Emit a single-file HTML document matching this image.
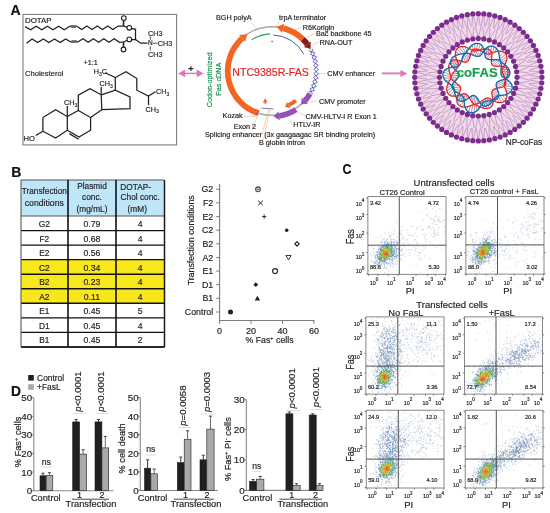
<!DOCTYPE html>
<html><head><meta charset="utf-8"><title>Figure</title>
<style>html,body{margin:0;padding:0;background:#fff;} svg{display:block;}</style></head>
<body><svg width="550" height="513" viewBox="0 0 550 513" font-family="Liberation Sans, Arial, sans-serif">
<rect width="550" height="513" fill="#fff"/>
<text x="10.6" y="14.7" font-size="14" font-weight="bold" fill="#111" stroke="#111" stroke-width="0.18">A</text>
<rect x="23" y="14.4" width="153.6" height="130.5" fill="none" stroke="#7d7d7d" stroke-width="1.1"/>
<text x="25.0" y="23.1" font-size="7.9" fill="#231f20" stroke="#231f20" stroke-width="0.18">DOTAP</text>
<polyline points="25.0,26.6 30.6,29.8 36.2,26.3 41.8,29.8 47.4,26.3 53.0,29.8 58.6,26.3 64.2,29.8 70.2,26.0" fill="none" stroke="#231f20" stroke-width="1.25"/>
<line x1="70.2" y1="26.0" x2="76.5" y2="26.0" stroke="#231f20" stroke-width="1.25"/>
<line x1="70.8" y1="27.3" x2="76.0" y2="27.3" stroke="#231f20" stroke-width="0.8"/>
<polyline points="76.5,26.0 81.7,29.4 86.9,26.0 92.1,29.4 97.3,26.0 102.5,29.4 107.7,26.0 112.9,29.4 118.1,26.0 123.5,26.0" fill="none" stroke="#231f20" stroke-width="1.25"/>
<polyline points="26.5,43.2 32.1,38.9 37.7,42.5 43.3,38.9 48.9,42.5 54.5,38.9 60.1,42.5 65.7,38.9 70.8,42.0" fill="none" stroke="#231f20" stroke-width="1.25"/>
<line x1="70.8" y1="42.0" x2="77.8" y2="42.0" stroke="#231f20" stroke-width="1.25"/>
<line x1="71.4" y1="40.8" x2="77.2" y2="40.8" stroke="#231f20" stroke-width="0.8"/>
<polyline points="77.8,42.0 83.0,38.8 88.2,42.3 93.4,38.8 98.6,42.3 103.8,38.8 109.0,42.3 114.2,38.8 119.4,42.3 123.5,42.0" fill="none" stroke="#231f20" stroke-width="1.25"/>
<line x1="123.5" y1="26.0" x2="123.6" y2="20.2" stroke="#231f20" stroke-width="1.6"/>
<circle cx="123.8" cy="18.1" r="2.35" fill="#fff" stroke="#231f20" stroke-width="1.1"/>
<line x1="123.5" y1="42.0" x2="123.5" y2="47.3" stroke="#231f20" stroke-width="1.6"/>
<circle cx="123.5" cy="49.5" r="2.35" fill="#fff" stroke="#231f20" stroke-width="1.1"/>
<line x1="123.5" y1="26.0" x2="127.2" y2="27.4" stroke="#231f20" stroke-width="1.25"/>
<circle cx="129.3" cy="27.8" r="2.35" fill="#fff" stroke="#231f20" stroke-width="1.1"/>
<line x1="123.5" y1="42.0" x2="127.3" y2="40.2" stroke="#231f20" stroke-width="1.25"/>
<circle cx="129.3" cy="39.4" r="2.35" fill="#fff" stroke="#231f20" stroke-width="1.1"/>
<polyline points="131.4,28.3 135.5,29.3 135.5,39.5 131.4,39.5" fill="none" stroke="#231f20" stroke-width="1.25"/>
<polyline points="135.5,39.5 140.7,43.2 147.6,43.2" fill="none" stroke="#231f20" stroke-width="1.25"/>
<text x="148.0" y="45.3" font-size="6.5" fill="#231f20" stroke="#231f20" stroke-width="0.18">N</text>
<line x1="150.3" y1="36.5" x2="150.3" y2="39.8" stroke="#231f20" stroke-width="0.8"/>
<line x1="150.3" y1="46.3" x2="150.3" y2="50.5" stroke="#231f20" stroke-width="0.8"/>
<line x1="153.0" y1="43.2" x2="157.5" y2="43.2" stroke="#231f20" stroke-width="0.8"/>
<text x="148.0" y="36.0" font-size="7.2" fill="#231f20" stroke="#231f20" stroke-width="0.18">CH3</text>
<text x="157.8" y="45.8" font-size="7.2" fill="#231f20" stroke="#231f20" stroke-width="0.18">CH3</text>
<text x="148.0" y="57.0" font-size="7.2" fill="#231f20" stroke="#231f20" stroke-width="0.18">CH3</text>
<text x="25.0" y="75.6" font-size="7.6" fill="#231f20" stroke="#231f20" stroke-width="0.18">Cholesterol</text>
<text x="83.5" y="65.0" font-size="7.2" fill="#231f20" stroke="#231f20" stroke-width="0.18">+1:1</text>
<polyline points="42.9,117.5 55.6,109.7 67.3,116.5 67.3,130.2 55.6,138.0 42.9,131.2 42.9,117.5" fill="none" stroke="#231f20" stroke-width="1.25"/>
<polyline points="67.3,116.5 78.3,110.5 90.6,117.5 90.6,130.2 79.0,137.0 67.3,130.2" fill="none" stroke="#231f20" stroke-width="1.25"/>
<line x1="69.3" y1="133.6" x2="78.6" y2="139.3" stroke="#231f20" stroke-width="1.25"/>
<polyline points="78.3,110.5 78.3,95.2 90.0,88.8 101.2,94.8 101.8,109.7 90.6,117.5" fill="none" stroke="#231f20" stroke-width="1.25"/>
<polyline points="101.2,94.8 115.3,90.2 130.0,97.0 130.0,108.7 101.8,109.7" fill="none" stroke="#231f20" stroke-width="1.25"/>
<line x1="42.9" y1="131.2" x2="35.8" y2="135.5" stroke="#231f20" stroke-width="1.25"/>
<text x="23.6" y="141.3" font-size="7.6" fill="#231f20" stroke="#231f20" stroke-width="0.18">HO</text>
<line x1="67.3" y1="116.5" x2="67.3" y2="106.0" stroke="#231f20" stroke-width="1.25"/>
<text x="64" y="105.4" font-size="7.2" fill="#231f20" stroke="#231f20" stroke-width="0.18">CH<tspan font-size="5" dy="1.5">3</tspan></text>
<line x1="101.2" y1="94.8" x2="101.2" y2="87.0" stroke="#231f20" stroke-width="1.25"/>
<text x="99.5" y="86.3" font-size="7.2" fill="#231f20" stroke="#231f20" stroke-width="0.18">CH<tspan font-size="5" dy="1.5">3</tspan></text>
<polyline points="115.3,90.2 115.3,77.5 126.0,71.7 136.8,78.5 136.8,90.2 148.5,96.0 155.5,91.8" fill="none" stroke="#231f20" stroke-width="1.25"/>
<line x1="115.3" y1="77.5" x2="105.0" y2="72.8" stroke="#231f20" stroke-width="1.25"/>
<text x="93.8" y="74.2" font-size="7.2" fill="#231f20" stroke="#231f20" stroke-width="0.18">H<tspan font-size="5" dy="1.5">3</tspan><tspan dy="-1.5">C</tspan></text>
<line x1="148.5" y1="96.0" x2="148.5" y2="105.0" stroke="#231f20" stroke-width="1.25"/>
<text x="156" y="94" font-size="7.2" fill="#231f20" stroke="#231f20" stroke-width="0.18">CH<tspan font-size="5" dy="1.5">3</tspan></text>
<text x="145.5" y="111.8" font-size="7.2" fill="#231f20" stroke="#231f20" stroke-width="0.18">CH<tspan font-size="5" dy="1.5">3</tspan></text>
<line x1="184.0" y1="73.4" x2="198.0" y2="73.4" stroke="#d978bd" stroke-width="1.5"/>
<polygon points="178.2,73.4 185.2,69.6 185.2,77.2" fill="#d978bd"/>
<polygon points="203.7,73.4 196.7,69.6 196.7,77.2" fill="#d978bd"/>
<text x="190.8" y="71.6" font-size="9" text-anchor="middle" font-weight="bold" fill="#231f20" stroke="#231f20" stroke-width="0.18">+</text>
<line x1="381.8" y1="73.4" x2="402.0" y2="73.4" stroke="#d978bd" stroke-width="1.9"/>
<polygon points="407.5,73.4 400.4,69.9 400.4,76.9" fill="#d978bd"/>
<circle cx="272" cy="71" r="44.3" fill="none" stroke="#a7a9ac" stroke-width="1.4"/>
<path d="M258.31,113.13 A44.3,44.3 0 0 1 242.12,38.29" fill="none" stroke="#f26522" stroke-width="5.8"/>
<polygon points="245.23,41.69 239.02,34.89 247.23,34.27" fill="#f26522"/>
<path d="M283.02,28.09 A44.3,44.3 0 0 1 302.77,39.13" fill="none" stroke="#f26522" stroke-width="5.8"/>
<polygon points="281.88,32.55 284.17,23.64 276.63,26.94" fill="#f26522"/>
<path d="M302.77,39.13 A44.3,44.3 0 0 1 307.33,44.27" fill="none" stroke="#8b1a1a" stroke-width="5.8"/>
<polygon points="303.82,46.92 310.84,41.61 310.36,48.85" fill="#8b1a1a"/>
<path d="M310.75,49.52 A44.3,44.3 0 0 1 310.36,93.15" fill="none" stroke="#fff" stroke-width="4.6"/>
<polyline points="308.9,51.0 314.8,52.7 312.0,58.1 317.5,60.9 313.7,65.7 318.6,69.4 313.9,73.5 318.1,78.1 312.7,81.2 316.0,86.5 310.2,88.5 312.4,94.3" fill="none" stroke="#4b4fae" stroke-width="0.85"/>
<polyline points="313.0,48.8 310.6,54.5 316.4,56.7 313.0,61.9 318.2,65.1 314.0,69.6 318.5,73.8 313.5,77.4 317.2,82.3 311.6,84.9 314.3,90.5 308.4,92.0" fill="none" stroke="#4b4fae" stroke-width="0.85"/>
<path d="M309.97,93.82 A44.3,44.3 0 0 1 304.98,100.58" fill="none" stroke="#9651b8" stroke-width="5.6"/>
<polygon points="301.70,97.64 308.26,103.51 301.06,104.43" fill="#9651b8"/>
<path d="M296.11,109.59 A45.5,45.5 0 0 1 279.06,115.95" fill="none" stroke="#9651b8" stroke-width="5.6"/>
<polygon points="278.38,111.60 279.74,120.30 273.59,116.47" fill="#9651b8"/>
<path d="M295.91,100.53 A38,38 0 0 1 288.68,105.15" fill="none" stroke="#f26522" stroke-width="4"/>
<polygon points="287.14,102.00 290.21,108.29 285.00,106.71" fill="#f26522"/>
<polygon points="265.2,98.2 262.8,102.6 267.6,102.6" fill="#f26522"/>
<line x1="265.2" y1="102.0" x2="265.2" y2="104.0" stroke="#f26522" stroke-width="1.2"/>
<path d="M251.74,39.80 A37.2,37.2 0 0 1 270.05,33.85" fill="none" stroke="#1fa463" stroke-width="1.2"/>
<path d="M273.26,35.02 A36,36 0 0 1 303.79,54.10" fill="none" stroke="#4b5cb0" stroke-width="1"/>
<rect x="271.3" y="40.8" width="1.5" height="1.3" fill="#4b5cb0"/>
<line x1="262.0" y1="108.2" x2="273.5" y2="109.0" stroke="#4b5cb0" stroke-width="0.8"/>
<line x1="258.0" y1="111.2" x2="257.0" y2="114.6" stroke="#6a5cc0" stroke-width="1.4"/>
<text x="270.6" y="76.2" font-size="10.6" text-anchor="middle" fill="#e0262e" stroke="#e0262e" stroke-width="0.18">NTC9385R-FAS</text>
<text x="216.0" y="20.0" font-size="7.2" fill="#231f20" stroke="#231f20" stroke-width="0.18">BGH polyA</text>
<text x="279.0" y="19.6" font-size="7.2" fill="#231f20" stroke="#231f20" stroke-width="0.18">trpA terminator</text>
<text x="302.7" y="29.6" font-size="7.2" fill="#231f20" stroke="#231f20" stroke-width="0.18">R6Korigin</text>
<text x="316.0" y="35.5" font-size="7.2" fill="#231f20" stroke="#231f20" stroke-width="0.18">Bac backbone 45</text>
<text x="319.6" y="44.5" font-size="7.2" fill="#231f20" stroke="#231f20" stroke-width="0.18">RNA-OUT</text>
<text x="327.3" y="76.0" font-size="7.2" fill="#231f20" stroke="#231f20" stroke-width="0.18">CMV enhancer</text>
<text x="319.0" y="103.6" font-size="7.2" fill="#231f20" stroke="#231f20" stroke-width="0.18">CMV promoter</text>
<text x="305.5" y="119.0" font-size="7.2" fill="#231f20" stroke="#231f20" stroke-width="0.18">CMV-HLTV-I R Exon 1</text>
<text x="293.3" y="127.3" font-size="7.2" fill="#231f20" stroke="#231f20" stroke-width="0.18">HTLV-IR</text>
<text x="222.6" y="118.2" font-size="7.2" fill="#231f20" stroke="#231f20" stroke-width="0.18">Kozak</text>
<text x="233.7" y="128.7" font-size="7.2" fill="#231f20" stroke="#231f20" stroke-width="0.18">Exon 2</text>
<text x="205.0" y="137.0" font-size="7.2" fill="#231f20" stroke="#231f20" stroke-width="0.18">Splicing enhancer (3x gaagaagac SR binding protein)</text>
<text x="259.0" y="144.5" font-size="7.2" fill="#231f20" stroke="#231f20" stroke-width="0.18">B globin intron</text>
<line x1="250.2" y1="21.5" x2="261.0" y2="33.3" stroke="#e8b48c" stroke-width="0.6"/>
<line x1="280.0" y1="20.6" x2="275.0" y2="27.5" stroke="#e8b48c" stroke-width="0.6"/>
<line x1="302.0" y1="27.0" x2="295.0" y2="29.5" stroke="#e8b48c" stroke-width="0.6"/>
<line x1="315.5" y1="33.4" x2="307.0" y2="36.8" stroke="#e8b48c" stroke-width="0.6"/>
<line x1="319.0" y1="42.0" x2="312.5" y2="44.5" stroke="#e8b48c" stroke-width="0.6"/>
<line x1="325.0" y1="73.5" x2="318.0" y2="73.5" stroke="#e8b48c" stroke-width="0.6"/>
<line x1="317.0" y1="101.0" x2="309.0" y2="102.0" stroke="#e8b48c" stroke-width="0.6"/>
<line x1="305.0" y1="116.0" x2="298.0" y2="112.0" stroke="#e8b48c" stroke-width="0.6"/>
<line x1="292.0" y1="124.0" x2="289.0" y2="119.0" stroke="#e8b48c" stroke-width="0.6"/>
<line x1="243.5" y1="117.0" x2="256.5" y2="116.0" stroke="#e8b48c" stroke-width="0.6"/>
<line x1="252.5" y1="127.5" x2="261.5" y2="107.5" stroke="#e8b48c" stroke-width="0.6"/>
<line x1="262.0" y1="134.0" x2="268.6" y2="109.5" stroke="#e8b48c" stroke-width="0.6"/>
<line x1="263.5" y1="139.5" x2="269.8" y2="109.5" stroke="#e8b48c" stroke-width="0.6"/>
<line x1="221.5" y1="77.4" x2="226.0" y2="77.4" stroke="#e8b48c" stroke-width="0.6"/>
<text transform="translate(211.8,107.3) rotate(-90)" font-size="7.25" fill="#169650" stroke="#169650" stroke-width="0.18">Codon-optimized</text>
<text transform="translate(221.2,95.8) rotate(-90)" font-size="7.3" fill="#169650" stroke="#169650" stroke-width="0.18">Fas cDNA</text>
<circle cx="478.3" cy="77.3" r="51.6" fill="none" stroke="#f5d7ec" stroke-width="21"/>
<path d="M539.1,76.8L529.5,75.4M539.1,77.8L529.5,79.2M538.9,82.1L529.4,79.9M538.8,83.1L529.1,83.6M538.3,87.3L529.0,84.3M538.1,88.4L528.4,88.0M537.2,92.5L528.2,88.7M536.9,93.5L527.2,92.4M535.6,97.6L527.0,93.0M535.2,98.6L525.7,96.6M533.6,102.5L525.5,97.2M533.2,103.5L523.9,100.6M531.2,107.2L523.5,101.3M530.7,108.2L521.7,104.5M528.4,111.7L521.3,105.1M527.8,112.6L519.1,108.2M525.2,116.0L518.7,108.8M524.5,116.8L516.3,111.6M521.7,119.9L515.8,112.2M520.9,120.7L513.2,114.8M517.8,123.5L512.6,115.3M517.0,124.2L509.8,117.7M513.6,126.8L509.2,118.1M512.7,127.4L506.1,120.3M509.2,129.7L505.5,120.7M508.2,130.2L502.3,122.5M504.5,132.2L501.6,122.9M503.5,132.6L498.2,124.5M499.6,134.2L497.6,124.7M498.6,134.6L494.0,126.0M494.5,135.9L493.4,126.2M493.5,136.2L489.7,127.2M489.4,137.1L489.0,127.4M488.3,137.3L485.3,128.0M484.1,137.8L484.6,128.1M483.1,137.9L480.9,128.4M478.8,138.1L480.2,128.5M477.8,138.1L476.4,128.5M473.5,137.9L475.7,128.4M472.5,137.8L472.0,128.1M468.3,137.3L471.3,128.0M467.2,137.1L467.6,127.4M463.1,136.2L466.9,127.2M462.1,135.9L463.2,126.2M458.0,134.6L462.6,126.0M457.0,134.2L459.0,124.7M453.1,132.6L458.4,124.5M452.1,132.2L455.0,122.9M448.4,130.2L454.3,122.5M447.4,129.7L451.1,120.7M443.9,127.4L450.5,120.3M443.0,126.8L447.4,118.1M439.6,124.2L446.8,117.7M438.8,123.5L444.0,115.3M435.7,120.7L443.4,114.8M434.9,119.9L440.8,112.2M432.1,116.8L440.3,111.6M431.4,116.0L437.9,108.8M428.8,112.6L437.5,108.2M428.2,111.7L435.3,105.1M425.9,108.2L434.9,104.5M425.4,107.2L433.1,101.3M423.4,103.5L432.7,100.6M423.0,102.5L431.1,97.2M421.4,98.6L430.9,96.6M421.0,97.6L429.6,93.0M419.7,93.5L429.4,92.4M419.4,92.5L428.4,88.7M418.5,88.4L428.2,88.0M418.3,87.3L427.6,84.3M417.8,83.1L427.5,83.6M417.7,82.1L427.2,79.9M417.5,77.8L427.1,79.2M417.5,76.8L427.1,75.4M417.7,72.5L427.2,74.7M417.8,71.5L427.5,71.0M418.3,67.3L427.6,70.3M418.5,66.2L428.2,66.6M419.4,62.1L428.4,65.9M419.7,61.1L429.4,62.2M421.0,57.0L429.6,61.6M421.4,56.0L430.9,58.0M423.0,52.1L431.1,57.4M423.4,51.1L432.7,54.0M425.4,47.4L433.1,53.3M425.9,46.4L434.9,50.1M428.2,42.9L435.3,49.5M428.8,42.0L437.5,46.4M431.4,38.6L437.9,45.8M432.1,37.8L440.3,43.0M434.9,34.7L440.8,42.4M435.7,33.9L443.4,39.8M438.8,31.1L444.0,39.3M439.6,30.4L446.8,36.9M443.0,27.8L447.4,36.5M443.9,27.2L450.5,34.3M447.4,24.9L451.1,33.9M448.4,24.4L454.3,32.1M452.1,22.4L455.0,31.7M453.1,22.0L458.4,30.1M457.0,20.4L459.0,29.9M458.0,20.0L462.6,28.6M462.1,18.7L463.2,28.4M463.1,18.4L466.9,27.4M467.2,17.5L467.6,27.2M468.3,17.3L471.3,26.6M472.5,16.8L472.0,26.5M473.5,16.7L475.7,26.2M477.8,16.5L476.4,26.1M478.8,16.5L480.2,26.1M483.1,16.7L480.9,26.2M484.1,16.8L484.6,26.5M488.3,17.3L485.3,26.6M489.4,17.5L489.0,27.2M493.5,18.4L489.7,27.4M494.5,18.7L493.4,28.4M498.6,20.0L494.0,28.6M499.6,20.4L497.6,29.9M503.5,22.0L498.2,30.1M504.5,22.4L501.6,31.7M508.2,24.4L502.3,32.1M509.2,24.9L505.5,33.9M512.7,27.2L506.1,34.3M513.6,27.8L509.2,36.5M517.0,30.4L509.8,36.9M517.8,31.1L512.6,39.3M520.9,33.9L513.2,39.8M521.7,34.7L515.8,42.4M524.5,37.8L516.3,43.0M525.2,38.6L518.7,45.8M527.8,42.0L519.1,46.4M528.4,42.9L521.3,49.5M530.7,46.4L521.7,50.1M531.2,47.4L523.5,53.3M533.2,51.1L523.9,54.0M533.6,52.1L525.5,57.4M535.2,56.0L525.7,58.0M535.6,57.0L527.0,61.6M536.9,61.1L527.2,62.2M537.2,62.1L528.2,65.9M538.1,66.2L528.4,66.6M538.3,67.3L529.0,70.3M538.8,71.5L529.1,71.0M538.9,72.5L529.4,74.7M519.7,76.9L529.2,74.4M519.7,77.7L529.2,80.2M519.3,82.8L529.1,81.6M519.2,83.6L528.3,87.5M518.1,88.5L528.0,88.8M517.9,89.4L526.3,94.5M516.1,94.1L525.8,95.8M515.8,94.9L523.4,101.1M513.4,99.3L522.7,102.4M512.9,100.0L519.5,107.3M509.9,104.1L518.7,108.4M509.3,104.7L514.9,112.9M505.7,108.3L513.9,113.9M505.1,108.9L509.4,117.7M501.0,111.9L508.3,118.5M500.3,112.4L503.4,121.7M495.9,114.8L502.1,122.4M495.1,115.1L496.8,124.8M490.4,116.9L495.5,125.3M489.5,117.1L489.8,127.0M484.6,118.2L488.5,127.3M483.8,118.3L482.6,128.1M478.7,118.7L481.2,128.2M477.9,118.7L475.4,128.2M472.8,118.3L474.0,128.1M472.0,118.2L468.1,127.3M467.1,117.1L466.8,127.0M466.2,116.9L461.1,125.3M461.5,115.1L459.8,124.8M460.7,114.8L454.5,122.4M456.3,112.4L453.2,121.7M455.6,111.9L448.3,118.5M451.5,108.9L447.2,117.7M450.9,108.3L442.7,113.9M447.3,104.7L441.7,112.9M446.7,104.1L437.9,108.4M443.7,100.0L437.1,107.3M443.2,99.3L433.9,102.4M440.8,94.9L433.2,101.1M440.5,94.1L430.8,95.8M438.7,89.4L430.3,94.5M438.5,88.5L428.6,88.8M437.4,83.6L428.3,87.5M437.3,82.8L427.5,81.6M436.9,77.7L427.4,80.2M436.9,76.9L427.4,74.4M437.3,71.8L427.5,73.0M437.4,71.0L428.3,67.1M438.5,66.1L428.6,65.8M438.7,65.2L430.3,60.1M440.5,60.5L430.8,58.8M440.8,59.7L433.2,53.5M443.2,55.3L433.9,52.2M443.7,54.6L437.1,47.3M446.7,50.5L437.9,46.2M447.3,49.9L441.7,41.7M450.9,46.3L442.7,40.7M451.5,45.7L447.2,36.9M455.6,42.7L448.3,36.1M456.3,42.2L453.2,32.9M460.7,39.8L454.5,32.2M461.5,39.5L459.8,29.8M466.2,37.7L461.1,29.3M467.1,37.5L466.8,27.6M472.0,36.4L468.1,27.3M472.8,36.3L474.0,26.5M477.9,35.9L475.4,26.4M478.7,35.9L481.2,26.4M483.8,36.3L482.6,26.5M484.6,36.4L488.5,27.3M489.5,37.5L489.8,27.6M490.4,37.7L495.5,29.3M495.1,39.5L496.8,29.8M495.9,39.8L502.1,32.2M500.3,42.2L503.4,32.9M501.0,42.7L508.3,36.1M505.1,45.7L509.4,36.9M505.7,46.3L513.9,40.7M509.3,49.9L514.9,41.7M509.9,50.5L518.7,46.2M512.9,54.6L519.5,47.3M513.4,55.3L522.7,52.2M515.8,59.7L523.4,53.5M516.1,60.5L525.8,58.8M517.9,65.2L526.3,60.1M518.1,66.1L528.0,65.8M519.2,71.0L528.3,67.1M519.3,71.8L529.1,73.0" fill="none" stroke="#a287b0" stroke-width="0.65"/>
<circle cx="541.9" cy="77.3" r="2.65" fill="#7b2d8e"/>
<circle cx="541.7" cy="82.8" r="2.65" fill="#7b2d8e"/>
<circle cx="540.9" cy="88.3" r="2.65" fill="#7b2d8e"/>
<circle cx="539.7" cy="93.8" r="2.65" fill="#7b2d8e"/>
<circle cx="538.1" cy="99.1" r="2.65" fill="#7b2d8e"/>
<circle cx="535.9" cy="104.2" r="2.65" fill="#7b2d8e"/>
<circle cx="533.4" cy="109.1" r="2.65" fill="#7b2d8e"/>
<circle cx="530.4" cy="113.8" r="2.65" fill="#7b2d8e"/>
<circle cx="527.0" cy="118.2" r="2.65" fill="#7b2d8e"/>
<circle cx="523.3" cy="122.3" r="2.65" fill="#7b2d8e"/>
<circle cx="519.2" cy="126.0" r="2.65" fill="#7b2d8e"/>
<circle cx="514.8" cy="129.4" r="2.65" fill="#7b2d8e"/>
<circle cx="510.1" cy="132.4" r="2.65" fill="#7b2d8e"/>
<circle cx="505.2" cy="134.9" r="2.65" fill="#7b2d8e"/>
<circle cx="500.1" cy="137.1" r="2.65" fill="#7b2d8e"/>
<circle cx="494.8" cy="138.7" r="2.65" fill="#7b2d8e"/>
<circle cx="489.3" cy="139.9" r="2.65" fill="#7b2d8e"/>
<circle cx="483.8" cy="140.7" r="2.65" fill="#7b2d8e"/>
<circle cx="478.3" cy="140.9" r="2.65" fill="#7b2d8e"/>
<circle cx="472.8" cy="140.7" r="2.65" fill="#7b2d8e"/>
<circle cx="467.3" cy="139.9" r="2.65" fill="#7b2d8e"/>
<circle cx="461.8" cy="138.7" r="2.65" fill="#7b2d8e"/>
<circle cx="456.5" cy="137.1" r="2.65" fill="#7b2d8e"/>
<circle cx="451.4" cy="134.9" r="2.65" fill="#7b2d8e"/>
<circle cx="446.5" cy="132.4" r="2.65" fill="#7b2d8e"/>
<circle cx="441.8" cy="129.4" r="2.65" fill="#7b2d8e"/>
<circle cx="437.4" cy="126.0" r="2.65" fill="#7b2d8e"/>
<circle cx="433.3" cy="122.3" r="2.65" fill="#7b2d8e"/>
<circle cx="429.6" cy="118.2" r="2.65" fill="#7b2d8e"/>
<circle cx="426.2" cy="113.8" r="2.65" fill="#7b2d8e"/>
<circle cx="423.2" cy="109.1" r="2.65" fill="#7b2d8e"/>
<circle cx="420.7" cy="104.2" r="2.65" fill="#7b2d8e"/>
<circle cx="418.5" cy="99.1" r="2.65" fill="#7b2d8e"/>
<circle cx="416.9" cy="93.8" r="2.65" fill="#7b2d8e"/>
<circle cx="415.7" cy="88.3" r="2.65" fill="#7b2d8e"/>
<circle cx="414.9" cy="82.8" r="2.65" fill="#7b2d8e"/>
<circle cx="414.7" cy="77.3" r="2.65" fill="#7b2d8e"/>
<circle cx="414.9" cy="71.8" r="2.65" fill="#7b2d8e"/>
<circle cx="415.7" cy="66.3" r="2.65" fill="#7b2d8e"/>
<circle cx="416.9" cy="60.8" r="2.65" fill="#7b2d8e"/>
<circle cx="418.5" cy="55.5" r="2.65" fill="#7b2d8e"/>
<circle cx="420.7" cy="50.4" r="2.65" fill="#7b2d8e"/>
<circle cx="423.2" cy="45.5" r="2.65" fill="#7b2d8e"/>
<circle cx="426.2" cy="40.8" r="2.65" fill="#7b2d8e"/>
<circle cx="429.6" cy="36.4" r="2.65" fill="#7b2d8e"/>
<circle cx="433.3" cy="32.3" r="2.65" fill="#7b2d8e"/>
<circle cx="437.4" cy="28.6" r="2.65" fill="#7b2d8e"/>
<circle cx="441.8" cy="25.2" r="2.65" fill="#7b2d8e"/>
<circle cx="446.5" cy="22.2" r="2.65" fill="#7b2d8e"/>
<circle cx="451.4" cy="19.7" r="2.65" fill="#7b2d8e"/>
<circle cx="456.5" cy="17.5" r="2.65" fill="#7b2d8e"/>
<circle cx="461.8" cy="15.9" r="2.65" fill="#7b2d8e"/>
<circle cx="467.3" cy="14.7" r="2.65" fill="#7b2d8e"/>
<circle cx="472.8" cy="13.9" r="2.65" fill="#7b2d8e"/>
<circle cx="478.3" cy="13.7" r="2.65" fill="#7b2d8e"/>
<circle cx="483.8" cy="13.9" r="2.65" fill="#7b2d8e"/>
<circle cx="489.3" cy="14.7" r="2.65" fill="#7b2d8e"/>
<circle cx="494.8" cy="15.9" r="2.65" fill="#7b2d8e"/>
<circle cx="500.1" cy="17.5" r="2.65" fill="#7b2d8e"/>
<circle cx="505.2" cy="19.7" r="2.65" fill="#7b2d8e"/>
<circle cx="510.1" cy="22.2" r="2.65" fill="#7b2d8e"/>
<circle cx="514.8" cy="25.2" r="2.65" fill="#7b2d8e"/>
<circle cx="519.2" cy="28.6" r="2.65" fill="#7b2d8e"/>
<circle cx="523.3" cy="32.3" r="2.65" fill="#7b2d8e"/>
<circle cx="527.0" cy="36.4" r="2.65" fill="#7b2d8e"/>
<circle cx="530.4" cy="40.8" r="2.65" fill="#7b2d8e"/>
<circle cx="533.4" cy="45.5" r="2.65" fill="#7b2d8e"/>
<circle cx="535.9" cy="50.4" r="2.65" fill="#7b2d8e"/>
<circle cx="538.1" cy="55.5" r="2.65" fill="#7b2d8e"/>
<circle cx="539.7" cy="60.8" r="2.65" fill="#7b2d8e"/>
<circle cx="540.9" cy="66.3" r="2.65" fill="#7b2d8e"/>
<circle cx="541.7" cy="71.8" r="2.65" fill="#7b2d8e"/>
<circle cx="517.1" cy="77.3" r="2.65" fill="#7b2d8e"/>
<circle cx="516.7" cy="82.8" r="2.65" fill="#7b2d8e"/>
<circle cx="515.5" cy="88.2" r="2.65" fill="#7b2d8e"/>
<circle cx="513.6" cy="93.4" r="2.65" fill="#7b2d8e"/>
<circle cx="510.9" cy="98.3" r="2.65" fill="#7b2d8e"/>
<circle cx="507.6" cy="102.7" r="2.65" fill="#7b2d8e"/>
<circle cx="503.7" cy="106.6" r="2.65" fill="#7b2d8e"/>
<circle cx="499.3" cy="109.9" r="2.65" fill="#7b2d8e"/>
<circle cx="494.4" cy="112.6" r="2.65" fill="#7b2d8e"/>
<circle cx="489.2" cy="114.5" r="2.65" fill="#7b2d8e"/>
<circle cx="483.8" cy="115.7" r="2.65" fill="#7b2d8e"/>
<circle cx="478.3" cy="116.1" r="2.65" fill="#7b2d8e"/>
<circle cx="472.8" cy="115.7" r="2.65" fill="#7b2d8e"/>
<circle cx="467.4" cy="114.5" r="2.65" fill="#7b2d8e"/>
<circle cx="462.2" cy="112.6" r="2.65" fill="#7b2d8e"/>
<circle cx="457.3" cy="109.9" r="2.65" fill="#7b2d8e"/>
<circle cx="452.9" cy="106.6" r="2.65" fill="#7b2d8e"/>
<circle cx="449.0" cy="102.7" r="2.65" fill="#7b2d8e"/>
<circle cx="445.7" cy="98.3" r="2.65" fill="#7b2d8e"/>
<circle cx="443.0" cy="93.4" r="2.65" fill="#7b2d8e"/>
<circle cx="441.1" cy="88.2" r="2.65" fill="#7b2d8e"/>
<circle cx="439.9" cy="82.8" r="2.65" fill="#7b2d8e"/>
<circle cx="439.5" cy="77.3" r="2.65" fill="#7b2d8e"/>
<circle cx="439.9" cy="71.8" r="2.65" fill="#7b2d8e"/>
<circle cx="441.1" cy="66.4" r="2.65" fill="#7b2d8e"/>
<circle cx="443.0" cy="61.2" r="2.65" fill="#7b2d8e"/>
<circle cx="445.7" cy="56.3" r="2.65" fill="#7b2d8e"/>
<circle cx="449.0" cy="51.9" r="2.65" fill="#7b2d8e"/>
<circle cx="452.9" cy="48.0" r="2.65" fill="#7b2d8e"/>
<circle cx="457.3" cy="44.7" r="2.65" fill="#7b2d8e"/>
<circle cx="462.2" cy="42.0" r="2.65" fill="#7b2d8e"/>
<circle cx="467.4" cy="40.1" r="2.65" fill="#7b2d8e"/>
<circle cx="472.8" cy="38.9" r="2.65" fill="#7b2d8e"/>
<circle cx="478.3" cy="38.5" r="2.65" fill="#7b2d8e"/>
<circle cx="483.8" cy="38.9" r="2.65" fill="#7b2d8e"/>
<circle cx="489.2" cy="40.1" r="2.65" fill="#7b2d8e"/>
<circle cx="494.4" cy="42.0" r="2.65" fill="#7b2d8e"/>
<circle cx="499.3" cy="44.7" r="2.65" fill="#7b2d8e"/>
<circle cx="503.7" cy="48.0" r="2.65" fill="#7b2d8e"/>
<circle cx="507.6" cy="51.9" r="2.65" fill="#7b2d8e"/>
<circle cx="510.9" cy="56.3" r="2.65" fill="#7b2d8e"/>
<circle cx="513.6" cy="61.2" r="2.65" fill="#7b2d8e"/>
<circle cx="515.5" cy="66.4" r="2.65" fill="#7b2d8e"/>
<circle cx="516.7" cy="71.8" r="2.65" fill="#7b2d8e"/>
<path d="M507.0,77.3L505.9,77.7M504.8,82.1L507.1,81.8M504.2,84.0L507.7,84.0M504.3,85.8L508.2,86.2M505.0,87.8L508.4,88.6M506.0,90.2L508.2,91.1M506.9,96.2L505.9,95.5M506.1,99.1L504.1,97.2M504.3,101.3L502.0,98.4M501.7,102.5L499.7,99.2M498.8,102.6L497.5,99.7M495.8,101.8L495.3,100.0M491.0,99.1L491.2,100.9M489.1,98.2L489.1,101.4M487.3,98.0L487.1,101.9M485.4,98.6L485.0,102.4M483.4,99.8L482.9,102.6M481.2,101.3L481.0,102.6M477.0,103.9L477.5,101.6M475.2,104.3L475.9,100.8M473.7,103.8L474.4,99.9M472.3,102.5L472.9,99.0M470.9,100.5L471.3,98.2M468.2,96.3L468.0,97.4M466.7,94.7L466.1,97.4M465.1,93.8L464.2,97.5M463.2,93.8L462.1,97.6M461.1,94.4L459.9,97.5M458.5,95.4L457.8,97.0M452.7,96.2L453.8,94.7M450.0,95.4L452.2,93.0M448.0,93.5L450.9,90.9M446.9,90.9L450.0,88.7M446.8,87.9L449.3,86.6M447.5,84.9L448.7,84.5M449.9,80.1L447.6,80.3M450.7,78.3L447.1,78.1M450.7,76.5L446.8,75.8M450.2,74.5L446.9,73.4M449.5,72.0L447.3,71.0M448.8,66.0L449.7,66.8M449.5,63.3L451.5,65.3M451.1,61.2L453.5,64.1M453.3,60.1L455.6,63.3M455.9,59.9L457.6,62.6M458.6,60.4L459.5,62.0M463.6,62.0L462.8,60.4M465.6,62.2L464.3,59.3M467.2,61.7L465.7,58.1M468.5,60.3L467.0,56.9M469.5,58.3L468.3,55.7M470.2,55.8L469.6,54.7M471.7,51.3L472.7,53.3M473.0,49.8L474.6,53.0M474.9,49.1L476.5,52.7M477.2,49.2L478.5,52.6M479.8,50.1L480.5,52.3M484.7,52.7L484.5,51.5M486.7,53.8L486.5,51.0M488.6,54.2L488.7,50.4M490.4,53.8L490.9,49.9M492.5,53.0L493.4,49.8M495.1,51.9L495.8,50.2M501.1,51.1L500.1,52.6M503.9,52.2L501.7,54.5M505.9,54.2L502.8,56.6M506.9,57.0L503.6,58.9M506.7,60.0L504.1,61.1M505.7,62.9L504.5,63.2M503.0,67.5L505.3,67.5M502.2,69.3L505.7,69.6M502.1,71.2L506.0,71.9M502.6,73.2L506.1,74.2M503.6,75.6L505.9,76.4M505.5,80.8L504.4,80.3M505.7,83.2L503.2,81.9M505.1,85.1L501.8,83.2M503.8,86.4L500.4,84.4M501.8,87.3L499.0,85.6M499.4,87.8L497.8,86.9M494.6,89.0L496.2,89.8M492.9,90.0L495.8,91.5M492.0,91.5L495.5,93.3M491.8,93.4L495.1,95.2M492.2,95.7L494.7,97.1M492.8,98.3L493.9,99.0M492.9,103.8L491.1,102.3M491.7,106.2L489.3,103.6M489.7,107.7L487.2,104.6M487.0,108.4L485.0,105.4M483.9,108.2L482.9,106.1M478.5,106.1L478.8,107.3M476.5,105.1L476.7,107.9M474.7,104.7L474.5,108.5M472.9,104.9L472.1,108.8M470.7,105.7L469.7,108.7M468.1,106.5L467.3,108.2M462.0,106.8L463.2,105.4M459.4,105.6L461.8,103.5M457.6,103.6L460.8,101.3M456.8,100.9L460.1,99.1M457.0,98.1L459.6,96.9M458.0,95.3L459.2,94.9M460.2,90.6L458.0,91.1M460.7,88.8L457.2,89.3M460.3,87.0L456.3,87.5M459.1,85.4L455.5,85.8M457.3,83.8L454.9,84.1M453.2,80.9L454.4,80.8M451.7,79.4L454.5,79.1M451.0,77.9L454.8,77.4M451.2,76.1L455.1,75.6M452.3,74.2L455.5,73.7M453.8,72.1L455.6,71.9M457.1,68.1L455.4,68.1M458.2,66.3L455.0,66.1M458.5,64.5L454.6,64.0M458.0,62.5L454.3,61.8M457.1,60.3L454.4,59.4M456.1,57.6L454.9,57.1M455.6,51.6L457.5,53.0M456.9,49.0L459.4,51.5M459.1,47.2L461.6,50.4M462.0,46.5L463.8,49.6M465.1,46.9L466.0,49.0M470.3,49.3L470.2,48.2M472.3,50.5L472.3,47.7M474.1,51.1L474.6,47.3M475.9,51.0L476.9,47.2M478.1,50.4L479.3,47.3M480.8,49.5L481.6,47.9M486.5,48.8L485.4,50.3M488.9,49.5L486.9,51.9M490.7,50.9L488.0,53.7M491.7,52.9L488.9,55.5M491.9,55.3L489.8,57.2M491.7,57.9L490.7,58.7M491.4,62.7L493.1,61.2M492.0,64.5L494.6,62.1M493.3,65.7L496.2,62.9M495.3,66.2L497.8,63.7M497.7,66.3L499.4,64.6M502.9,66.4L502.0,67.2M505.3,67.1L503.1,68.9M507.0,68.6L503.9,70.8M507.9,70.8L504.6,72.9M508.0,73.5L505.1,75.0M507.4,76.4L505.7,77.1" stroke="#e0313a" stroke-width="0.65" fill="none"/>
<path d="M505.9,77.7L504.7,78.2M507.1,81.8L509.4,81.5M507.7,84.0L511.3,83.9M508.2,86.2L512.2,86.7M508.4,88.6L511.9,89.5M508.2,91.1L510.4,92.0M505.9,95.5L505.0,94.8M504.1,97.2L502.1,95.2M502.0,98.4L499.6,95.4M499.7,99.2L497.7,95.8M497.5,99.7L496.1,96.7M495.3,100.0L494.7,98.3M491.2,100.9L491.4,102.6M489.1,101.4L489.2,104.6M487.1,101.9L486.8,105.9M485.0,102.4L484.5,106.1M482.9,102.6L482.5,105.4M481.0,102.6L480.7,103.8M477.5,101.6L478.0,99.4M475.9,100.8L476.7,97.4M474.4,99.9L475.2,96.0M472.9,99.0L473.6,95.5M471.3,98.2L471.7,95.9M468.0,97.4L467.7,98.6M466.1,97.4L465.6,100.2M464.2,97.5L463.3,101.2M462.1,97.6L461.0,101.4M459.9,97.5L458.8,100.5M457.8,97.0L457.0,98.7M453.8,94.7L454.8,93.3M452.2,93.0L454.3,90.6M450.9,90.9L453.8,88.3M450.0,88.7L453.1,86.6M449.3,86.6L451.8,85.3M448.7,84.5L449.9,84.0M447.6,80.3L445.3,80.5M447.1,78.1L443.6,77.9M446.8,75.8L442.9,75.0M446.9,73.4L443.5,72.2M447.3,71.0L445.2,69.9M449.7,66.8L450.7,67.6M451.5,65.3L453.5,67.2M453.5,64.1L456.0,67.0M455.6,63.3L457.9,66.5M457.6,62.6L459.3,65.4M459.5,62.0L460.4,63.6M462.8,60.4L462.1,58.8M464.3,59.3L463.0,56.4M465.7,58.1L464.1,54.5M467.0,56.9L465.4,53.4M468.3,55.7L467.1,53.1M469.6,54.7L469.1,53.6M472.7,53.3L473.8,55.4M474.6,53.0L476.1,56.2M476.5,52.7L478.1,56.4M478.5,52.6L479.8,55.9M480.5,52.3L481.3,54.6M484.5,51.5L484.3,50.3M486.5,51.0L486.3,48.2M488.7,50.4L488.8,46.6M490.9,49.9L491.5,46.0M493.4,49.8L494.2,46.7M495.8,50.2L496.4,48.5M500.1,52.6L499.0,54.0M501.7,54.5L499.4,56.8M502.8,56.6L499.7,59.0M503.6,58.9L500.3,60.8M504.1,61.1L501.5,62.2M504.5,63.2L503.3,63.6M505.3,67.5L507.6,67.4M505.7,69.6L509.2,69.9M506.0,71.9L509.9,72.6M506.1,74.2L509.5,75.1M505.9,76.4L508.1,77.2M504.4,80.3L503.3,79.7M503.2,81.9L500.7,80.5M501.8,83.2L498.6,81.3M500.4,84.4L497.0,82.4M499.0,85.6L496.2,84.0M497.8,86.9L496.2,86.0M496.2,89.8L497.8,90.7M495.8,91.5L498.6,93.0M495.5,93.3L498.9,95.2M495.1,95.2L498.5,97.1M494.7,97.1L497.1,98.6M493.9,99.0L494.9,99.7M491.1,102.3L489.4,100.8M489.3,103.6L486.8,101.1M487.2,104.6L484.7,101.5M485.0,105.4L483.1,102.4M482.9,106.1L481.9,104.0M478.8,107.3L479.0,108.5M476.7,107.9L476.9,110.7M474.5,108.5L474.3,112.3M472.1,108.8L471.4,112.7M469.7,108.7L468.6,111.8M467.3,108.2L466.5,109.8M463.2,105.4L464.4,104.1M461.8,103.5L464.2,101.3M460.8,101.3L464.0,99.0M460.1,99.1L463.4,97.2M459.6,96.9L462.2,95.8M459.2,94.9L460.4,94.5M458.0,91.1L455.7,91.6M457.2,89.3L453.7,89.8M456.3,87.5L452.4,88.0M455.5,85.8L452.0,86.1M454.9,84.1L452.6,84.3M454.4,80.8L455.6,80.6M454.5,79.1L457.3,78.7M454.8,77.4L458.5,76.8M455.1,75.6L459.0,75.0M455.5,73.7L458.7,73.3M455.6,71.9L457.5,71.7M455.4,68.1L453.6,68.2M455.0,66.1L451.8,66.0M454.6,64.0L450.7,63.6M454.3,61.8L450.6,61.0M454.4,59.4L451.7,58.6M454.9,57.1L453.8,56.6M457.5,53.0L459.3,54.4M459.4,51.5L461.9,54.0M461.6,50.4L464.0,53.5M463.8,49.6L465.6,52.7M466.0,49.0L466.9,51.2M470.2,48.2L470.0,47.0M472.3,47.7L472.3,44.9M474.6,47.3L475.1,43.6M476.9,47.2L477.9,43.4M479.3,47.3L480.4,44.3M481.6,47.9L482.4,46.3M485.4,50.3L484.4,51.7M486.9,51.9L484.8,54.4M488.0,53.7L485.3,56.5M488.9,55.5L486.2,58.1M489.8,57.2L487.7,59.1M490.7,58.7L489.8,59.6M493.1,61.2L494.9,59.6M494.6,62.1L497.2,59.7M496.2,62.9L499.1,60.2M497.8,63.7L500.4,61.2M499.4,64.6L501.0,63.0M502.0,67.2L501.1,68.0M503.1,68.9L500.9,70.7M503.9,70.8L500.9,73.1M504.6,72.9L501.3,75.0M505.1,75.0L502.3,76.5M505.7,77.1L504.0,77.8" stroke="#2a6fa8" stroke-width="0.65" fill="none"/>
<polyline points="507.0,77.3 506.8,77.8 506.6,78.4 506.3,78.9 506.1,79.4 505.9,79.9 505.6,80.4 505.4,80.9 505.2,81.3 505.0,81.7 504.8,82.1 504.6,82.5 504.5,82.9 504.4,83.3 504.3,83.7 504.2,84.0 504.1,84.4 504.1,84.7 504.2,85.1 504.2,85.5 504.3,85.8 504.4,86.2 504.5,86.6 504.6,87.0 504.8,87.4 505.0,87.8 505.2,88.3 505.3,88.7 505.5,89.2 505.8,89.7 506.0,90.2 506.1,90.8 506.3,91.3 506.5,91.9 506.6,92.5 506.8,93.1 506.8,93.7 506.9,94.4 506.9,95.0 506.9,95.6 506.9,96.2 506.8,96.8 506.7,97.4 506.5,98.0 506.3,98.6 506.1,99.1 505.8,99.6 505.5,100.1 505.1,100.6 504.7,101.0 504.3,101.3 503.8,101.7 503.3,102.0 502.8,102.2 502.3,102.4 501.7,102.5 501.1,102.6 500.6,102.7 500.0,102.7 499.4,102.7 498.8,102.6 498.2,102.5 497.6,102.4 497.0,102.2 496.4,102.0 495.8,101.8 495.3,101.5 494.7,101.3 494.2,101.0 493.7,100.7 493.2,100.4 492.7,100.2 492.3,99.9 491.8,99.6 491.4,99.3 491.0,99.1 490.6,98.9 490.2,98.7 489.8,98.5 489.4,98.3 489.1,98.2 488.7,98.1 488.3,98.0 488.0,98.0 487.6,98.0 487.3,98.0 486.9,98.1 486.5,98.1 486.2,98.3 485.8,98.4 485.4,98.6 485.0,98.8 484.6,99.0 484.2,99.3 483.8,99.5 483.4,99.8 483.0,100.1 482.5,100.4 482.1,100.7 481.7,101.0 481.2,101.3 480.8,101.7 480.3,102.0 479.9,102.3 479.5,102.6 479.0,102.8 478.6,103.1 478.2,103.3 477.8,103.6 477.4,103.7 477.0,103.9 476.6,104.0 476.2,104.2 475.9,104.2 475.5,104.3 475.2,104.3 474.9,104.3 474.6,104.2 474.2,104.1 473.9,104.0 473.7,103.8 473.4,103.6 473.1,103.4 472.8,103.1 472.5,102.8 472.3,102.5 472.0,102.1 471.7,101.8 471.5,101.4 471.2,101.0 470.9,100.5 470.7,100.1 470.4,99.7 470.1,99.2 469.9,98.8 469.6,98.3 469.3,97.9 469.0,97.5 468.7,97.0 468.5,96.6 468.2,96.3 467.9,95.9 467.6,95.5 467.3,95.2 467.0,94.9 466.7,94.7 466.4,94.4 466.0,94.2 465.7,94.1 465.4,93.9 465.1,93.8 464.7,93.8 464.3,93.7 464.0,93.7 463.6,93.8 463.2,93.8 462.8,93.9 462.4,94.0 462.0,94.1 461.5,94.3 461.1,94.4 460.6,94.6 460.1,94.8 459.6,95.0 459.1,95.2 458.5,95.4 458.0,95.5 457.4,95.7 456.8,95.8 456.3,96.0 455.7,96.1 455.1,96.2 454.5,96.2 453.9,96.2 453.3,96.2 452.7,96.2 452.2,96.1 451.6,96.0 451.1,95.8 450.5,95.6 450.0,95.4 449.6,95.1 449.1,94.7 448.7,94.4 448.3,94.0 448.0,93.5 447.7,93.1 447.4,92.6 447.2,92.0 447.0,91.5 446.9,90.9 446.8,90.3 446.7,89.7 446.7,89.1 446.7,88.5 446.8,87.9 446.9,87.3 447.0,86.7 447.1,86.1 447.3,85.5 447.5,84.9 447.8,84.3 448.0,83.8 448.2,83.3 448.5,82.7 448.8,82.3 449.0,81.8 449.3,81.4 449.5,80.9 449.7,80.5 449.9,80.1 450.1,79.7 450.3,79.4 450.5,79.0 450.6,78.7 450.7,78.3 450.7,78.0 450.8,77.6 450.8,77.3 450.8,76.9 450.7,76.5 450.7,76.2 450.6,75.8 450.5,75.4 450.4,74.9 450.2,74.5 450.1,74.0 449.9,73.5 449.8,73.0 449.6,72.5 449.5,72.0 449.3,71.4 449.2,70.9 449.0,70.3 448.9,69.7 448.8,69.1 448.8,68.5 448.7,67.9 448.7,67.2 448.7,66.6 448.8,66.0 448.9,65.5 449.0,64.9 449.1,64.3 449.3,63.8 449.5,63.3 449.8,62.8 450.0,62.4 450.4,62.0 450.7,61.6 451.1,61.2 451.5,60.9 451.9,60.7 452.3,60.4 452.8,60.2 453.3,60.1 453.8,60.0 454.3,59.9 454.8,59.9 455.4,59.8 455.9,59.9 456.5,59.9 457.0,60.0 457.6,60.1 458.1,60.3 458.6,60.4 459.2,60.6 459.7,60.7 460.2,60.9 460.7,61.1 461.2,61.3 461.7,61.4 462.2,61.6 462.7,61.8 463.1,61.9 463.6,62.0 464.0,62.1 464.4,62.2 464.8,62.2 465.2,62.3 465.6,62.2 465.9,62.2 466.3,62.1 466.6,62.0 466.9,61.9 467.2,61.7 467.5,61.5 467.8,61.2 468.0,61.0 468.3,60.7 468.5,60.3 468.7,60.0 468.9,59.6 469.1,59.2 469.3,58.7 469.5,58.3 469.6,57.8 469.8,57.3 469.9,56.8 470.0,56.3 470.2,55.8 470.3,55.3 470.4,54.8 470.5,54.3 470.7,53.8 470.8,53.4 471.0,52.9 471.1,52.5 471.3,52.0 471.5,51.6 471.7,51.3 471.9,50.9 472.2,50.6 472.4,50.3 472.7,50.0 473.0,49.8 473.4,49.6 473.7,49.4 474.1,49.3 474.5,49.2 474.9,49.1 475.3,49.1 475.8,49.1 476.2,49.1 476.7,49.1 477.2,49.2 477.7,49.4 478.2,49.5 478.7,49.7 479.3,49.9 479.8,50.1 480.3,50.3 480.8,50.6 481.3,50.8 481.8,51.1 482.3,51.4 482.8,51.6 483.3,51.9 483.8,52.2 484.2,52.5 484.7,52.7 485.1,53.0 485.5,53.2 485.9,53.4 486.3,53.6 486.7,53.8 487.1,53.9 487.5,54.0 487.8,54.1 488.2,54.1 488.6,54.2 488.9,54.2 489.3,54.1 489.7,54.1 490.0,54.0 490.4,53.8 490.8,53.7 491.2,53.5 491.6,53.4 492.1,53.2 492.5,53.0 493.0,52.8 493.5,52.5 494.0,52.3 494.6,52.1 495.1,51.9 495.7,51.7 496.2,51.5 496.8,51.4 497.4,51.2 498.1,51.1 498.7,51.1 499.3,51.0 499.9,51.0 500.5,51.1 501.1,51.1 501.7,51.3 502.3,51.4 502.9,51.6 503.4,51.9 503.9,52.2 504.4,52.5 504.8,52.9 505.2,53.3 505.6,53.7 505.9,54.2 506.2,54.7 506.5,55.2 506.6,55.8 506.8,56.4 506.9,57.0 506.9,57.6 506.9,58.2 506.9,58.8 506.8,59.4 506.7,60.0 506.6,60.6 506.4,61.2 506.2,61.8 506.0,62.4 505.7,62.9 505.4,63.5 505.2,64.0 504.9,64.5 504.6,65.0 504.3,65.4 504.0,65.9 503.7,66.3 503.4,66.7 503.2,67.1 503.0,67.5 502.7,67.9 502.6,68.3 502.4,68.6 502.3,69.0 502.2,69.3 502.1,69.7 502.0,70.1 502.0,70.4 502.0,70.8 502.1,71.2 502.1,71.5 502.2,71.9 502.3,72.4 502.5,72.8 502.6,73.2 502.8,73.7 503.0,74.1 503.2,74.6 503.4,75.1 503.6,75.6 503.9,76.1 504.1,76.6 504.3,77.1 504.5,77.7 504.7,78.2 504.9,78.7 505.1,79.3 505.2,79.8 505.4,80.3 505.5,80.8 505.6,81.3 505.6,81.8 505.7,82.3 505.7,82.8 505.7,83.2 505.6,83.6 505.5,84.0 505.4,84.4 505.3,84.8 505.1,85.1 504.9,85.4 504.7,85.7 504.4,86.0 504.1,86.2 503.8,86.4 503.4,86.6 503.1,86.8 502.7,87.0 502.3,87.1 501.8,87.3 501.4,87.4 500.9,87.5 500.4,87.6 499.9,87.7 499.4,87.8 498.9,87.9 498.4,88.0 497.9,88.1 497.4,88.2 496.9,88.3 496.4,88.4 495.9,88.5 495.5,88.7 495.0,88.8 494.6,89.0 494.2,89.2 493.9,89.4 493.5,89.6 493.2,89.8 492.9,90.0 492.7,90.3 492.4,90.6 492.3,90.9 492.1,91.2 492.0,91.5 491.9,91.8 491.8,92.2 491.8,92.6 491.8,93.0 491.8,93.4 491.9,93.8 491.9,94.3 492.0,94.7 492.1,95.2 492.2,95.7 492.3,96.2 492.5,96.7 492.6,97.2 492.7,97.8 492.8,98.3 492.9,98.9 493.0,99.4 493.1,100.0 493.1,100.6 493.2,101.1 493.2,101.7 493.1,102.2 493.1,102.8 493.0,103.3 492.9,103.8 492.7,104.4 492.5,104.8 492.3,105.3 492.0,105.7 491.7,106.2 491.4,106.5 491.0,106.9 490.6,107.2 490.1,107.5 489.7,107.7 489.2,108.0 488.6,108.1 488.1,108.3 487.5,108.4 487.0,108.4 486.4,108.5 485.8,108.4 485.2,108.4 484.6,108.3 483.9,108.2 483.4,108.1 482.8,107.9 482.2,107.7 481.6,107.5 481.1,107.3 480.5,107.1 480.0,106.8 479.5,106.6 479.0,106.4 478.5,106.1 478.1,105.9 477.7,105.7 477.3,105.5 476.9,105.3 476.5,105.1 476.1,105.0 475.8,104.9 475.4,104.8 475.0,104.7 474.7,104.7 474.4,104.7 474.0,104.7 473.6,104.8 473.3,104.8 472.9,104.9 472.5,105.1 472.1,105.2 471.7,105.3 471.2,105.5 470.7,105.7 470.2,105.9 469.7,106.0 469.2,106.2 468.7,106.4 468.1,106.5 467.5,106.7 466.9,106.8 466.3,106.9 465.7,107.0 465.1,107.0 464.5,107.0 463.9,107.0 463.2,107.0 462.6,106.9 462.0,106.8 461.5,106.6 460.9,106.4 460.4,106.2 459.9,105.9 459.4,105.6 459.0,105.3 458.6,104.9 458.2,104.5 457.9,104.0 457.6,103.6 457.3,103.1 457.1,102.6 457.0,102.0 456.9,101.5 456.8,100.9 456.8,100.4 456.8,99.8 456.8,99.2 456.9,98.7 457.0,98.1 457.2,97.5 457.4,96.9 457.5,96.4 457.8,95.8 458.0,95.3 458.2,94.8 458.5,94.3 458.7,93.8 459.0,93.3 459.2,92.8 459.5,92.3 459.7,91.9 459.9,91.5 460.1,91.0 460.2,90.6 460.4,90.2 460.5,89.9 460.6,89.5 460.7,89.1 460.7,88.8 460.7,88.4 460.6,88.1 460.6,87.7 460.4,87.4 460.3,87.0 460.1,86.7 459.9,86.4 459.7,86.1 459.4,85.7 459.1,85.4 458.8,85.1 458.4,84.8 458.1,84.5 457.7,84.2 457.3,83.8 456.9,83.5 456.4,83.2 456.0,82.9 455.6,82.6 455.2,82.3 454.7,82.0 454.3,81.8 453.9,81.5 453.5,81.2 453.2,80.9 452.8,80.6 452.5,80.3 452.2,80.0 452.0,79.7 451.7,79.4 451.5,79.2 451.3,78.8 451.2,78.5 451.1,78.2 451.0,77.9 451.0,77.6 451.0,77.2 451.1,76.9 451.1,76.5 451.2,76.1 451.4,75.8 451.6,75.4 451.8,75.0 452.0,74.6 452.3,74.2 452.5,73.8 452.8,73.4 453.1,72.9 453.5,72.5 453.8,72.1 454.2,71.7 454.5,71.3 454.9,70.9 455.2,70.4 455.6,70.0 455.9,69.6 456.3,69.2 456.6,68.8 456.9,68.5 457.1,68.1 457.4,67.7 457.6,67.3 457.9,67.0 458.0,66.6 458.2,66.3 458.3,65.9 458.4,65.6 458.5,65.2 458.5,64.8 458.5,64.5 458.4,64.1 458.4,63.7 458.3,63.3 458.2,62.9 458.0,62.5 457.9,62.1 457.7,61.7 457.5,61.2 457.3,60.8 457.1,60.3 456.9,59.8 456.7,59.2 456.4,58.7 456.2,58.2 456.1,57.6 455.9,57.0 455.7,56.4 455.6,55.8 455.5,55.2 455.4,54.6 455.4,54.0 455.4,53.4 455.4,52.8 455.5,52.2 455.6,51.6 455.8,51.0 456.0,50.5 456.3,50.0 456.6,49.5 456.9,49.0 457.3,48.6 457.7,48.2 458.1,47.8 458.6,47.5 459.1,47.2 459.7,47.0 460.2,46.8 460.8,46.7 461.4,46.6 462.0,46.5 462.6,46.5 463.2,46.5 463.8,46.6 464.5,46.7 465.1,46.9 465.7,47.0 466.3,47.2 466.8,47.5 467.4,47.7 467.9,48.0 468.4,48.2 468.9,48.5 469.4,48.8 469.9,49.1 470.3,49.3 470.7,49.6 471.2,49.9 471.5,50.1 471.9,50.3 472.3,50.5 472.7,50.7 473.0,50.8 473.4,50.9 473.7,51.0 474.1,51.1 474.4,51.1 474.8,51.1 475.1,51.1 475.5,51.1 475.9,51.0 476.3,50.9 476.8,50.8 477.2,50.7 477.7,50.5 478.1,50.4 478.6,50.2 479.1,50.0 479.7,49.9 480.2,49.7 480.8,49.5 481.3,49.4 481.9,49.2 482.5,49.1 483.1,49.0 483.6,48.9 484.2,48.8 484.8,48.8 485.4,48.8 485.9,48.8 486.5,48.8 487.0,48.9 487.5,49.0 488.0,49.1 488.5,49.3 488.9,49.5 489.4,49.7 489.7,49.9 490.1,50.2 490.4,50.5 490.7,50.9 491.0,51.2 491.2,51.6 491.4,52.0 491.5,52.4 491.7,52.9 491.8,53.3 491.8,53.8 491.9,54.3 491.9,54.8 491.9,55.3 491.9,55.8 491.8,56.3 491.8,56.9 491.7,57.4 491.7,57.9 491.6,58.4 491.6,59.0 491.5,59.5 491.4,60.0 491.4,60.5 491.4,61.0 491.3,61.4 491.4,61.9 491.4,62.3 491.4,62.7 491.5,63.1 491.6,63.5 491.7,63.9 491.9,64.2 492.0,64.5 492.2,64.8 492.5,65.1 492.7,65.3 493.0,65.5 493.3,65.7 493.7,65.8 494.0,66.0 494.4,66.1 494.8,66.1 495.3,66.2 495.7,66.2 496.2,66.3 496.7,66.3 497.2,66.3 497.7,66.3 498.2,66.3 498.7,66.2 499.2,66.2 499.8,66.2 500.3,66.2 500.8,66.2 501.4,66.2 501.9,66.2 502.4,66.3 502.9,66.4 503.4,66.5 503.9,66.6 504.4,66.7 504.8,66.9 505.3,67.1 505.7,67.3 506.0,67.6 506.4,67.9 506.7,68.2 507.0,68.6 507.2,69.0 507.5,69.4 507.7,69.8 507.8,70.3 507.9,70.8 508.0,71.3 508.1,71.8 508.1,72.4 508.1,72.9 508.0,73.5 507.9,74.1 507.8,74.6 507.7,75.2 507.5,75.8 507.4,76.4 507.2,76.9" fill="none" stroke="#d8252f" stroke-width="1.25"/>
<polyline points="504.7,78.2 505.1,78.4 505.6,78.7 506.1,79.0 506.5,79.3 507.0,79.6 507.5,79.9 508.0,80.3 508.5,80.7 508.9,81.1 509.4,81.5 509.8,81.9 510.2,82.4 510.6,82.9 511.0,83.4 511.3,83.9 511.5,84.4 511.8,85.0 512.0,85.5 512.1,86.1 512.2,86.7 512.2,87.2 512.2,87.8 512.2,88.4 512.1,88.9 511.9,89.5 511.7,90.0 511.4,90.5 511.1,91.0 510.8,91.5 510.4,92.0 509.9,92.4 509.5,92.8 509.0,93.1 508.4,93.5 507.9,93.8 507.3,94.0 506.7,94.3 506.2,94.5 505.6,94.6 505.0,94.8 504.4,94.9 503.8,95.0 503.2,95.1 502.6,95.1 502.1,95.2 501.6,95.2 501.0,95.3 500.6,95.3 500.1,95.3 499.6,95.4 499.2,95.4 498.8,95.5 498.4,95.6 498.0,95.6 497.7,95.8 497.3,95.9 497.0,96.1 496.7,96.2 496.4,96.5 496.1,96.7 495.9,97.0 495.6,97.3 495.3,97.6 495.0,97.9 494.7,98.3 494.5,98.7 494.2,99.1 493.8,99.5 493.5,99.9 493.2,100.4 492.9,100.8 492.5,101.3 492.1,101.8 491.7,102.2 491.4,102.6 490.9,103.1 490.5,103.5 490.1,103.9 489.6,104.3 489.2,104.6 488.7,104.9 488.3,105.2 487.8,105.5 487.3,105.7 486.8,105.9 486.4,106.0 485.9,106.1 485.4,106.1 485.0,106.2 484.5,106.1 484.1,106.1 483.7,106.0 483.2,105.8 482.8,105.6 482.5,105.4 482.1,105.1 481.7,104.9 481.4,104.5 481.0,104.2 480.7,103.8 480.4,103.4 480.1,103.0 479.8,102.6 479.6,102.1 479.3,101.7 479.0,101.2 478.8,100.7 478.5,100.3 478.3,99.8 478.0,99.4 477.8,98.9 477.5,98.5 477.2,98.1 477.0,97.7 476.7,97.4 476.4,97.0 476.1,96.7 475.8,96.4 475.5,96.2 475.2,96.0 474.9,95.8 474.6,95.7 474.3,95.6 473.9,95.5 473.6,95.5 473.2,95.5 472.9,95.5 472.5,95.6 472.1,95.7 471.7,95.9 471.4,96.1 471.0,96.3 470.6,96.5 470.2,96.8 469.8,97.1 469.4,97.3 469.0,97.7 468.6,98.0 468.2,98.3 467.7,98.6 467.3,99.0 466.9,99.3 466.4,99.6 466.0,99.9 465.6,100.2 465.1,100.4 464.7,100.7 464.2,100.9 463.7,101.0 463.3,101.2 462.8,101.3 462.3,101.4 461.9,101.4 461.4,101.4 461.0,101.4 460.5,101.3 460.1,101.2 459.6,101.0 459.2,100.8 458.8,100.5 458.4,100.2 458.0,99.9 457.7,99.5 457.3,99.1 457.0,98.7 456.7,98.2 456.4,97.7 456.1,97.2 455.9,96.7 455.6,96.1 455.4,95.6 455.2,95.0 455.1,94.4 454.9,93.8 454.8,93.3 454.7,92.7 454.6,92.1 454.5,91.6 454.4,91.1 454.3,90.6 454.2,90.1 454.1,89.6 454.0,89.1 453.9,88.7 453.8,88.3 453.7,87.9 453.6,87.5 453.4,87.2 453.3,86.9 453.1,86.6 452.9,86.3 452.7,86.0 452.4,85.8 452.1,85.5 451.8,85.3 451.5,85.0 451.1,84.8 450.7,84.5 450.3,84.3 449.9,84.0 449.5,83.8 449.0,83.5 448.5,83.2 448.1,82.9 447.6,82.5 447.1,82.2 446.6,81.8 446.2,81.4 445.7,80.9 445.3,80.5 444.9,80.0 444.5,79.5 444.2,79.0 443.9,78.4 443.6,77.9 443.4,77.3 443.2,76.8 443.1,76.2 443.0,75.6 442.9,75.0 442.9,74.4 443.0,73.9 443.1,73.3 443.3,72.8 443.5,72.2 443.7,71.7 444.0,71.2 444.4,70.8 444.8,70.3 445.2,69.9 445.6,69.6 446.1,69.2 446.6,68.9 447.2,68.6 447.7,68.4 448.3,68.2 448.9,68.0 449.5,67.8 450.1,67.7 450.7,67.6 451.2,67.5 451.8,67.4 452.4,67.3 453.0,67.3 453.5,67.2 454.0,67.2 454.5,67.1 455.0,67.1 455.5,67.1 456.0,67.0 456.4,66.9 456.8,66.9 457.2,66.8 457.5,66.6 457.9,66.5 458.2,66.3 458.5,66.1 458.8,65.9 459.1,65.7 459.3,65.4 459.5,65.1 459.8,64.8 460.0,64.4 460.2,64.0 460.4,63.6 460.6,63.2 460.7,62.7 460.9,62.3 461.1,61.8 461.3,61.3 461.4,60.8 461.6,60.3 461.8,59.8 461.9,59.3 462.1,58.8 462.3,58.3 462.5,57.8 462.7,57.3 462.8,56.8 463.0,56.4 463.2,55.9 463.4,55.5 463.7,55.2 463.9,54.8 464.1,54.5 464.4,54.2 464.6,53.9 464.9,53.7 465.1,53.5 465.4,53.4 465.7,53.3 466.0,53.2 466.4,53.1 466.7,53.1 467.1,53.1 467.4,53.2 467.8,53.2 468.2,53.3 468.6,53.4 469.1,53.6 469.5,53.7 470.0,53.9 470.4,54.1 470.9,54.2 471.4,54.4 471.8,54.6 472.3,54.8 472.8,55.0 473.3,55.2 473.8,55.4 474.2,55.6 474.7,55.8 475.2,55.9 475.6,56.1 476.1,56.2 476.5,56.3 476.9,56.3 477.4,56.4 477.7,56.4 478.1,56.4 478.5,56.3 478.8,56.3 479.2,56.2 479.5,56.0 479.8,55.9 480.1,55.7 480.4,55.4 480.7,55.2 481.0,54.9 481.3,54.6 481.5,54.2 481.8,53.9 482.1,53.5 482.4,53.1 482.7,52.6 483.0,52.2 483.3,51.7 483.6,51.3 483.9,50.8 484.3,50.3 484.6,49.9 485.0,49.4 485.4,49.0 485.9,48.6 486.3,48.2 486.8,47.8 487.2,47.4 487.7,47.1 488.2,46.8 488.8,46.6 489.3,46.4 489.8,46.2 490.4,46.1 490.9,46.1 491.5,46.0 492.0,46.1 492.6,46.2 493.1,46.3 493.6,46.5 494.2,46.7 494.7,47.0 495.1,47.3 495.6,47.7 496.0,48.1 496.4,48.5 496.8,49.0 497.2,49.5 497.5,50.0 497.8,50.5 498.1,51.1 498.3,51.7 498.5,52.2 498.7,52.8 498.9,53.4 499.0,54.0 499.1,54.6 499.2,55.1 499.3,55.7 499.4,56.2 499.4,56.8 499.5,57.3 499.5,57.7 499.6,58.2 499.6,58.6 499.7,59.0 499.8,59.4 499.9,59.8 500.0,60.1 500.2,60.5 500.3,60.8 500.5,61.1 500.7,61.4 500.9,61.6 501.2,61.9 501.5,62.2 501.8,62.4 502.1,62.7 502.5,63.0 502.9,63.3 503.3,63.6 503.7,63.9 504.1,64.2 504.6,64.5 505.0,64.9 505.5,65.3 505.9,65.7 506.3,66.1 506.8,66.5 507.2,66.9 507.6,67.4 508.0,67.9 508.3,68.4 508.7,68.9 508.9,69.4 509.2,69.9 509.4,70.5 509.6,71.0 509.8,71.5 509.9,72.1 509.9,72.6 509.9,73.1 509.9,73.6 509.8,74.1 509.7,74.6 509.5,75.1 509.3,75.6 509.1,76.0 508.8,76.4 508.5,76.8 508.1,77.2 507.7,77.5 507.3,77.9 506.8,78.2 506.4,78.4 505.9,78.7 505.4,78.9 504.9,79.2 504.4,79.4 503.8,79.6 503.3,79.7 502.8,79.9 502.3,80.1 501.7,80.2 501.2,80.4 500.7,80.5 500.3,80.7 499.8,80.8 499.4,81.0 499.0,81.1 498.6,81.3 498.2,81.5 497.9,81.7 497.5,81.9 497.3,82.2 497.0,82.4 496.8,82.7 496.6,83.0 496.5,83.3 496.3,83.6 496.2,84.0 496.2,84.3 496.2,84.7 496.2,85.1 496.2,85.5 496.2,86.0 496.3,86.4 496.4,86.9 496.6,87.3 496.7,87.8 496.9,88.3 497.0,88.7 497.2,89.2 497.4,89.7 497.6,90.2 497.8,90.7 498.0,91.1 498.1,91.6 498.3,92.1 498.5,92.6 498.6,93.0 498.7,93.5 498.8,93.9 498.9,94.3 498.9,94.8 498.9,95.2 498.9,95.6 498.9,96.0 498.8,96.3 498.6,96.7 498.5,97.1 498.3,97.4 498.0,97.7 497.7,98.0 497.4,98.3 497.1,98.6 496.7,98.9 496.3,99.1 495.9,99.3 495.4,99.5 494.9,99.7 494.4,99.9 493.9,100.0 493.3,100.2 492.8,100.3 492.2,100.4 491.6,100.5 491.1,100.6 490.5,100.7 489.9,100.7 489.4,100.8 488.8,100.8 488.3,100.9 487.8,100.9 487.3,101.0 486.8,101.1 486.3,101.1 485.9,101.2 485.5,101.3 485.1,101.4 484.7,101.5 484.3,101.6 484.0,101.8 483.7,102.0 483.4,102.2 483.1,102.4 482.9,102.7 482.6,103.0 482.4,103.3 482.1,103.6 481.9,104.0 481.6,104.3 481.4,104.7 481.1,105.2 480.9,105.6 480.6,106.1 480.3,106.5 480.0,107.0 479.7,107.5 479.4,108.0 479.0,108.5 478.7,109.0 478.3,109.4 477.8,109.9 477.4,110.3 476.9,110.7 476.4,111.1 475.9,111.4 475.4,111.8 474.8,112.0 474.3,112.3 473.7,112.4 473.1,112.6 472.5,112.7 472.0,112.7 471.4,112.7 470.8,112.6 470.2,112.5 469.7,112.3 469.2,112.1 468.6,111.8 468.2,111.5 467.7,111.1 467.2,110.7 466.8,110.3 466.5,109.8 466.1,109.3 465.8,108.8 465.5,108.2 465.3,107.7 465.1,107.1 464.9,106.5 464.7,105.9 464.6,105.3 464.5,104.7 464.4,104.1 464.3,103.5 464.3,102.9 464.2,102.4 464.2,101.8 464.2,101.3 464.2,100.8 464.1,100.3 464.1,99.9 464.0,99.4 464.0,99.0 463.9,98.6 463.8,98.2 463.7,97.9 463.6,97.5 463.4,97.2 463.2,96.9 463.0,96.6 462.8,96.3 462.5,96.0 462.2,95.8 461.9,95.5 461.5,95.3 461.2,95.0 460.8,94.7 460.4,94.5 459.9,94.2 459.5,93.9 459.0,93.7 458.5,93.4 458.1,93.1 457.6,92.8 457.1,92.5 456.6,92.2 456.2,91.9 455.7,91.6 455.3,91.2 454.8,90.9 454.4,90.5 454.0,90.2 453.7,89.8 453.4,89.5 453.1,89.1 452.8,88.7 452.6,88.3 452.4,88.0 452.2,87.6 452.1,87.2 452.0,86.9 452.0,86.5 452.0,86.1 452.0,85.7 452.1,85.4 452.2,85.0 452.4,84.6 452.6,84.3 452.8,83.9 453.0,83.6 453.3,83.2 453.6,82.8 453.9,82.5 454.2,82.1 454.5,81.7 454.9,81.4 455.2,81.0 455.6,80.6 455.9,80.2 456.3,79.9 456.6,79.5 457.0,79.1 457.3,78.7 457.6,78.3 457.8,78.0 458.1,77.6 458.3,77.2 458.5,76.8 458.7,76.4 458.8,76.1 458.9,75.7 459.0,75.4 459.0,75.0 459.0,74.7 459.0,74.3 458.9,74.0 458.8,73.6 458.7,73.3 458.5,73.0 458.3,72.7 458.0,72.3 457.8,72.0 457.5,71.7 457.1,71.4 456.8,71.0 456.4,70.7 456.0,70.4 455.6,70.0 455.2,69.7 454.8,69.3 454.4,68.9 454.0,68.6 453.6,68.2 453.2,67.8 452.8,67.3 452.4,66.9 452.1,66.5 451.8,66.0 451.5,65.5 451.2,65.0 451.0,64.6 450.8,64.1 450.7,63.6 450.6,63.0 450.5,62.5 450.5,62.0 450.5,61.5 450.6,61.0 450.7,60.5 450.9,60.0 451.1,59.5 451.4,59.0 451.7,58.6 452.0,58.1 452.4,57.7 452.8,57.3 453.3,56.9 453.8,56.6 454.3,56.3 454.8,56.0 455.3,55.7 455.9,55.4 456.5,55.2 457.0,55.0 457.6,54.8 458.2,54.7 458.8,54.5 459.3,54.4 459.9,54.3 460.4,54.2 461.0,54.1 461.5,54.0 461.9,54.0 462.4,53.9 462.8,53.8 463.3,53.7 463.7,53.6 464.0,53.5 464.4,53.4 464.7,53.2 465.0,53.1 465.3,52.9 465.6,52.7 465.8,52.4 466.1,52.2 466.4,51.9 466.6,51.6 466.9,51.2 467.1,50.9 467.4,50.5 467.7,50.1 467.9,49.7 468.2,49.2 468.6,48.8 468.9,48.3 469.3,47.9 469.6,47.4 470.0,47.0 470.4,46.5 470.9,46.1 471.4,45.7 471.8,45.3 472.3,44.9 472.9,44.6 473.4,44.3 473.9,44.0 474.5,43.8 475.1,43.6 475.6,43.5 476.2,43.4 476.8,43.3 477.3,43.3 477.9,43.4 478.4,43.5 479.0,43.6 479.5,43.8 480.0,44.0 480.4,44.3 480.9,44.6 481.3,45.0 481.7,45.4 482.1,45.8 482.4,46.3 482.7,46.7 483.0,47.2 483.2,47.8 483.5,48.3 483.7,48.9 483.9,49.4 484.0,50.0 484.1,50.6 484.3,51.1 484.4,51.7 484.5,52.3 484.6,52.8 484.6,53.3 484.7,53.9 484.8,54.4 484.9,54.8 485.0,55.3 485.0,55.7 485.2,56.1 485.3,56.5 485.4,56.9 485.6,57.3 485.8,57.6 486.0,57.9 486.2,58.1 486.4,58.4 486.7,58.6 487.0,58.8 487.3,59.0 487.7,59.1 488.1,59.2 488.5,59.4 488.9,59.4 489.3,59.5 489.8,59.6 490.3,59.6 490.8,59.7 491.3,59.7 491.8,59.7 492.3,59.7 492.8,59.7 493.3,59.7 493.9,59.7 494.4,59.7 494.9,59.6 495.4,59.6 495.9,59.6 496.3,59.7 496.8,59.7 497.2,59.7 497.6,59.8 498.0,59.8 498.4,59.9 498.8,60.0 499.1,60.2 499.4,60.3 499.7,60.5 499.9,60.7 500.2,61.0 500.4,61.2 500.5,61.5 500.7,61.8 500.8,62.2 501.0,62.6 501.0,63.0 501.1,63.4 501.2,63.8 501.2,64.3 501.2,64.8 501.3,65.3 501.3,65.8 501.2,66.4 501.2,66.9 501.2,67.4 501.1,68.0 501.1,68.5 501.1,69.1 501.0,69.6 501.0,70.1 500.9,70.7 500.9,71.2 500.9,71.7 500.9,72.1 500.9,72.6 500.9,73.1 500.9,73.5 501.0,73.9 501.0,74.3 501.1,74.6 501.3,75.0 501.4,75.3 501.6,75.6 501.8,75.9 502.0,76.2 502.3,76.5 502.6,76.8 502.9,77.0 503.2,77.3 503.6,77.5 504.0,77.8 504.4,78.0" fill="none" stroke="#1b66a3" stroke-width="1.35"/>
<text x="477.2" y="76.8" font-size="13.2" text-anchor="middle" font-weight="bold" fill="#1aa050" stroke="#1aa050" stroke-width="0.18">coFAS</text>
<text x="505.8" y="145.0" font-size="8.2" fill="#231f20" stroke="#231f20" stroke-width="0.18">NP-coFas</text>
<text x="11.2" y="176.7" font-size="14" font-weight="bold" fill="#111" stroke="#111" stroke-width="0.18">B</text>
<rect x="21" y="180" width="143.5" height="36" fill="#bee6f8"/>
<rect x="21" y="259.6" width="143.5" height="14.6" fill="#f8e71c"/>
<rect x="21" y="274.2" width="143.5" height="14.6" fill="#f8e71c"/>
<rect x="21" y="288.8" width="143.5" height="14.6" fill="#f8e71c"/>
<line x1="21.0" y1="230.6" x2="164.5" y2="230.6" stroke="#111" stroke-width="1.4"/>
<line x1="21.0" y1="245.1" x2="164.5" y2="245.1" stroke="#111" stroke-width="1.4"/>
<line x1="21.0" y1="259.6" x2="164.5" y2="259.6" stroke="#111" stroke-width="1.4"/>
<line x1="21.0" y1="274.2" x2="164.5" y2="274.2" stroke="#111" stroke-width="1.4"/>
<line x1="21.0" y1="288.8" x2="164.5" y2="288.8" stroke="#111" stroke-width="1.4"/>
<line x1="21.0" y1="303.3" x2="164.5" y2="303.3" stroke="#111" stroke-width="1.4"/>
<line x1="21.0" y1="317.9" x2="164.5" y2="317.9" stroke="#111" stroke-width="1.4"/>
<line x1="21.0" y1="332.4" x2="164.5" y2="332.4" stroke="#111" stroke-width="1.4"/>
<line x1="21.0" y1="347.0" x2="164.5" y2="347.0" stroke="#111" stroke-width="1.4"/>
<line x1="21.0" y1="216.0" x2="164.5" y2="216.0" stroke="#555" stroke-width="1.1"/>
<line x1="21.0" y1="347.0" x2="164.5" y2="347.0" stroke="#222" stroke-width="1.3"/>
<line x1="21.0" y1="180.0" x2="164.5" y2="180.0" stroke="#555" stroke-width="1.2"/>
<line x1="21.0" y1="180.0" x2="21.0" y2="347.0" stroke="#666" stroke-width="1.2"/>
<line x1="164.5" y1="180.0" x2="164.5" y2="347.0" stroke="#1a1a1a" stroke-width="1.5"/>
<line x1="68.0" y1="180.0" x2="68.0" y2="347.0" stroke="#111" stroke-width="1.6"/>
<line x1="116.0" y1="180.0" x2="116.0" y2="347.0" stroke="#111" stroke-width="1.6"/>
<text x="44.3" y="193.8" font-size="8.6" text-anchor="middle" fill="#231f20" textLength="45" lengthAdjust="spacingAndGlyphs" stroke="#231f20" stroke-width="0.18">Transfection</text>
<text x="44.3" y="206.2" font-size="8.7" text-anchor="middle" fill="#231f20" stroke="#231f20" stroke-width="0.18">conditions</text>
<text x="92.0" y="189.2" font-size="8.3" text-anchor="middle" fill="#231f20" stroke="#231f20" stroke-width="0.18">Plasmid</text>
<text x="92.0" y="200.0" font-size="8.3" text-anchor="middle" fill="#231f20" stroke="#231f20" stroke-width="0.18">conc.</text>
<text x="92.0" y="211.6" font-size="8.3" text-anchor="middle" fill="#231f20" stroke="#231f20" stroke-width="0.18">(mg/mL)</text>
<text x="120.3" y="190.0" font-size="8.3" fill="#231f20" stroke="#231f20" stroke-width="0.18">DOTAP-</text>
<text x="140.2" y="200.0" font-size="8.3" text-anchor="middle" fill="#231f20" stroke="#231f20" stroke-width="0.18">Chol conc.</text>
<text x="137.3" y="211.6" font-size="8.3" text-anchor="middle" fill="#231f20" stroke="#231f20" stroke-width="0.18">(mM)</text>
<text x="44.3" y="226.9" font-size="8.4" text-anchor="middle" fill="#231f20" stroke="#231f20" stroke-width="0.18">G2</text>
<text x="92.0" y="226.9" font-size="8.7" text-anchor="middle" fill="#231f20" stroke="#231f20" stroke-width="0.18">0.79</text>
<text x="140.2" y="226.9" font-size="8.6" text-anchor="middle" fill="#231f20" stroke="#231f20" stroke-width="0.18">4</text>
<text x="44.3" y="241.5" font-size="8.4" text-anchor="middle" fill="#231f20" stroke="#231f20" stroke-width="0.18">F2</text>
<text x="92.0" y="241.5" font-size="8.7" text-anchor="middle" fill="#231f20" stroke="#231f20" stroke-width="0.18">0.68</text>
<text x="140.2" y="241.5" font-size="8.6" text-anchor="middle" fill="#231f20" stroke="#231f20" stroke-width="0.18">4</text>
<text x="44.3" y="256.0" font-size="8.4" text-anchor="middle" fill="#231f20" stroke="#231f20" stroke-width="0.18">E2</text>
<text x="92.0" y="256.0" font-size="8.7" text-anchor="middle" fill="#231f20" stroke="#231f20" stroke-width="0.18">0.56</text>
<text x="140.2" y="256.0" font-size="8.6" text-anchor="middle" fill="#231f20" stroke="#231f20" stroke-width="0.18">4</text>
<text x="44.3" y="270.5" font-size="8.4" text-anchor="middle" fill="#231f20" stroke="#231f20" stroke-width="0.18">C2</text>
<text x="92.0" y="270.5" font-size="8.7" text-anchor="middle" fill="#231f20" stroke="#231f20" stroke-width="0.18">0.34</text>
<text x="140.2" y="270.5" font-size="8.6" text-anchor="middle" fill="#231f20" stroke="#231f20" stroke-width="0.18">4</text>
<text x="44.3" y="285.1" font-size="8.4" text-anchor="middle" fill="#231f20" stroke="#231f20" stroke-width="0.18">B2</text>
<text x="92.0" y="285.1" font-size="8.7" text-anchor="middle" fill="#231f20" stroke="#231f20" stroke-width="0.18">0.23</text>
<text x="140.2" y="285.1" font-size="8.6" text-anchor="middle" fill="#231f20" stroke="#231f20" stroke-width="0.18">4</text>
<text x="44.3" y="299.6" font-size="8.4" text-anchor="middle" fill="#231f20" stroke="#231f20" stroke-width="0.18">A2</text>
<text x="92.0" y="299.6" font-size="8.7" text-anchor="middle" fill="#231f20" stroke="#231f20" stroke-width="0.18">0.11</text>
<text x="140.2" y="299.6" font-size="8.6" text-anchor="middle" fill="#231f20" stroke="#231f20" stroke-width="0.18">4</text>
<text x="44.3" y="314.2" font-size="8.4" text-anchor="middle" fill="#231f20" stroke="#231f20" stroke-width="0.18">E1</text>
<text x="92.0" y="314.2" font-size="8.7" text-anchor="middle" fill="#231f20" stroke="#231f20" stroke-width="0.18">0.45</text>
<text x="140.2" y="314.2" font-size="8.6" text-anchor="middle" fill="#231f20" stroke="#231f20" stroke-width="0.18">5</text>
<text x="44.3" y="328.8" font-size="8.4" text-anchor="middle" fill="#231f20" stroke="#231f20" stroke-width="0.18">D1</text>
<text x="92.0" y="328.8" font-size="8.7" text-anchor="middle" fill="#231f20" stroke="#231f20" stroke-width="0.18">0.45</text>
<text x="140.2" y="328.8" font-size="8.6" text-anchor="middle" fill="#231f20" stroke="#231f20" stroke-width="0.18">4</text>
<text x="44.3" y="343.3" font-size="8.4" text-anchor="middle" fill="#231f20" stroke="#231f20" stroke-width="0.18">B1</text>
<text x="92.0" y="343.3" font-size="8.7" text-anchor="middle" fill="#231f20" stroke="#231f20" stroke-width="0.18">0.45</text>
<text x="140.2" y="343.3" font-size="8.6" text-anchor="middle" fill="#231f20" stroke="#231f20" stroke-width="0.18">2</text>
<line x1="219.6" y1="184.0" x2="219.6" y2="320.5" stroke="#7a7a7a" stroke-width="1.1"/>
<line x1="219.1" y1="320.5" x2="314.3" y2="320.5" stroke="#7a7a7a" stroke-width="1.1"/>
<line x1="216.2" y1="189.3" x2="219.6" y2="189.3" stroke="#7a7a7a" stroke-width="1"/>
<text x="213.2" y="192.4" font-size="8.8" text-anchor="end" fill="#231f20" stroke="#231f20" stroke-width="0.18">G2</text>
<line x1="216.2" y1="202.9" x2="219.6" y2="202.9" stroke="#7a7a7a" stroke-width="1"/>
<text x="213.2" y="206.0" font-size="8.8" text-anchor="end" fill="#231f20" stroke="#231f20" stroke-width="0.18">F2</text>
<line x1="216.2" y1="216.6" x2="219.6" y2="216.6" stroke="#7a7a7a" stroke-width="1"/>
<text x="213.2" y="219.7" font-size="8.8" text-anchor="end" fill="#231f20" stroke="#231f20" stroke-width="0.18">E2</text>
<line x1="216.2" y1="230.2" x2="219.6" y2="230.2" stroke="#7a7a7a" stroke-width="1"/>
<text x="213.2" y="233.3" font-size="8.8" text-anchor="end" fill="#231f20" stroke="#231f20" stroke-width="0.18">C2</text>
<line x1="216.2" y1="243.8" x2="219.6" y2="243.8" stroke="#7a7a7a" stroke-width="1"/>
<text x="213.2" y="246.9" font-size="8.8" text-anchor="end" fill="#231f20" stroke="#231f20" stroke-width="0.18">B2</text>
<line x1="216.2" y1="257.5" x2="219.6" y2="257.5" stroke="#7a7a7a" stroke-width="1"/>
<text x="213.2" y="260.6" font-size="8.8" text-anchor="end" fill="#231f20" stroke="#231f20" stroke-width="0.18">A2</text>
<line x1="216.2" y1="271.1" x2="219.6" y2="271.1" stroke="#7a7a7a" stroke-width="1"/>
<text x="213.2" y="274.2" font-size="8.8" text-anchor="end" fill="#231f20" stroke="#231f20" stroke-width="0.18">E1</text>
<line x1="216.2" y1="284.7" x2="219.6" y2="284.7" stroke="#7a7a7a" stroke-width="1"/>
<text x="213.2" y="287.8" font-size="8.8" text-anchor="end" fill="#231f20" stroke="#231f20" stroke-width="0.18">D1</text>
<line x1="216.2" y1="298.3" x2="219.6" y2="298.3" stroke="#7a7a7a" stroke-width="1"/>
<text x="213.2" y="301.4" font-size="8.8" text-anchor="end" fill="#231f20" stroke="#231f20" stroke-width="0.18">B1</text>
<line x1="216.2" y1="312.0" x2="219.6" y2="312.0" stroke="#7a7a7a" stroke-width="1"/>
<text x="213.2" y="315.1" font-size="8.8" text-anchor="end" fill="#231f20" stroke="#231f20" stroke-width="0.18">Control</text>
<line x1="219.6" y1="320.5" x2="219.6" y2="323.8" stroke="#7a7a7a" stroke-width="1"/>
<text x="219.6" y="333.7" font-size="9" text-anchor="middle" fill="#231f20" stroke="#231f20" stroke-width="0.18">0</text>
<line x1="251.0" y1="320.5" x2="251.0" y2="323.8" stroke="#7a7a7a" stroke-width="1"/>
<text x="251.0" y="333.7" font-size="9" text-anchor="middle" fill="#231f20" stroke="#231f20" stroke-width="0.18">20</text>
<line x1="282.5" y1="320.5" x2="282.5" y2="323.8" stroke="#7a7a7a" stroke-width="1"/>
<text x="282.5" y="333.7" font-size="9" text-anchor="middle" fill="#231f20" stroke="#231f20" stroke-width="0.18">40</text>
<line x1="313.9" y1="320.5" x2="313.9" y2="323.8" stroke="#7a7a7a" stroke-width="1"/>
<text x="313.9" y="333.7" font-size="9" text-anchor="middle" fill="#231f20" stroke="#231f20" stroke-width="0.18">60</text>
<text x="269.5" y="343.3" font-size="8.8" text-anchor="middle" fill="#231f20" stroke="#231f20" stroke-width="0.18">% Fas<tspan font-size="5.5" dy="-3.2">+</tspan><tspan dy="3.2"> cells</tspan></text>
<text transform="translate(193.6,240.3) rotate(-90)" font-size="8.8" text-anchor="middle" fill="#231f20" stroke="#231f20" stroke-width="0.18">Transfection conditions</text>
<circle cx="258" cy="189.3" r="2.3" fill="none" stroke="#555" stroke-width="1.3"/><circle cx="258" cy="189.3" r="0.8" fill="#231f20"/>
<line x1="258.2" y1="200.6" x2="262.8" y2="205.2" stroke="#231f20" stroke-width="1"/>
<line x1="258.2" y1="205.2" x2="262.8" y2="200.6" stroke="#231f20" stroke-width="1"/>
<line x1="262.0" y1="216.6" x2="266.4" y2="216.6" stroke="#231f20" stroke-width="0.9"/>
<line x1="264.2" y1="214.4" x2="264.2" y2="218.8" stroke="#231f20" stroke-width="0.9"/>
<circle cx="286.7" cy="230.19" r="1.8" fill="#231f20"/>
<polygon points="297,241.62000000000003 299.2,243.82000000000002 297,246.02 294.8,243.82000000000002" fill="none" stroke="#231f20" stroke-width="1.2" stroke-linejoin="round"/>
<polygon points="285.9,255.45000000000005 291.1,255.45000000000005 288.5,259.85" fill="none" stroke="#231f20" stroke-width="0.9"/>
<circle cx="275.1" cy="271.08000000000004" r="2.5" fill="none" stroke="#231f20" stroke-width="1.1"/>
<polygon points="255.8,282.31000000000006 258.2,284.71000000000004 255.8,287.11 253.4,284.71000000000004" fill="#231f20"/>
<polygon points="254.7,300.44000000000005 260.09999999999997,300.44000000000005 257.4,295.84000000000003" fill="#231f20"/>
<circle cx="230.5" cy="311.97" r="2.5" fill="#231f20"/>
<text x="342.6" y="174.1" font-size="14" font-weight="bold" fill="#111" textLength="9" lengthAdjust="spacingAndGlyphs" stroke="#111" stroke-width="0.18">C</text>
<text x="454.0" y="185.8" font-size="9.5" text-anchor="middle" fill="#231f20" stroke="#231f20" stroke-width="0.18">Untransfected cells</text>
<text x="402.0" y="194.6" font-size="7.6" text-anchor="middle" fill="#231f20" stroke="#231f20" stroke-width="0.18">CT26 Control</text>
<text x="504.3" y="194.4" font-size="7.6" text-anchor="middle" fill="#231f20" stroke="#231f20" stroke-width="0.18">CT26 control + FasL</text>
<text x="452.0" y="307.8" font-size="9.5" text-anchor="middle" fill="#231f20" stroke="#231f20" stroke-width="0.18">Transfected cells</text>
<text x="405.9" y="315.5" font-size="9.3" text-anchor="middle" fill="#231f20" stroke="#231f20" stroke-width="0.18">No FasL</text>
<text x="501.7" y="315.5" font-size="9.3" text-anchor="middle" fill="#231f20" stroke="#231f20" stroke-width="0.18">+FasL</text>
<path d="M385.3 267.2h.8M380.4 242.7h.8M378.8 246.8h.8M402.1 251.0h.8M398.2 242.5h.8M384.5 238.4h.8M371.3 256.2h.8M375.4 265.5h.8M400.6 246.8h.8M372.6 255.6h.8M385.8 268.3h.8M382.8 268.3h.8M401.2 249.3h.8M383.7 238.8h.8M374.1 245.5h.8M371.1 261.0h.8M401.5 255.4h.8M378.5 246.9h.8M375.6 252.0h.8M400.0 250.7h.8M387.9 232.0h.8M397.2 242.4h.8M392.9 233.8h.8M386.3 266.9h.8M372.3 261.7h.8M400.3 255.2h.8M402.6 244.0h.8M380.8 241.4h.8M371.5 250.2h.8M398.9 234.3h.8M401.3 260.8h.8M393.2 264.3h.8M380.5 238.1h.8M384.7 273.1h.8M400.5 245.7h.8M401.5 254.1h.8M385.0 234.5h.8M383.8 267.4h.8M397.5 261.5h.8M400.2 232.1h.8M392.3 264.0h.8M372.7 248.2h.8M383.7 240.3h.8M400.7 234.2h.8M374.5 241.5h.8M387.6 238.0h.8M395.2 240.1h.8M380.9 242.9h.8M388.6 235.7h.8M384.4 266.7h.8M372.9 265.3h.8M375.2 268.0h.8M383.0 239.2h.8M374.4 248.3h.8M391.6 266.6h.8M393.4 263.1h.8M396.4 236.9h.8M375.5 237.3h.8M390.3 237.7h.8M395.8 261.3h.8M388.2 271.8h.8M381.7 265.5h.8M384.6 268.6h.8M408.0 244.4h.8M402.0 248.7h.8M402.8 245.1h.8M390.8 239.0h.8M378.7 266.6h.8M399.3 247.0h.8M377.2 268.1h.8M403.7 247.9h.8M369.1 271.2h.8M372.8 262.7h.8M402.6 237.8h.8M402.8 255.3h.8M394.3 230.8h.8M399.0 239.7h.8M373.6 251.5h.8M395.6 264.8h.8M401.3 260.0h.8M403.6 246.1h.8M390.0 235.0h.8M395.1 241.1h.8M389.4 236.3h.8M399.9 259.3h.8M406.6 239.9h.8M389.3 236.5h.8M374.4 264.9h.8M371.6 246.1h.8M393.4 239.4h.8M400.2 235.1h.8M391.7 262.8h.8M393.5 266.7h.8M380.7 242.7h.8M386.8 269.4h.8M403.3 244.3h.8M370.6 262.6h.8M401.7 238.3h.8M370.2 259.8h.8M370.0 254.7h.8M390.0 265.8h.8M399.0 238.4h.8M373.0 249.3h.8M402.9 239.6h.8M404.7 245.3h.8M384.5 232.4h.8M391.8 263.4h.8M400.5 242.5h.8M380.9 236.1h.8M419.4 260.0h.8M441.2 249.2h.8M400.3 250.9h.8M429.6 225.9h.8M408.0 249.7h.8M439.5 208.5h.8M404.0 242.2h.8M421.3 229.6h.8M424.4 236.5h.8M411.3 226.2h.8M425.4 241.6h.8M417.6 244.3h.8M404.4 257.1h.8M396.3 223.3h.8M414.1 253.9h.8M434.5 229.9h.8M434.8 247.5h.8M410.6 265.4h.8M395.1 263.7h.8M410.3 235.4h.8M408.3 235.8h.8M429.5 258.8h.8M420.1 226.4h.8M423.1 246.7h.8M436.4 235.5h.8M428.6 257.9h.8M418.1 256.3h.8M415.7 248.7h.8M395.5 240.8h.8M417.0 243.2h.8M401.2 230.3h.8M401.8 227.0h.8M439.2 221.8h.8M422.5 219.1h.8M424.5 238.8h.8M433.1 232.3h.8M392.8 230.0h.8M438.4 235.8h.8M412.2 235.8h.8M420.9 258.9h.8M399.8 258.6h.8M428.4 227.1h.8M411.1 250.2h.8M424.0 255.9h.8M432.8 219.3h.8M411.1 249.2h.8M422.4 250.9h.8M408.1 245.2h.8M425.9 208.2h.8M425.4 247.0h.8M418.2 252.6h.8M420.0 252.6h.8M405.3 245.9h.8M430.7 218.5h.8M418.2 255.5h.8M406.4 240.0h.8M389.8 267.1h.8M401.4 250.0h.8M406.2 249.8h.8M412.6 235.6h.8M417.4 246.5h.8M409.3 235.2h.8M410.9 226.5h.8M414.4 240.0h.8M397.3 242.2h.8M414.9 239.4h.8M430.1 241.9h.8M407.6 233.4h.8M416.1 228.5h.8M369.9 234.3h.8M407.2 230.1h.8M399.3 238.0h.8M399.2 246.5h.8M416.3 236.5h.8M398.3 232.2h.8M403.2 236.5h.8M396.0 264.1h.8M414.6 233.3h.8M419.1 253.0h.8M418.5 211.9h.8M434.4 230.7h.8M423.8 234.6h.8M409.4 255.4h.8M416.1 242.1h.8M423.0 220.0h.8M412.6 246.2h.8M426.5 239.6h.8M414.2 247.9h.8M444.0 226.5h.8M421.0 229.5h.8M399.3 230.6h.8M391.5 235.5h.8M398.9 234.2h.8M409.2 252.4h.8M441.2 244.3h.8M420.1 272.2h.8M415.4 251.4h.8M400.7 245.6h.8M425.8 235.0h.8M417.1 265.9h.8M400.6 250.2h.8M419.4 258.8h.8M400.5 240.3h.8M419.8 252.3h.8M393.9 234.2h.8M401.2 233.8h.8M422.1 234.8h.8M406.5 243.1h.8M417.4 227.5h.8M428.5 228.1h.8M403.5 253.5h.8M423.7 249.1h.8M414.7 250.0h.8M428.9 227.1h.8M441.6 209.5h.8M436.5 221.7h.8M433.4 224.0h.8M436.5 210.7h.8M432.5 236.5h.8M438.6 245.4h.8M443.9 219.4h.8M431.9 209.0h.8M440.2 221.8h.8M433.2 219.2h.8M437.9 219.1h.8M435.4 214.8h.8M433.1 227.2h.8M431.9 228.3h.8M437.8 228.1h.8M441.7 221.9h.8M438.4 216.9h.8M438.1 234.4h.8M429.3 216.4h.8M430.9 234.2h.8M434.0 233.6h.8M437.2 232.9h.8M434.8 235.1h.8M430.8 229.5h.8M435.5 217.6h.8M433.8 221.5h.8M438.2 220.2h.8M427.0 226.9h.8M438.6 219.3h.8M436.5 224.3h.8M436.2 224.7h.8M435.1 233.5h.8M432.5 223.2h.8M444.1 233.2h.8M433.9 221.0h.8M423.0 229.5h.8M434.2 236.8h.8M425.7 215.7h.8M444.3 231.1h.8M437.3 220.5h.8M434.8 216.4h.8M438.7 227.0h.8M430.3 219.0h.8M427.2 213.8h.8M438.4 229.6h.8M433.9 233.4h.8M433.5 231.2h.8M443.6 220.5h.8" stroke="#93a5c6" stroke-width="0.8" stroke-opacity="0.8" fill="none"/>
<path d="M393.4 245.4h.8M379.9 261.9h.8M393.0 239.4h.8M393.4 252.8h.8M391.4 259.5h.8M395.2 246.8h.8M394.6 245.4h.8M384.9 262.1h.8M394.6 251.7h.8M378.6 248.9h.8M376.9 256.4h.8M393.8 245.5h.8M390.7 241.4h.8M379.3 262.3h.8M383.9 261.3h.8M378.0 264.1h.8M390.9 242.8h.8M382.2 246.5h.8M376.8 253.0h.8M389.5 245.0h.8M390.3 244.6h.8M393.6 244.7h.8M386.5 262.7h.8M379.3 263.9h.8M380.1 260.9h.8M391.3 244.9h.8M381.8 262.8h.8M379.7 261.2h.8M395.1 245.2h.8M394.3 251.2h.8M396.4 256.5h.8M378.7 263.7h.8M396.9 244.6h.8M391.1 243.3h.8M390.6 244.8h.8M394.6 249.4h.8M377.2 264.3h.8M391.6 258.2h.8M394.2 250.5h.8M376.2 257.8h.8M377.7 254.5h.8M377.4 258.4h.8M378.9 265.6h.8M394.5 245.2h.8M378.0 250.3h.8M392.4 257.7h.8M394.6 245.9h.8M376.3 251.5h.8M376.7 252.3h.8M376.9 255.3h.8M388.9 260.9h.8M388.9 259.1h.8M387.3 242.4h.8M396.8 242.0h.8M379.0 262.4h.8M384.5 261.7h.8M383.5 261.8h.8M381.3 261.1h.8M379.5 262.1h.8M394.7 251.5h.8M378.1 262.1h.8M395.5 249.6h.8M396.1 252.4h.8M394.3 247.5h.8M393.9 251.3h.8M398.6 253.5h.8M383.8 264.0h.8M376.2 263.9h.8M381.0 260.8h.8M376.5 255.2h.8M383.5 246.6h.8M383.5 245.3h.8M392.1 260.6h.8M390.6 241.1h.8M394.1 244.8h.8M393.6 248.5h.8M395.4 256.7h.8M385.3 242.8h.8M393.2 243.7h.8M398.2 248.4h.8M392.1 260.9h.8M396.0 248.6h.8M396.0 243.9h.8M382.6 244.9h.8M390.4 264.6h.8M395.7 247.6h.8M386.8 263.2h.8M399.1 249.8h.8M397.2 248.7h.8M377.6 252.3h.8M395.6 257.1h.8M396.1 242.6h.8M376.9 261.6h.8M391.2 260.8h.8M377.2 254.0h.8M375.7 261.6h.8M394.9 255.8h.8M384.4 242.3h.8M388.6 259.6h.8M392.6 242.1h.8M394.2 245.1h.8M394.7 246.3h.8M396.2 255.0h.8M392.0 257.9h.8M388.3 264.1h.8M374.4 263.0h.8M393.7 257.7h.8M375.4 258.1h.8M382.0 242.3h.8M390.7 242.8h.8M385.7 263.0h.8M378.3 249.5h.8M385.2 241.7h.8M388.8 242.0h.8M384.3 261.6h.8M396.5 245.1h.8M375.2 263.4h.8M396.7 249.0h.8M391.5 242.2h.8M383.7 244.6h.8M395.7 249.4h.8M387.9 241.9h.8M396.1 257.6h.8M396.5 256.6h.8M379.4 249.9h.8M381.1 264.4h.8M395.6 252.9h.8M385.2 261.4h.8M396.0 254.8h.8M394.5 258.8h.8M384.1 244.7h.8M384.0 264.2h.8M379.3 248.6h.8M374.1 253.5h.8M384.5 261.6h.8M377.5 256.6h.8M385.8 262.4h.8M394.0 249.0h.8M374.9 258.5h.8M394.1 247.1h.8M397.1 243.6h.8M381.7 246.4h.8M381.7 263.2h.8M395.5 245.8h.8M376.6 254.8h.8M394.2 256.6h.8M383.4 264.0h.8M375.7 266.1h.8M386.2 263.8h.8M397.5 255.1h.8M390.9 243.2h.8M390.0 262.9h.8M389.4 259.2h.8M391.9 244.8h.8M390.2 239.4h.8M393.6 256.3h.8M397.4 252.2h.8M385.5 241.8h.8M394.2 242.7h.8M383.4 246.9h.8M391.8 259.3h.8M396.9 255.3h.8M395.0 259.8h.8M377.6 256.2h.8M388.5 263.3h.8M383.8 242.0h.8M381.0 246.9h.8M387.3 263.9h.8M377.0 265.7h.8M394.2 241.7h.8M396.4 258.3h.8M398.0 253.8h.8M384.1 243.3h.8M397.1 255.5h.8M382.9 246.2h.8M396.3 250.5h.8M394.6 249.5h.8M384.3 244.6h.8M389.9 259.8h.8M397.0 244.4h.8M378.9 263.9h.8M374.2 261.4h.8M377.3 259.9h.8M382.4 247.1h.8M393.1 259.1h.8M393.1 242.4h.8M375.4 255.3h.8M393.7 251.8h.8M374.2 263.6h.8M396.0 251.9h.8M377.4 262.6h.8M380.1 264.1h.8M380.1 245.7h.8M393.6 256.6h.8M387.2 239.6h.8M374.7 257.5h.8M378.9 265.5h.8M376.2 265.3h.8M376.2 260.5h.8M394.7 256.5h.8M384.3 265.4h.8M386.5 239.8h.8M377.0 264.0h.8M398.5 256.1h.8M374.8 262.0h.8M385.9 240.8h.8M377.0 257.3h.8M375.2 256.5h.8M391.7 261.5h.8M375.5 255.4h.8M396.6 248.7h.8M398.3 249.1h.8M389.8 263.0h.8M397.1 242.9h.8M398.0 250.8h.8" stroke="#6482b4" stroke-width="0.8" stroke-opacity="0.8" fill="none"/>
<path d="M379.1 257.6h.8M391.4 246.4h.8M383.4 262.4h.8M381.1 259.2h.8M391.5 255.4h.8M378.1 258.7h.8M385.5 260.5h.8M377.9 259.1h.8M379.0 258.2h.8M389.1 246.7h.8M389.3 257.1h.8M379.3 252.4h.8M381.0 260.6h.8M391.4 252.9h.8M379.5 259.5h.8M387.1 246.0h.8M392.0 255.1h.8M391.5 249.9h.8M379.3 260.1h.8M391.4 250.8h.8M380.2 248.3h.8M378.5 252.3h.8M383.8 260.0h.8M379.4 258.4h.8M392.6 248.1h.8M389.6 246.9h.8M392.4 254.2h.8M380.5 259.6h.8M393.1 251.3h.8M382.4 260.9h.8M386.0 245.2h.8M380.6 259.1h.8M382.3 261.1h.8M391.4 253.0h.8M388.3 247.0h.8M383.6 247.0h.8M379.1 257.2h.8M391.0 257.1h.8M385.6 246.5h.8M378.4 257.2h.8M384.7 246.9h.8M379.9 250.0h.8M385.0 259.9h.8M379.2 254.7h.8M391.8 247.3h.8M379.5 257.4h.8M387.9 246.4h.8M381.5 250.2h.8M380.0 250.4h.8M391.7 249.9h.8M386.8 243.8h.8M391.9 254.9h.8M386.7 246.8h.8M384.1 259.5h.8M386.8 246.5h.8M385.6 258.8h.8M390.0 255.2h.8M388.9 243.5h.8M379.3 259.5h.8M383.9 260.3h.8M381.8 259.8h.8M392.3 249.9h.8M387.9 258.1h.8M382.4 248.9h.8M379.2 255.0h.8M391.8 248.0h.8M379.1 253.1h.8M384.7 259.1h.8M391.4 253.9h.8M385.8 244.3h.8M390.2 245.2h.8M387.2 247.1h.8M392.5 248.9h.8M390.1 256.4h.8M391.4 254.3h.8M381.4 250.5h.8M393.3 253.6h.8M381.5 250.2h.8M391.0 256.0h.8M378.6 256.4h.8M390.7 246.5h.8M390.8 257.0h.8M390.9 246.0h.8M383.7 259.7h.8M387.1 246.4h.8M378.9 260.5h.8M378.8 259.0h.8M387.5 243.7h.8M392.3 254.0h.8M379.0 258.1h.8M392.7 255.0h.8M380.6 259.5h.8M386.5 259.0h.8M387.6 258.7h.8M379.6 258.0h.8M387.0 259.1h.8M385.7 245.9h.8M381.5 250.0h.8M381.2 251.0h.8M387.1 246.8h.8M380.1 260.1h.8M378.6 251.3h.8M379.1 260.4h.8M391.9 251.8h.8M383.0 260.2h.8M392.5 251.6h.8M384.4 259.1h.8M386.3 260.2h.8M391.4 251.8h.8M382.8 258.9h.8M389.6 256.5h.8M393.8 253.7h.8M382.9 247.1h.8M382.5 261.4h.8M386.2 244.8h.8M395.1 253.7h.8M381.2 249.4h.8M379.8 249.5h.8M381.6 248.2h.8M386.2 247.0h.8M386.7 247.1h.8M392.0 246.7h.8M379.6 259.0h.8M389.6 255.5h.8M383.5 260.2h.8M392.9 255.7h.8M389.0 246.2h.8M385.0 245.6h.8M384.1 259.1h.8M389.1 258.6h.8M389.3 258.4h.8M378.1 258.1h.8M381.1 250.3h.8M392.1 254.9h.8M392.4 251.1h.8M381.9 261.0h.8M386.6 243.8h.8M380.6 250.3h.8M382.2 260.8h.8M386.7 244.2h.8M387.9 245.6h.8M391.8 252.2h.8M387.6 246.7h.8M382.1 247.2h.8M387.7 244.8h.8M381.5 247.3h.8M390.0 245.9h.8M384.1 259.9h.8M378.5 259.3h.8M380.0 249.5h.8M394.7 254.1h.8M392.3 254.1h.8M380.9 247.5h.8M391.0 245.7h.8M392.9 252.8h.8M391.6 246.1h.8M384.7 245.4h.8M380.8 249.2h.8M391.4 245.2h.8M392.9 255.2h.8M379.1 254.5h.8M388.2 244.6h.8M391.5 256.2h.8M385.2 259.7h.8M378.3 259.4h.8M387.1 259.8h.8M380.2 247.7h.8M389.4 255.8h.8M387.0 243.8h.8M379.4 252.2h.8M378.4 253.9h.8M378.9 252.3h.8M390.4 246.8h.8M387.1 244.3h.8M394.2 253.1h.8M378.6 256.3h.8M393.8 254.3h.8M392.9 248.6h.8M390.8 256.5h.8M392.6 250.4h.8M383.5 261.5h.8M392.1 255.7h.8M385.1 246.2h.8M379.9 248.8h.8M387.9 244.6h.8M393.2 255.1h.8M379.6 259.1h.8M388.8 258.5h.8M389.2 244.9h.8M391.5 246.9h.8M385.8 246.3h.8M383.2 248.8h.8M380.9 249.1h.8" stroke="#4a929c" stroke-width="0.8" stroke-opacity="0.85" fill="none"/>
<path d="M390.5 249.7h.8M383.1 257.7h.8M381.8 250.2h.8M389.7 250.2h.8M381.3 255.8h.8M390.1 253.7h.8M387.3 247.7h.8M380.5 253.8h.8M387.3 257.0h.8M380.4 254.1h.8M390.7 251.7h.8M382.8 250.8h.8M391.3 250.9h.8M387.8 248.4h.8M390.8 253.5h.8M382.9 256.8h.8M389.8 251.1h.8M389.5 250.6h.8M384.0 257.7h.8M380.2 254.5h.8M381.9 257.3h.8M381.8 249.9h.8M385.5 248.4h.8M390.5 252.7h.8M383.0 250.9h.8M388.1 247.8h.8M388.6 256.3h.8M386.7 258.4h.8M388.1 255.4h.8M380.5 255.8h.8M379.9 256.9h.8M380.1 253.6h.8M383.2 250.2h.8M382.3 257.4h.8M388.1 256.5h.8M386.0 248.7h.8M390.4 253.6h.8M387.5 247.9h.8M384.3 258.5h.8M385.4 248.2h.8M384.7 257.9h.8M389.1 248.4h.8M385.0 258.5h.8M387.1 248.0h.8M383.6 257.5h.8M380.7 256.6h.8M390.9 248.1h.8M379.7 258.4h.8M384.7 247.3h.8M380.2 254.2h.8M383.4 258.1h.8M385.2 256.9h.8M381.2 258.4h.8M390.1 247.5h.8M391.2 249.9h.8M387.5 247.2h.8M384.7 256.8h.8M389.7 250.9h.8M383.3 251.0h.8M389.5 251.3h.8M384.7 248.7h.8M383.9 257.7h.8M381.1 255.3h.8M381.8 249.2h.8M387.6 247.2h.8M388.6 256.5h.8M380.2 254.7h.8M390.8 248.9h.8M380.8 253.9h.8M380.4 251.2h.8M387.5 248.6h.8M380.1 258.6h.8M389.9 250.1h.8M389.1 255.7h.8M384.2 248.7h.8M389.8 250.5h.8M379.9 257.5h.8M383.0 250.8h.8M386.0 257.7h.8M384.0 248.8h.8M385.4 247.4h.8M381.4 254.6h.8M385.3 258.2h.8M381.1 257.5h.8M384.9 257.8h.8M383.6 257.6h.8M387.2 248.9h.8M380.5 258.5h.8M383.8 247.9h.8M386.1 247.8h.8M381.7 257.4h.8M390.1 249.0h.8M390.5 251.3h.8M386.2 257.0h.8M383.3 257.0h.8M391.3 247.8h.8M383.0 257.2h.8M381.1 252.0h.8M388.6 256.6h.8M388.1 256.8h.8M383.6 257.1h.8M386.6 248.0h.8M389.4 249.0h.8M391.1 253.3h.8M389.8 249.8h.8M391.0 250.3h.8M380.9 255.7h.8M381.2 251.4h.8M385.9 248.4h.8M391.0 251.1h.8M388.4 248.0h.8M388.9 255.0h.8M389.9 251.2h.8M380.5 252.4h.8M384.8 258.4h.8M386.9 257.0h.8M391.0 254.2h.8M384.6 257.9h.8M389.5 252.0h.8M381.4 258.5h.8M391.1 252.3h.8M380.6 253.5h.8M380.7 254.4h.8M386.1 257.2h.8M386.9 257.5h.8M389.1 248.3h.8M384.5 258.7h.8M382.6 257.1h.8M390.6 252.9h.8M385.9 257.3h.8M385.8 258.2h.8M383.9 257.0h.8M380.2 257.9h.8M381.5 257.0h.8M380.5 255.1h.8M387.3 247.3h.8M386.1 257.4h.8M390.2 249.3h.8M381.2 258.6h.8M391.1 253.4h.8M387.9 247.4h.8M386.7 247.7h.8M382.1 250.7h.8M380.9 257.3h.8M387.5 248.7h.8M388.0 255.3h.8M380.0 256.9h.8M391.1 251.3h.8M380.3 254.5h.8M389.7 249.7h.8M390.9 253.4h.8M387.9 255.8h.8M390.5 249.3h.8M387.8 247.7h.8M380.1 257.9h.8M386.6 258.0h.8M387.0 248.7h.8M390.0 248.3h.8M380.7 258.6h.8M385.7 247.7h.8M381.3 255.5h.8M390.8 249.2h.8M381.6 257.7h.8M388.9 255.2h.8M389.0 256.5h.8M383.2 249.4h.8M388.0 256.5h.8M388.7 255.7h.8M381.4 257.7h.8M390.2 253.0h.8M386.7 248.5h.8M389.5 251.3h.8M387.1 247.5h.8M389.8 249.3h.8M385.2 247.3h.8M391.3 254.7h.8M381.1 254.8h.8M390.9 253.3h.8M383.8 257.4h.8M388.6 248.9h.8M389.9 250.5h.8M382.4 250.9h.8M391.0 250.9h.8M387.6 248.7h.8M381.1 255.0h.8M380.1 254.3h.8M380.0 254.8h.8M385.4 247.4h.8M389.2 255.8h.8M391.0 248.8h.8M381.3 252.0h.8M379.8 254.0h.8M381.3 252.1h.8M388.1 256.0h.8M380.0 253.7h.8M391.0 248.1h.8" stroke="#6aac50" stroke-width="0.8" stroke-opacity="0.9" fill="none"/>
<path d="M388.0 251.9h.8M388.5 253.6h.8M384.1 250.2h.8M383.1 253.0h.8M382.4 251.8h.8M388.9 254.4h.8M382.4 254.5h.8M388.6 254.1h.8M382.2 255.2h.8M388.7 251.5h.8M382.7 256.0h.8M384.6 250.6h.8M388.3 249.7h.8M386.6 249.7h.8M382.8 256.2h.8M388.6 254.2h.8M388.1 253.0h.8M384.3 251.0h.8M383.4 252.5h.8M386.9 250.1h.8M382.7 251.8h.8M388.2 254.8h.8M389.2 250.3h.8M381.9 254.3h.8M387.6 254.2h.8M382.9 256.1h.8M386.9 249.1h.8M387.2 250.6h.8M385.1 249.4h.8M386.6 250.8h.8M388.3 252.0h.8M382.3 255.8h.8M382.3 254.7h.8M382.4 251.4h.8M388.4 250.8h.8M383.4 255.4h.8M383.0 252.8h.8M388.3 251.7h.8M382.8 252.9h.8M388.5 252.2h.8M382.0 254.0h.8M382.4 253.6h.8M383.7 250.6h.8M388.5 250.6h.8M382.0 256.0h.8M382.9 252.8h.8M384.1 250.9h.8M389.4 249.5h.8M388.1 251.8h.8M383.1 252.5h.8M383.2 254.4h.8M386.6 249.7h.8M381.9 252.7h.8M384.7 250.8h.8M381.6 252.0h.8M388.6 253.7h.8M389.2 250.9h.8M383.3 252.9h.8M386.4 250.3h.8M387.6 250.8h.8M382.6 253.2h.8M383.2 255.3h.8M381.9 253.3h.8M388.3 253.2h.8M388.6 251.9h.8M388.5 252.9h.8M383.2 253.1h.8M383.2 253.4h.8M382.7 255.8h.8M389.0 249.3h.8M389.2 254.9h.8M389.2 249.3h.8M387.4 250.8h.8M382.5 251.3h.8M383.0 252.2h.8M383.0 256.2h.8M386.0 249.8h.8M387.7 251.2h.8M381.7 251.2h.8M382.9 252.2h.8M383.1 254.4h.8M389.1 251.8h.8M383.4 256.2h.8M387.6 253.8h.8M386.1 249.1h.8M387.9 252.9h.8M387.6 249.1h.8M383.4 253.3h.8M386.3 250.6h.8M381.7 252.7h.8M388.3 254.4h.8M387.8 253.0h.8M388.7 249.2h.8M386.5 249.8h.8M385.1 249.5h.8M389.2 249.6h.8M382.2 254.5h.8M383.2 254.7h.8M388.9 253.5h.8M387.5 250.5h.8M388.9 249.8h.8M387.6 252.4h.8M383.2 255.7h.8M382.6 252.1h.8M383.8 249.2h.8M387.9 251.9h.8M389.0 250.8h.8M382.6 256.3h.8M381.8 255.0h.8M388.9 251.4h.8M387.8 254.5h.8M387.7 253.1h.8" stroke="#b9b93c" stroke-width="0.8" stroke-opacity="0.95" fill="none"/>
<path d="M385.9 256.3h.8M386.0 255.0h.8M384.8 255.8h.8M385.3 256.7h.8M385.1 251.4h.8M383.8 252.3h.8M386.3 256.0h.8M386.3 256.1h.8M386.2 251.4h.8M384.9 251.7h.8M384.1 252.2h.8M386.0 256.8h.8M387.2 251.2h.8M387.2 251.0h.8M384.3 251.1h.8M383.7 252.7h.8M386.1 256.0h.8M386.4 252.5h.8M387.2 252.5h.8M386.2 252.3h.8M384.2 255.5h.8M383.6 251.7h.8M384.1 256.0h.8M386.0 255.0h.8M386.8 252.6h.8M383.7 251.4h.8M385.9 252.8h.8M386.5 251.1h.8M384.7 255.3h.8M383.9 252.8h.8M386.6 255.0h.8M384.3 252.7h.8M384.4 255.4h.8M383.9 255.9h.8M384.2 252.6h.8M385.9 255.5h.8M387.2 251.6h.8M384.8 251.1h.8M384.6 252.0h.8M386.0 251.6h.8M385.8 251.4h.8M386.5 251.5h.8M384.7 255.2h.8M385.6 256.4h.8M383.6 252.4h.8M384.4 252.3h.8M386.4 255.2h.8M387.0 251.6h.8M387.2 256.0h.8M386.8 255.4h.8M384.4 251.1h.8M384.0 251.5h.8M386.8 252.6h.8M387.0 255.4h.8M384.9 251.5h.8M384.2 252.5h.8M383.7 252.5h.8M384.4 255.4h.8M386.3 256.6h.8M386.2 255.6h.8M383.7 251.5h.8M385.5 252.9h.8M385.6 252.5h.8M384.3 255.6h.8M385.5 252.9h.8M386.4 255.6h.8M385.3 256.0h.8M384.9 251.1h.8M384.4 256.7h.8M386.9 255.9h.8M384.4 252.8h.8M384.6 256.2h.8M386.7 251.4h.8" stroke="#e0952c" stroke-width="0.8" stroke-opacity="1" fill="none"/>
<path d="M385.9 253.5h.8M383.6 253.0h.8M384.4 254.5h.8M386.9 254.0h.8M385.9 254.7h.8M386.8 253.2h.8M385.7 254.2h.8M383.5 253.3h.8M385.1 253.2h.8M386.4 253.5h.8M385.2 254.2h.8M386.6 253.2h.8M385.9 254.6h.8M385.3 254.0h.8M387.3 254.2h.8M384.1 253.2h.8M386.6 254.5h.8M384.8 254.5h.8M386.3 253.6h.8M385.6 254.3h.8M386.9 254.4h.8M386.5 253.3h.8M387.3 254.3h.8M386.1 254.8h.8M386.4 253.4h.8M386.4 253.3h.8M384.7 254.8h.8M384.6 254.1h.8M387.0 254.1h.8M386.7 253.6h.8M384.8 253.8h.8M386.4 253.0h.8M386.2 254.3h.8M384.9 253.6h.8M383.8 254.4h.8M386.3 253.1h.8M385.9 253.3h.8M387.1 253.0h.8M385.4 253.9h.8M387.4 254.7h.8M384.8 253.9h.8M383.7 253.7h.8M385.1 254.8h.8M387.4 254.8h.8" stroke="#e0652a" stroke-width="0.8" stroke-opacity="1" fill="none"/>
<rect x="367.9" y="196.6" width="78.1" height="77.7" fill="none" stroke="#6a6a6a" stroke-width="0.8"/>
<line x1="399.3" y1="196.6" x2="399.3" y2="274.3" stroke="#4a4a4a" stroke-width="0.95"/>
<line x1="367.9" y1="245.2" x2="446.0" y2="245.2" stroke="#4a4a4a" stroke-width="0.95"/>
<text x="369.9" y="205.2" font-size="5.7" fill="#231f20" stroke="#231f20" stroke-width="0.18">3.42</text>
<text x="439.0" y="205.2" font-size="5.7" text-anchor="end" fill="#231f20" stroke="#231f20" stroke-width="0.18">4.72</text>
<text x="369.9" y="268.7" font-size="5.7" fill="#231f20" stroke="#231f20" stroke-width="0.18">86.6</text>
<text x="439.5" y="268.7" font-size="5.7" text-anchor="end" fill="#231f20" stroke="#231f20" stroke-width="0.18">5.30</text>
<text x="364.29999999999995" y="205.7" font-size="5.4" text-anchor="end" fill="#231f20" stroke="#231f20" stroke-width="0.18">10<tspan font-size="4.6" dy="-3.3">4</tspan></text>
<line x1="366.3" y1="198.0" x2="367.9" y2="198.0" stroke="#555" stroke-width="0.7"/>
<text x="364.29999999999995" y="219.8" font-size="5.4" text-anchor="end" fill="#231f20" stroke="#231f20" stroke-width="0.18">10<tspan font-size="4.6" dy="-3.3">3</tspan></text>
<line x1="366.3" y1="214.5" x2="367.9" y2="214.5" stroke="#555" stroke-width="0.7"/>
<text x="364.29999999999995" y="238.3" font-size="5.4" text-anchor="end" fill="#231f20" stroke="#231f20" stroke-width="0.18">10<tspan font-size="4.6" dy="-3.3">2</tspan></text>
<line x1="366.3" y1="233.0" x2="367.9" y2="233.0" stroke="#555" stroke-width="0.7"/>
<text x="364.29999999999995" y="259.0" font-size="5.4" text-anchor="end" fill="#231f20" stroke="#231f20" stroke-width="0.18">10<tspan font-size="4.6" dy="-3.3">1</tspan></text>
<line x1="366.3" y1="252.5" x2="367.9" y2="252.5" stroke="#555" stroke-width="0.7"/>
<text x="364.29999999999995" y="273.0" font-size="5.4" text-anchor="end" fill="#231f20" stroke="#231f20" stroke-width="0.18">10<tspan font-size="4.6" dy="-3.3">0</tspan></text>
<line x1="366.3" y1="274.0" x2="367.9" y2="274.0" stroke="#555" stroke-width="0.7"/>
<text x="374.1" y="284.7" font-size="5.4" text-anchor="middle" fill="#231f20" stroke="#231f20" stroke-width="0.18">10<tspan font-size="4.6" dy="-3.5">0</tspan></text>
<text x="391.3" y="284.7" font-size="5.4" text-anchor="middle" fill="#231f20" stroke="#231f20" stroke-width="0.18">10<tspan font-size="4.6" dy="-3.5">1</tspan></text>
<text x="410.1" y="284.7" font-size="5.4" text-anchor="middle" fill="#231f20" stroke="#231f20" stroke-width="0.18">10<tspan font-size="4.6" dy="-3.5">2</tspan></text>
<text x="428.9" y="284.7" font-size="5.4" text-anchor="middle" fill="#231f20" stroke="#231f20" stroke-width="0.18">10<tspan font-size="4.6" dy="-3.5">3</tspan></text>
<text x="441.5" y="284.7" font-size="5.4" text-anchor="middle" fill="#231f20" stroke="#231f20" stroke-width="0.18">10<tspan font-size="4.6" dy="-3.5">4</tspan></text>
<line x1="368.5" y1="274.3" x2="368.5" y2="275.9" stroke="#555" stroke-width="0.7"/>
<line x1="377.9" y1="274.3" x2="377.9" y2="275.9" stroke="#555" stroke-width="0.7"/>
<line x1="388.2" y1="274.3" x2="388.2" y2="275.9" stroke="#555" stroke-width="0.7"/>
<line x1="398.0" y1="274.3" x2="398.0" y2="275.9" stroke="#555" stroke-width="0.7"/>
<line x1="416.0" y1="274.3" x2="416.0" y2="275.9" stroke="#555" stroke-width="0.7"/>
<line x1="427.5" y1="274.3" x2="427.5" y2="275.9" stroke="#555" stroke-width="0.7"/>
<line x1="435.6" y1="274.3" x2="435.6" y2="275.9" stroke="#555" stroke-width="0.7"/>
<line x1="445.5" y1="274.3" x2="445.5" y2="275.9" stroke="#555" stroke-width="0.7"/>
<path d="M495.3 245.0h.8M493.9 240.7h.8M471.1 260.9h.8M471.6 248.4h.8M490.6 237.8h.8M489.3 258.7h.8M472.0 264.4h.8M483.5 235.5h.8M498.7 243.7h.8M472.9 247.3h.8M469.5 262.6h.8M467.9 251.4h.8M489.0 261.8h.8M486.7 234.0h.8M474.5 264.7h.8M490.9 266.8h.8M473.5 246.3h.8M491.4 227.9h.8M500.7 239.5h.8M486.9 233.0h.8M475.4 241.2h.8M471.5 267.4h.8M475.5 232.6h.8M489.4 239.0h.8M499.8 254.8h.8M467.3 251.2h.8M473.7 247.1h.8M488.6 235.5h.8M493.2 260.9h.8M472.2 240.0h.8M478.5 237.8h.8M499.0 257.1h.8M483.1 238.6h.8M487.4 237.0h.8M484.1 232.3h.8M483.5 264.0h.8M481.8 238.6h.8M496.1 242.8h.8M501.4 243.6h.8M470.9 257.5h.8M479.3 240.1h.8M494.4 236.6h.8M476.5 232.9h.8M491.5 232.7h.8M474.7 269.4h.8M504.9 254.8h.8M497.5 254.2h.8M495.8 245.0h.8M485.0 235.3h.8M480.0 268.0h.8M475.8 266.9h.8M494.1 239.3h.8M468.2 254.7h.8M472.0 262.5h.8M478.2 267.2h.8M475.5 232.8h.8M473.2 246.2h.8M482.3 220.1h.8M490.1 231.8h.8M491.6 235.3h.8M488.9 263.5h.8M483.4 237.2h.8M483.8 233.5h.8M466.8 255.4h.8M471.7 239.3h.8M478.7 272.3h.8M487.9 261.4h.8M471.1 255.4h.8M478.4 267.5h.8M494.1 259.5h.8M504.4 251.1h.8M468.7 259.7h.8M469.4 252.4h.8M470.2 236.1h.8M493.5 233.7h.8M497.4 245.9h.8M501.4 250.6h.8M476.4 237.0h.8M471.6 268.1h.8M468.8 256.3h.8M495.3 239.2h.8M488.3 236.1h.8M472.1 239.8h.8M487.4 261.4h.8M495.7 245.8h.8M492.4 230.9h.8M491.7 240.2h.8M504.5 252.1h.8M495.6 242.6h.8M488.4 262.0h.8M481.8 238.9h.8M493.5 239.7h.8M468.4 247.1h.8M470.3 236.1h.8M474.1 242.8h.8M504.3 250.2h.8M473.5 239.4h.8M489.6 235.1h.8M474.4 243.1h.8M489.6 237.2h.8M494.7 257.2h.8M471.9 242.1h.8M472.8 266.2h.8M503.8 234.4h.8M495.7 263.7h.8M482.3 269.2h.8M515.7 251.2h.8M472.5 241.9h.8M534.1 245.3h.8M494.2 264.2h.8M493.0 223.3h.8M491.3 231.7h.8M518.3 261.6h.8M535.2 254.0h.8M514.6 258.4h.8M513.1 247.9h.8M520.2 230.2h.8M524.6 246.6h.8M528.9 216.4h.8M533.5 227.2h.8M505.8 248.8h.8M527.6 238.2h.8M524.6 250.6h.8M502.7 255.2h.8M516.2 220.6h.8M533.4 252.0h.8M513.8 240.9h.8M500.2 219.2h.8M513.8 222.2h.8M490.2 233.1h.8M516.0 244.2h.8M513.9 236.4h.8M487.5 231.6h.8M534.2 215.0h.8M506.0 244.1h.8M526.6 229.0h.8M533.7 212.7h.8M527.6 234.9h.8M511.4 233.8h.8M528.4 221.2h.8M496.5 228.0h.8M508.0 245.4h.8M520.8 238.9h.8M508.9 267.9h.8M500.7 247.6h.8M498.5 247.2h.8M533.0 232.4h.8M502.3 250.5h.8M518.6 238.3h.8M532.4 246.3h.8M516.4 252.3h.8M498.8 238.5h.8M514.0 234.6h.8M527.8 227.2h.8M512.0 222.5h.8M522.1 233.7h.8M520.6 228.2h.8M507.8 257.7h.8M540.0 239.4h.8M526.6 263.0h.8M515.7 262.5h.8M508.3 219.6h.8M518.2 238.9h.8M508.5 254.9h.8M517.6 236.9h.8M516.7 250.0h.8M505.3 236.8h.8M502.0 246.5h.8M523.5 226.1h.8M504.7 259.5h.8M491.3 240.6h.8M523.7 217.2h.8M521.6 224.0h.8M513.9 227.4h.8M506.2 248.3h.8M505.5 254.8h.8M520.9 241.9h.8M521.3 224.3h.8M498.2 249.4h.8M525.9 228.4h.8M505.0 237.1h.8M514.8 244.0h.8M494.7 260.0h.8M526.9 259.5h.8M522.3 243.7h.8M515.5 232.4h.8M520.8 232.0h.8M522.3 243.4h.8M540.9 221.7h.8M509.7 257.7h.8M534.2 256.5h.8M526.6 250.8h.8M509.3 246.3h.8M510.1 256.0h.8M542.5 228.4h.8M513.8 216.9h.8M503.0 228.2h.8M508.6 249.7h.8M540.7 231.6h.8M504.8 246.1h.8M508.0 241.2h.8M534.4 227.3h.8M528.0 235.5h.8M517.1 235.9h.8M497.4 250.1h.8M523.5 226.3h.8M516.1 265.8h.8M523.7 260.9h.8M542.0 257.1h.8M492.5 271.7h.8M504.2 236.9h.8M494.8 267.6h.8M516.5 245.7h.8M527.4 229.5h.8M470.4 234.5h.8M509.0 259.7h.8M522.6 228.1h.8M500.7 240.3h.8M522.9 249.2h.8M506.0 245.7h.8M529.8 215.3h.8M539.3 219.6h.8M542.2 210.9h.8M527.5 234.1h.8M529.0 225.0h.8M539.9 244.5h.8M537.9 222.2h.8M538.5 224.6h.8M533.8 224.0h.8M527.7 211.2h.8M525.7 221.9h.8M532.0 214.4h.8M524.6 235.4h.8M542.3 227.8h.8M525.7 222.2h.8M526.1 230.6h.8M535.7 225.0h.8M532.1 213.8h.8M536.2 231.7h.8M534.7 232.4h.8M537.6 224.8h.8M529.8 231.7h.8M535.2 223.9h.8M529.2 237.6h.8M531.2 224.9h.8M536.3 208.4h.8M532.6 216.5h.8M533.5 225.6h.8M531.4 217.9h.8M529.5 213.9h.8M534.2 218.4h.8M540.5 229.0h.8M532.1 218.5h.8M536.9 232.2h.8M535.6 232.5h.8M533.5 233.2h.8M532.1 232.9h.8M541.2 213.3h.8M531.7 229.9h.8M534.4 239.2h.8M529.0 217.4h.8M534.7 233.3h.8M533.9 230.6h.8M535.2 214.1h.8M541.9 220.9h.8M536.3 224.2h.8M529.5 225.6h.8M526.5 213.6h.8M527.6 225.5h.8" stroke="#93a5c6" stroke-width="0.8" stroke-opacity="0.8" fill="none"/>
<path d="M486.5 240.3h.8M481.1 263.9h.8M492.1 254.2h.8M480.0 242.6h.8M488.4 257.1h.8M477.6 245.5h.8M481.6 260.8h.8M476.6 261.2h.8M492.3 246.4h.8M476.9 258.7h.8M487.5 239.7h.8M473.4 251.6h.8M479.9 242.9h.8M494.0 249.0h.8M485.4 258.9h.8M486.2 258.1h.8M479.4 262.6h.8M477.8 262.1h.8M494.1 252.6h.8M475.3 257.5h.8M475.2 251.1h.8M483.7 259.7h.8M474.0 257.1h.8M486.2 239.2h.8M478.4 260.8h.8M484.0 241.2h.8M483.0 262.2h.8M474.9 253.1h.8M493.6 245.8h.8M473.7 255.0h.8M484.3 238.9h.8M476.4 248.9h.8M480.2 261.6h.8M491.4 251.6h.8M486.9 256.7h.8M485.1 242.7h.8M478.8 260.7h.8M488.0 258.1h.8M486.4 240.3h.8M491.4 252.9h.8M475.2 259.4h.8M483.5 260.7h.8M474.5 259.1h.8M476.2 248.9h.8M487.8 257.2h.8M479.6 263.4h.8M478.2 261.5h.8M491.4 246.3h.8M472.7 262.5h.8M475.4 256.5h.8M483.1 243.0h.8M477.4 248.6h.8M473.8 259.1h.8M478.7 246.0h.8M493.3 246.1h.8M486.0 240.8h.8M474.9 258.3h.8M494.0 249.2h.8M474.0 250.6h.8M485.6 260.0h.8M485.8 261.0h.8M471.9 257.1h.8M486.4 257.5h.8M472.5 259.7h.8M495.1 241.2h.8M482.5 242.3h.8M490.1 253.1h.8M493.6 252.5h.8M492.4 250.6h.8M492.7 246.2h.8M481.0 262.6h.8M471.8 257.4h.8M477.9 263.7h.8M478.7 262.2h.8M489.0 257.2h.8M484.5 259.0h.8M475.5 262.9h.8M480.2 261.7h.8M486.5 238.6h.8M485.2 240.8h.8M492.8 244.2h.8M472.6 256.7h.8M477.0 265.4h.8M493.6 253.0h.8M479.0 261.5h.8M473.7 253.6h.8M495.6 254.1h.8M481.8 240.6h.8M473.2 250.4h.8M471.6 260.1h.8M479.5 246.9h.8M475.3 262.4h.8M493.2 244.7h.8M491.9 248.0h.8M486.8 238.7h.8M492.8 253.6h.8M477.0 263.8h.8M478.1 263.3h.8M472.5 260.9h.8M490.6 257.1h.8M476.6 265.9h.8M484.3 261.2h.8M475.4 260.2h.8M493.5 253.3h.8M485.0 262.2h.8M477.2 260.6h.8M478.1 262.1h.8M483.5 241.9h.8M493.2 242.5h.8M493.8 247.6h.8M487.6 237.3h.8M495.1 252.4h.8M489.5 255.1h.8M491.7 243.6h.8M472.6 254.7h.8M491.9 250.2h.8M477.5 265.7h.8M478.1 245.4h.8M481.4 263.0h.8M490.1 255.3h.8M494.7 254.0h.8M492.8 252.9h.8M491.7 241.4h.8M493.0 245.6h.8M479.7 264.5h.8M487.8 239.6h.8M473.1 259.1h.8M491.4 251.1h.8M476.0 258.8h.8M484.6 241.5h.8M487.5 257.4h.8M475.1 249.1h.8M490.3 254.4h.8M489.6 256.5h.8M480.2 265.1h.8M475.1 256.2h.8M483.3 242.5h.8M492.6 244.4h.8M494.7 246.2h.8M476.7 265.5h.8M470.1 259.3h.8M484.5 242.8h.8M494.3 250.7h.8M489.2 237.4h.8M472.5 259.0h.8M492.3 248.4h.8M495.0 255.8h.8M471.9 259.0h.8M491.5 244.6h.8M476.4 262.7h.8M495.1 248.5h.8M473.2 251.7h.8M483.6 261.2h.8M473.5 261.6h.8M488.4 260.0h.8M473.8 248.2h.8M488.0 257.3h.8M496.4 251.3h.8M485.8 238.1h.8M479.0 266.3h.8M484.9 240.2h.8M491.3 240.2h.8M474.1 250.5h.8M472.9 249.9h.8M481.4 261.6h.8M486.0 256.8h.8M494.6 244.2h.8M474.1 263.7h.8M474.1 251.4h.8M483.7 239.5h.8M474.2 252.2h.8M483.3 241.8h.8M493.5 253.9h.8M475.4 254.5h.8M494.3 242.5h.8M489.4 254.8h.8M473.6 259.3h.8M481.5 261.0h.8M485.3 261.5h.8M477.5 258.9h.8M474.9 253.1h.8M484.6 239.7h.8M491.5 255.3h.8M492.9 247.8h.8M489.5 255.3h.8M474.4 254.1h.8M483.8 262.1h.8M491.6 255.8h.8M476.9 260.3h.8M495.3 251.2h.8M490.3 255.7h.8M494.8 249.8h.8M476.9 248.1h.8M495.5 251.7h.8M476.9 258.8h.8M472.1 260.2h.8M473.4 254.5h.8M475.2 263.6h.8M479.2 243.8h.8M477.9 261.4h.8M479.3 263.6h.8M472.5 251.1h.8M489.4 242.0h.8M481.6 261.2h.8M496.8 254.1h.8M480.2 243.6h.8M490.9 254.5h.8M474.7 261.6h.8M491.5 247.8h.8M494.1 252.6h.8M492.7 250.1h.8M481.3 262.5h.8M474.8 260.6h.8M494.1 251.5h.8M496.9 250.3h.8M488.5 260.3h.8M483.3 262.8h.8M494.4 255.4h.8M481.4 263.7h.8" stroke="#6482b4" stroke-width="0.8" stroke-opacity="0.8" fill="none"/>
<path d="M475.7 252.1h.8M480.7 246.6h.8M477.2 251.2h.8M476.4 256.2h.8M486.2 241.7h.8M488.4 242.7h.8M479.9 259.1h.8M487.0 242.7h.8M484.4 244.9h.8M489.6 246.9h.8M482.4 245.7h.8M489.5 249.8h.8M490.1 247.8h.8M490.1 247.6h.8M480.6 260.0h.8M479.1 258.4h.8M476.2 257.4h.8M479.6 258.0h.8M486.9 244.9h.8M489.7 247.2h.8M483.3 244.4h.8M481.1 258.7h.8M481.0 258.6h.8M487.5 242.9h.8M479.1 257.9h.8M477.7 247.1h.8M487.8 244.7h.8M476.0 253.0h.8M488.1 244.6h.8M484.0 256.7h.8M487.0 244.8h.8M486.8 255.1h.8M488.1 244.0h.8M489.0 243.7h.8M483.9 257.9h.8M481.0 259.1h.8M490.3 245.8h.8M490.4 246.3h.8M480.5 258.7h.8M481.9 244.9h.8M477.6 254.5h.8M490.8 244.4h.8M476.6 253.1h.8M490.3 245.8h.8M484.8 244.0h.8M479.8 258.6h.8M488.8 254.4h.8M490.7 250.5h.8M476.2 250.1h.8M483.1 243.3h.8M487.4 254.0h.8M478.4 259.1h.8M490.6 245.0h.8M482.1 245.2h.8M488.7 242.9h.8M487.9 244.5h.8M488.3 244.4h.8M477.1 257.4h.8M488.2 253.5h.8M476.6 253.3h.8M475.9 252.8h.8M487.6 244.2h.8M476.6 255.8h.8M481.6 260.4h.8M481.8 244.3h.8M487.7 243.6h.8M481.5 259.9h.8M489.9 249.9h.8M476.0 255.3h.8M477.0 253.1h.8M489.4 248.1h.8M490.2 248.6h.8M476.7 257.0h.8M477.3 253.1h.8M487.9 254.6h.8M476.1 256.4h.8M487.2 243.2h.8M477.4 254.7h.8M489.5 249.3h.8M477.4 255.6h.8M479.3 247.7h.8M477.3 250.4h.8M476.3 253.3h.8M489.9 247.3h.8M480.8 258.6h.8M476.7 256.9h.8M478.0 250.7h.8M478.4 257.2h.8M478.9 258.8h.8M478.3 258.1h.8M479.6 258.9h.8M484.9 244.3h.8M490.6 252.1h.8M485.4 244.5h.8M477.2 254.7h.8M477.3 252.0h.8M480.6 246.3h.8M489.7 244.9h.8M486.0 242.1h.8M477.1 253.2h.8M482.3 246.2h.8M476.7 256.3h.8M476.3 253.0h.8M491.2 246.5h.8M478.7 247.8h.8M476.8 254.7h.8M476.6 250.0h.8M478.5 249.4h.8M478.6 249.1h.8M491.0 251.5h.8M489.9 248.2h.8M482.0 258.7h.8M487.3 243.7h.8M483.9 257.9h.8M478.9 247.6h.8M475.9 253.6h.8M483.7 257.4h.8M478.1 249.5h.8M481.5 247.0h.8M483.1 245.7h.8M479.3 256.9h.8M490.3 245.7h.8M476.7 256.8h.8M485.8 241.2h.8M486.3 244.3h.8M479.6 246.7h.8M481.7 259.1h.8M490.1 247.6h.8M484.9 257.5h.8M482.1 246.1h.8M486.0 242.5h.8M476.9 255.5h.8M489.8 250.5h.8M476.2 255.7h.8M478.6 249.6h.8M476.3 251.8h.8M486.7 255.9h.8M483.2 244.6h.8M487.8 244.9h.8M488.5 242.9h.8M477.6 260.3h.8M488.4 253.7h.8M483.5 256.8h.8M475.8 256.0h.8M476.2 253.2h.8M482.6 244.3h.8M489.1 254.8h.8M476.8 249.0h.8M489.3 254.6h.8M478.8 257.2h.8M489.2 255.4h.8M477.3 256.4h.8M482.4 243.2h.8M476.7 252.2h.8M490.4 244.9h.8M486.0 243.5h.8M490.7 252.7h.8M485.6 241.8h.8M488.6 242.4h.8M484.3 257.0h.8M483.6 257.9h.8M489.7 246.2h.8M485.2 258.0h.8M486.9 245.0h.8M483.8 257.4h.8M486.5 244.0h.8M484.3 243.1h.8M484.1 257.5h.8M487.6 244.4h.8M490.5 244.0h.8M489.1 242.6h.8M484.3 243.8h.8M491.0 251.3h.8M487.7 242.4h.8M478.2 250.6h.8M482.9 246.0h.8M487.4 254.5h.8M491.0 243.5h.8M479.5 257.0h.8M475.8 257.8h.8M488.5 244.1h.8M487.1 245.0h.8M490.1 243.1h.8M478.7 247.5h.8M477.2 257.7h.8M479.2 256.7h.8M488.2 242.8h.8M489.0 256.0h.8M479.2 247.9h.8M491.2 248.5h.8M489.1 253.5h.8M476.8 253.3h.8M478.9 250.7h.8M487.4 253.5h.8M485.8 241.7h.8" stroke="#4a929c" stroke-width="0.8" stroke-opacity="0.85" fill="none"/>
<path d="M484.2 245.2h.8M488.1 248.6h.8M485.9 246.3h.8M482.5 247.3h.8M487.1 246.9h.8M486.9 254.1h.8M480.9 248.0h.8M481.7 257.6h.8M485.3 245.9h.8M478.4 255.1h.8M482.6 247.0h.8M482.3 248.9h.8M480.4 257.4h.8M487.3 253.0h.8M486.5 254.4h.8M488.6 250.1h.8M480.4 258.0h.8M483.0 257.0h.8M485.8 254.7h.8M484.6 255.8h.8M487.8 245.1h.8M478.1 255.3h.8M481.7 248.4h.8M488.0 245.7h.8M486.2 253.1h.8M481.8 257.8h.8M489.1 245.2h.8M485.1 256.3h.8M479.7 248.8h.8M489.2 247.9h.8M487.9 252.6h.8M482.9 247.5h.8M486.9 245.8h.8M488.2 245.4h.8M480.2 257.4h.8M485.3 254.7h.8M486.2 246.6h.8M483.2 247.6h.8M488.1 248.9h.8M483.7 246.6h.8M486.4 254.4h.8M483.7 246.4h.8M488.0 250.7h.8M479.5 252.3h.8M480.2 258.5h.8M480.7 247.6h.8M485.8 253.7h.8M477.9 251.9h.8M485.2 256.4h.8M487.7 247.2h.8M488.1 252.0h.8M489.3 247.7h.8M489.3 249.1h.8M484.0 245.1h.8M481.9 248.0h.8M488.5 247.3h.8M486.3 246.2h.8M487.7 252.1h.8M489.3 246.6h.8M487.7 246.6h.8M481.6 247.6h.8M487.5 251.3h.8M488.5 249.8h.8M482.4 257.6h.8M483.0 248.5h.8M484.5 245.5h.8M479.2 252.4h.8M478.1 255.1h.8M484.0 245.1h.8M485.9 254.0h.8M479.5 251.1h.8M485.5 246.8h.8M482.2 247.1h.8M478.7 251.4h.8M486.7 253.5h.8M485.3 245.9h.8M488.0 246.0h.8M486.0 254.5h.8M482.2 247.6h.8M485.2 245.8h.8M477.7 251.9h.8M483.0 256.8h.8M486.7 253.1h.8M484.7 255.6h.8M484.5 246.4h.8M479.8 258.5h.8M488.4 250.8h.8M487.7 247.7h.8M487.9 250.7h.8M486.5 254.4h.8M481.4 256.8h.8M479.3 250.9h.8M485.4 245.5h.8M488.5 250.4h.8M484.5 245.5h.8M487.2 253.3h.8M489.1 247.2h.8M479.8 247.3h.8M481.4 248.8h.8M479.9 258.5h.8M485.0 246.9h.8M483.9 254.8h.8M482.6 248.4h.8M480.0 258.2h.8M481.2 258.5h.8M485.1 245.8h.8M488.2 245.1h.8M483.2 256.8h.8M488.9 246.7h.8M488.0 245.9h.8M486.2 252.9h.8M487.5 245.5h.8M478.4 252.6h.8M482.0 258.6h.8M489.2 248.7h.8M489.2 247.0h.8M486.6 246.7h.8M488.3 247.3h.8M478.5 255.1h.8M488.3 248.1h.8M487.5 251.2h.8M488.5 245.8h.8M477.7 251.9h.8M480.6 247.0h.8M488.2 252.0h.8M488.9 248.7h.8M482.0 248.7h.8M489.3 246.6h.8M486.4 246.3h.8M480.3 248.4h.8M484.1 246.8h.8M487.2 254.6h.8M482.7 257.4h.8M477.7 256.2h.8M481.0 248.4h.8M480.3 247.6h.8M487.7 252.2h.8M477.7 255.3h.8M478.0 252.5h.8" stroke="#6aac50" stroke-width="0.8" stroke-opacity="0.9" fill="none"/>
<path d="M484.1 253.6h.8M481.7 255.9h.8M485.4 248.8h.8M480.2 256.0h.8M480.2 250.6h.8M486.8 248.9h.8M485.6 249.2h.8M481.8 254.9h.8M484.5 248.2h.8M485.9 250.8h.8M479.1 254.2h.8M484.8 248.1h.8M483.2 255.5h.8M486.2 247.7h.8M480.9 250.8h.8M484.5 254.4h.8M482.9 255.3h.8M480.8 249.2h.8M486.2 251.5h.8M485.6 250.8h.8M487.2 249.4h.8M486.2 251.8h.8M486.0 252.6h.8M486.4 251.4h.8M479.5 254.3h.8M478.5 254.3h.8M485.0 254.1h.8M486.5 247.2h.8M478.8 253.5h.8M486.1 249.1h.8M487.3 251.0h.8M482.7 255.7h.8M478.2 254.5h.8M485.9 250.9h.8M483.5 255.0h.8M484.1 254.3h.8M478.5 254.3h.8M479.5 254.2h.8M486.8 251.0h.8M485.5 250.0h.8M484.6 247.9h.8M485.9 247.1h.8M479.5 253.4h.8M486.6 247.5h.8M481.0 255.5h.8M480.1 255.3h.8M482.7 254.8h.8M487.1 252.1h.8M485.7 247.0h.8M486.1 247.8h.8M485.6 249.4h.8M485.9 249.6h.8M483.9 254.3h.8M484.3 254.0h.8M482.5 256.5h.8M486.1 251.4h.8M485.4 248.3h.8M479.9 256.0h.8M482.2 256.3h.8M481.0 254.8h.8M487.3 252.6h.8M481.8 254.8h.8M480.0 256.7h.8M487.1 249.7h.8M481.1 250.7h.8M485.7 252.3h.8M483.8 247.1h.8M480.7 255.7h.8M480.2 256.1h.8M485.6 249.7h.8M480.6 250.5h.8M483.8 254.5h.8M485.7 247.1h.8M478.8 254.0h.8M479.9 256.4h.8M486.0 249.5h.8M484.5 247.2h.8M486.5 250.6h.8M484.6 247.9h.8M484.9 248.1h.8M482.7 256.0h.8M480.5 250.0h.8M483.9 248.2h.8M483.8 253.0h.8M484.7 254.4h.8M486.5 248.3h.8M485.9 251.0h.8M484.7 247.4h.8M486.7 250.4h.8M482.7 256.3h.8M480.4 248.9h.8M479.8 256.3h.8M484.3 247.5h.8M486.6 250.0h.8M487.3 248.7h.8M479.6 256.0h.8M480.7 254.9h.8M486.1 247.4h.8M484.0 254.7h.8M484.4 253.4h.8M480.3 255.0h.8M487.0 252.5h.8M480.4 250.3h.8M480.2 250.1h.8M481.2 250.6h.8M483.6 253.2h.8M483.9 247.5h.8M481.1 249.9h.8M484.1 248.0h.8M485.9 247.8h.8M486.2 250.0h.8M479.9 256.2h.8M486.8 252.1h.8M485.6 248.9h.8M487.3 249.9h.8M484.2 247.5h.8M479.8 249.1h.8M481.8 255.1h.8M486.9 251.8h.8M484.5 248.0h.8M482.0 254.8h.8M486.7 250.1h.8M485.7 252.4h.8M479.5 254.4h.8M479.6 254.8h.8M485.0 253.0h.8M481.5 248.9h.8M480.2 249.2h.8M478.4 254.5h.8M478.8 254.3h.8M483.7 247.8h.8M486.8 251.8h.8M478.2 252.9h.8M478.4 254.2h.8M484.5 254.1h.8M483.4 255.8h.8M485.2 247.1h.8M486.3 247.8h.8M477.9 252.8h.8M479.5 252.9h.8M486.2 248.5h.8M479.6 253.7h.8M484.5 248.1h.8M485.0 248.3h.8M479.9 256.4h.8M483.4 256.3h.8M480.4 249.6h.8M486.5 248.0h.8M484.4 253.6h.8M481.6 256.6h.8M480.7 256.2h.8M481.2 249.0h.8M481.6 256.2h.8M479.9 250.2h.8" stroke="#b9b93c" stroke-width="0.8" stroke-opacity="0.95" fill="none"/>
<path d="M484.7 250.5h.8M481.9 250.3h.8M482.9 249.4h.8M482.5 249.2h.8M480.1 254.0h.8M485.1 251.5h.8M484.2 249.6h.8M481.6 250.4h.8M485.1 250.1h.8M481.8 249.8h.8M482.6 250.8h.8M480.3 252.8h.8M480.2 251.7h.8M483.1 250.6h.8M483.7 251.3h.8M480.4 253.2h.8M479.9 251.3h.8M482.7 250.0h.8M481.3 254.1h.8M482.6 250.5h.8M483.0 250.6h.8M481.9 249.0h.8M484.4 251.3h.8M483.9 249.6h.8M480.7 251.6h.8M484.9 252.5h.8M484.5 251.4h.8M479.8 253.0h.8M482.8 250.0h.8M480.6 251.9h.8M485.3 251.0h.8M484.5 252.7h.8M484.6 250.7h.8M479.7 250.9h.8M481.1 251.4h.8M479.6 252.8h.8M480.3 251.3h.8M479.6 253.7h.8M485.2 250.7h.8M480.8 253.5h.8M479.9 254.3h.8M484.1 249.4h.8M480.3 252.4h.8M484.2 251.2h.8M484.6 249.7h.8M485.4 252.5h.8M479.9 253.0h.8M483.7 250.3h.8M480.7 253.2h.8M480.4 252.4h.8M484.0 252.3h.8M484.4 252.4h.8M480.3 253.2h.8M481.3 251.8h.8M485.1 251.7h.8M485.2 250.6h.8M481.3 251.6h.8M482.7 249.5h.8M483.0 249.1h.8M484.8 251.9h.8M481.1 253.7h.8M481.0 253.2h.8M480.3 252.4h.8M484.7 250.5h.8M483.8 252.3h.8M482.1 250.6h.8M479.6 251.9h.8M481.4 254.6h.8M481.1 252.9h.8M485.3 252.5h.8M480.9 251.6h.8M483.0 249.0h.8M480.3 254.7h.8M485.3 249.1h.8M480.9 253.5h.8M483.0 249.8h.8M480.3 253.4h.8M480.7 252.7h.8M480.5 254.2h.8M484.7 252.6h.8M484.9 250.3h.8M481.1 253.7h.8" stroke="#e0952c" stroke-width="0.8" stroke-opacity="1" fill="none"/>
<path d="M483.2 252.0h.8M483.3 252.7h.8M482.5 251.3h.8M482.3 254.5h.8M483.3 251.2h.8M483.4 251.1h.8M483.0 253.4h.8M482.0 254.1h.8M482.9 252.4h.8M482.6 250.9h.8M483.3 254.1h.8M482.2 251.5h.8M482.8 253.7h.8M481.6 254.0h.8M482.9 252.6h.8M483.0 252.7h.8M483.3 253.6h.8M483.4 254.0h.8M483.1 252.5h.8M482.1 254.2h.8M483.4 254.2h.8M481.8 254.7h.8M482.7 253.8h.8M482.6 253.4h.8M483.4 254.1h.8M482.7 252.2h.8M483.4 252.0h.8M482.4 253.0h.8M481.6 253.0h.8M482.0 254.7h.8M482.1 252.0h.8M482.2 253.2h.8M483.2 253.4h.8M481.9 251.4h.8M481.8 253.1h.8M482.7 253.1h.8M482.7 251.7h.8M481.8 252.0h.8M482.8 253.6h.8M482.6 252.2h.8M482.5 251.2h.8M483.0 252.6h.8M481.7 250.9h.8M483.2 251.8h.8M482.8 251.6h.8" stroke="#e0652a" stroke-width="0.8" stroke-opacity="1" fill="none"/>
<rect x="465.9" y="196.6" width="78.1" height="77.5" fill="none" stroke="#6a6a6a" stroke-width="0.8"/>
<line x1="497.5" y1="196.6" x2="497.5" y2="274.1" stroke="#4a4a4a" stroke-width="0.95"/>
<line x1="465.9" y1="244.9" x2="544.0" y2="244.9" stroke="#4a4a4a" stroke-width="0.95"/>
<text x="467.9" y="205.2" font-size="5.7" fill="#231f20" stroke="#231f20" stroke-width="0.18">4.74</text>
<text x="537.0" y="205.2" font-size="5.7" text-anchor="end" fill="#231f20" stroke="#231f20" stroke-width="0.18">4.26</text>
<text x="467.9" y="268.5" font-size="5.7" fill="#231f20" stroke="#231f20" stroke-width="0.18">88.0</text>
<text x="537.5" y="268.5" font-size="5.7" text-anchor="end" fill="#231f20" stroke="#231f20" stroke-width="0.18">3.02</text>
<text x="462.29999999999995" y="205.7" font-size="5.4" text-anchor="end" fill="#231f20" stroke="#231f20" stroke-width="0.18">10<tspan font-size="4.6" dy="-3.3">4</tspan></text>
<line x1="464.3" y1="198.0" x2="465.9" y2="198.0" stroke="#555" stroke-width="0.7"/>
<line x1="544.0" y1="198.0" x2="545.6" y2="198.0" stroke="#555" stroke-width="0.7"/>
<text x="462.29999999999995" y="219.8" font-size="5.4" text-anchor="end" fill="#231f20" stroke="#231f20" stroke-width="0.18">10<tspan font-size="4.6" dy="-3.3">3</tspan></text>
<line x1="464.3" y1="214.5" x2="465.9" y2="214.5" stroke="#555" stroke-width="0.7"/>
<line x1="544.0" y1="214.5" x2="545.6" y2="214.5" stroke="#555" stroke-width="0.7"/>
<text x="462.29999999999995" y="238.3" font-size="5.4" text-anchor="end" fill="#231f20" stroke="#231f20" stroke-width="0.18">10<tspan font-size="4.6" dy="-3.3">2</tspan></text>
<line x1="464.3" y1="233.0" x2="465.9" y2="233.0" stroke="#555" stroke-width="0.7"/>
<line x1="544.0" y1="233.0" x2="545.6" y2="233.0" stroke="#555" stroke-width="0.7"/>
<text x="462.29999999999995" y="259.0" font-size="5.4" text-anchor="end" fill="#231f20" stroke="#231f20" stroke-width="0.18">10<tspan font-size="4.6" dy="-3.3">1</tspan></text>
<line x1="464.3" y1="252.5" x2="465.9" y2="252.5" stroke="#555" stroke-width="0.7"/>
<line x1="544.0" y1="252.5" x2="545.6" y2="252.5" stroke="#555" stroke-width="0.7"/>
<text x="462.29999999999995" y="273.0" font-size="5.4" text-anchor="end" fill="#231f20" stroke="#231f20" stroke-width="0.18">10<tspan font-size="4.6" dy="-3.3">0</tspan></text>
<line x1="464.3" y1="274.0" x2="465.9" y2="274.0" stroke="#555" stroke-width="0.7"/>
<line x1="544.0" y1="274.0" x2="545.6" y2="274.0" stroke="#555" stroke-width="0.7"/>
<text x="472.1" y="284.5" font-size="5.4" text-anchor="middle" fill="#231f20" stroke="#231f20" stroke-width="0.18">10<tspan font-size="4.6" dy="-3.5">0</tspan></text>
<text x="489.3" y="284.5" font-size="5.4" text-anchor="middle" fill="#231f20" stroke="#231f20" stroke-width="0.18">10<tspan font-size="4.6" dy="-3.5">1</tspan></text>
<text x="508.1" y="284.5" font-size="5.4" text-anchor="middle" fill="#231f20" stroke="#231f20" stroke-width="0.18">10<tspan font-size="4.6" dy="-3.5">2</tspan></text>
<text x="526.9" y="284.5" font-size="5.4" text-anchor="middle" fill="#231f20" stroke="#231f20" stroke-width="0.18">10<tspan font-size="4.6" dy="-3.5">3</tspan></text>
<text x="539.5" y="284.5" font-size="5.4" text-anchor="middle" fill="#231f20" stroke="#231f20" stroke-width="0.18">10<tspan font-size="4.6" dy="-3.5">4</tspan></text>
<line x1="466.5" y1="274.1" x2="466.5" y2="275.7" stroke="#555" stroke-width="0.7"/>
<line x1="475.9" y1="274.1" x2="475.9" y2="275.7" stroke="#555" stroke-width="0.7"/>
<line x1="486.2" y1="274.1" x2="486.2" y2="275.7" stroke="#555" stroke-width="0.7"/>
<line x1="496.0" y1="274.1" x2="496.0" y2="275.7" stroke="#555" stroke-width="0.7"/>
<line x1="514.0" y1="274.1" x2="514.0" y2="275.7" stroke="#555" stroke-width="0.7"/>
<line x1="525.5" y1="274.1" x2="525.5" y2="275.7" stroke="#555" stroke-width="0.7"/>
<line x1="533.6" y1="274.1" x2="533.6" y2="275.7" stroke="#555" stroke-width="0.7"/>
<line x1="543.5" y1="274.1" x2="543.5" y2="275.7" stroke="#555" stroke-width="0.7"/>
<path d="M393.1 386.0h.8M378.3 389.0h.8M373.9 387.4h.8M373.7 375.7h.8M389.8 387.2h.8M383.2 329.0h.8M373.4 356.1h.8M374.3 362.9h.8M378.2 347.2h.8M378.1 343.0h.8M397.3 368.7h.8M396.1 385.5h.8M377.1 338.9h.8M401.6 345.5h.8M376.4 344.8h.8M400.0 339.4h.8M389.0 326.3h.8M374.9 355.0h.8M400.8 355.0h.8M374.1 320.9h.8M399.9 343.6h.8M403.8 345.0h.8M397.0 323.1h.8M377.5 342.3h.8M399.6 360.1h.8M397.7 384.6h.8M393.2 327.6h.8M400.6 358.7h.8M397.4 355.8h.8M403.1 335.0h.8M401.3 355.6h.8M372.4 367.4h.8M376.3 320.4h.8M374.9 364.1h.8M383.8 325.6h.8M378.0 340.9h.8M377.8 389.2h.8M378.7 347.2h.8M374.2 349.2h.8M368.5 360.4h.8M397.8 356.2h.8M399.4 333.4h.8M402.2 355.7h.8M380.7 333.2h.8M399.7 360.1h.8M381.9 329.9h.8M401.1 363.1h.8M397.6 334.7h.8M392.5 324.3h.8M397.7 382.6h.8M379.7 325.8h.8M400.8 363.2h.8M403.4 351.3h.8M399.0 325.1h.8M388.4 328.1h.8M400.6 366.0h.8M375.8 334.8h.8M400.6 357.4h.8M371.3 359.8h.8M377.2 353.4h.8M389.2 327.4h.8M394.1 382.2h.8M371.0 371.5h.8M375.8 339.1h.8M397.3 336.0h.8M399.4 342.1h.8M399.0 342.2h.8M373.5 335.7h.8M371.0 357.1h.8M378.9 337.2h.8M400.1 340.7h.8M376.8 331.9h.8M392.0 328.2h.8M400.2 342.0h.8M394.6 326.7h.8M379.2 341.9h.8M377.1 329.6h.8M377.8 331.7h.8M403.3 345.3h.8M404.9 371.5h.8M378.6 335.9h.8M399.6 332.7h.8M386.8 390.3h.8M398.1 325.0h.8M372.2 361.3h.8M376.3 332.2h.8M394.1 325.8h.8M384.3 318.9h.8M397.2 339.4h.8M385.0 321.5h.8M400.2 378.7h.8M403.4 340.5h.8M397.9 346.1h.8M382.2 326.0h.8M402.6 331.6h.8M375.1 353.0h.8M404.0 361.8h.8M382.5 323.4h.8M395.7 384.7h.8M378.7 344.3h.8M385.1 327.7h.8M401.7 350.8h.8M394.2 327.8h.8M375.5 341.9h.8M381.7 331.9h.8M372.3 361.7h.8M402.0 335.4h.8M395.6 323.9h.8M372.9 373.8h.8M383.0 327.0h.8M376.3 327.3h.8M383.8 391.0h.8M378.3 345.8h.8M401.1 330.7h.8M391.0 320.7h.8M401.3 353.0h.8M397.9 332.7h.8M399.3 363.4h.8M377.8 318.5h.8M400.4 324.2h.8M371.2 359.1h.8M389.6 388.7h.8M395.3 376.6h.8M372.9 374.1h.8M371.1 391.0h.8M401.2 387.0h.8M373.1 366.0h.8M372.5 372.5h.8M399.6 369.5h.8M382.0 392.9h.8M389.6 390.9h.8M396.4 385.4h.8M391.2 389.4h.8M373.2 381.8h.8M378.3 392.6h.8M396.6 385.8h.8M367.1 364.9h.8M399.2 371.2h.8M397.6 374.7h.8M400.4 366.8h.8M374.2 359.9h.8M402.9 375.7h.8M404.0 362.1h.8M406.5 364.7h.8M397.2 380.7h.8M375.1 368.0h.8M370.6 361.2h.8M372.3 347.6h.8M409.3 373.8h.8M372.0 369.8h.8M393.9 382.9h.8M377.6 392.1h.8M388.7 392.2h.8M390.3 388.3h.8M391.8 386.7h.8M402.1 358.7h.8M371.7 383.0h.8M368.0 374.6h.8M374.6 390.2h.8M373.5 361.0h.8M372.6 384.5h.8M372.9 381.5h.8M377.7 392.2h.8M394.9 384.5h.8M376.6 355.1h.8M377.5 390.7h.8M400.6 370.1h.8M401.7 384.5h.8M386.5 392.2h.8M381.3 390.8h.8M371.7 379.4h.8M419.9 347.2h.8M399.0 325.5h.8M428.0 350.9h.8M410.1 317.9h.8M414.2 323.9h.8M416.4 342.1h.8M411.6 332.9h.8M426.3 350.9h.8M410.5 325.8h.8M407.3 342.5h.8M423.0 328.9h.8M422.9 333.3h.8M423.2 348.3h.8M427.6 353.5h.8M403.9 344.6h.8M433.9 356.5h.8M404.8 332.6h.8M431.5 353.2h.8M425.8 347.7h.8M422.1 346.9h.8M415.9 336.9h.8M440.1 346.0h.8M429.8 321.9h.8M405.5 327.5h.8M413.2 336.6h.8M425.2 344.0h.8M441.0 325.3h.8M420.3 341.2h.8M419.2 333.9h.8M426.6 357.6h.8M428.7 334.7h.8M412.7 350.1h.8M407.8 346.0h.8M417.8 352.9h.8M435.4 341.1h.8M419.5 350.1h.8M401.0 344.5h.8M425.6 335.9h.8M403.1 332.4h.8M408.9 363.0h.8M434.2 355.6h.8M371.9 319.8h.8M432.2 361.3h.8M415.2 354.5h.8M423.5 332.8h.8M414.0 330.2h.8M424.7 361.3h.8M401.0 340.4h.8M426.5 326.4h.8M399.1 343.0h.8M403.2 363.0h.8M424.4 329.9h.8M405.8 330.6h.8M435.2 323.3h.8M428.6 344.0h.8M406.7 329.5h.8M397.0 321.9h.8M428.0 344.2h.8M401.5 351.1h.8M423.3 349.6h.8M442.5 339.8h.8M429.8 330.6h.8M442.2 335.8h.8M408.9 334.0h.8M416.9 362.4h.8M408.5 359.7h.8M415.4 346.8h.8M412.3 361.4h.8M426.2 338.8h.8M434.4 355.9h.8M409.9 349.4h.8M424.7 349.8h.8M426.1 354.8h.8M424.5 339.4h.8M416.8 343.4h.8M416.0 329.5h.8M433.5 330.1h.8M419.8 347.5h.8M408.1 344.3h.8M416.4 348.3h.8M429.2 349.8h.8M416.7 346.6h.8M421.8 344.6h.8M434.7 339.0h.8M399.7 341.4h.8M400.1 346.2h.8M431.0 358.5h.8M425.6 342.5h.8M433.0 341.4h.8M431.6 340.2h.8M435.3 338.6h.8M405.7 339.4h.8M417.7 320.1h.8M405.0 360.2h.8M436.6 349.2h.8M405.4 346.6h.8M426.7 335.7h.8M408.1 363.0h.8M404.1 334.9h.8M403.6 348.4h.8M431.8 347.5h.8M420.0 346.2h.8M440.1 361.2h.8M374.0 340.5h.8M418.4 340.3h.8M429.1 338.0h.8M426.6 352.6h.8M412.3 323.7h.8M398.8 346.2h.8M423.0 332.3h.8M418.0 333.5h.8M430.0 339.9h.8M406.1 335.5h.8M408.7 347.9h.8M436.9 335.4h.8M405.1 338.1h.8M426.8 341.6h.8M402.1 342.5h.8M431.9 335.8h.8M422.9 325.1h.8M433.9 322.0h.8M411.4 335.9h.8M426.6 354.1h.8M414.8 333.3h.8M421.7 351.5h.8M429.2 340.0h.8M436.0 331.3h.8M435.4 349.8h.8M410.2 328.2h.8M430.2 342.7h.8M421.7 332.8h.8M414.5 329.5h.8M424.4 339.6h.8M416.1 365.3h.8M407.7 338.8h.8M413.9 335.7h.8M415.7 348.8h.8M422.6 342.9h.8M426.9 328.2h.8M426.4 341.6h.8M418.6 341.9h.8M406.5 338.5h.8M406.5 329.1h.8M419.7 341.1h.8M415.8 328.9h.8M406.0 350.1h.8M438.8 360.8h.8M411.9 334.1h.8M418.8 343.0h.8M425.4 326.9h.8M419.3 343.1h.8M438.9 322.3h.8M402.3 320.2h.8M403.2 329.6h.8M411.2 323.6h.8M407.4 339.5h.8M423.3 355.5h.8M411.4 350.9h.8M436.6 336.9h.8M412.8 326.1h.8M414.1 324.8h.8M422.0 360.3h.8M410.5 342.6h.8M384.1 327.7h.8M439.8 350.4h.8M436.3 333.1h.8M423.7 349.9h.8M408.9 329.4h.8M421.9 349.8h.8M431.3 334.6h.8M426.3 328.3h.8M437.6 337.5h.8M424.5 353.0h.8M418.1 348.0h.8M432.9 324.6h.8M411.2 366.1h.8M424.8 326.8h.8M415.9 356.8h.8M430.1 349.6h.8M431.0 356.1h.8M438.7 335.6h.8M397.4 339.4h.8M420.7 331.2h.8M417.6 356.4h.8M436.0 324.3h.8M443.2 345.9h.8M422.0 332.6h.8M411.1 339.2h.8M421.5 328.4h.8M391.0 321.1h.8M420.8 338.1h.8M411.6 326.2h.8M430.8 337.8h.8M435.7 346.0h.8M433.1 349.4h.8M410.8 348.1h.8M417.5 336.3h.8M429.1 337.3h.8M421.1 337.9h.8M426.1 327.6h.8M406.8 330.6h.8M430.6 370.9h.8M429.6 347.8h.8M419.2 346.3h.8M410.6 324.8h.8M412.0 328.9h.8M405.5 329.0h.8M411.0 339.5h.8M420.4 333.9h.8M430.3 340.5h.8M406.3 355.8h.8M440.5 333.5h.8M438.0 346.5h.8M431.1 326.7h.8M441.4 338.5h.8M442.2 354.0h.8M418.0 350.3h.8M401.2 336.8h.8M436.4 347.3h.8M413.6 345.3h.8M412.8 328.0h.8M437.4 356.6h.8M428.9 332.9h.8M413.7 359.6h.8M417.9 353.9h.8M427.4 333.7h.8M443.2 345.2h.8M424.1 342.5h.8M428.0 346.0h.8M413.3 352.1h.8M421.6 337.2h.8M417.3 325.7h.8M436.2 343.8h.8M423.8 342.5h.8M417.1 337.8h.8M417.4 346.8h.8M426.6 345.4h.8M436.7 335.2h.8M429.1 336.8h.8M407.1 358.1h.8M398.4 339.7h.8M414.9 338.0h.8M406.8 322.6h.8M413.8 323.2h.8M423.9 327.8h.8M398.7 324.6h.8M420.8 352.7h.8M410.7 335.3h.8M425.8 344.0h.8M438.2 320.7h.8M430.4 319.9h.8M422.9 329.2h.8M403.6 324.8h.8M417.9 361.3h.8M418.6 358.0h.8M401.9 330.3h.8M430.8 353.4h.8M398.5 331.8h.8M429.6 335.7h.8M415.8 346.8h.8M417.6 336.8h.8M417.9 360.7h.8M394.3 325.9h.8M425.8 337.5h.8M406.9 354.4h.8M420.7 336.5h.8M433.7 375.2h.8M425.4 331.3h.8M407.5 336.4h.8" stroke="#93a5c6" stroke-width="0.8" stroke-opacity="0.8" fill="none"/>
<path d="M381.3 368.3h.8M390.5 380.8h.8M393.6 373.1h.8M377.0 378.0h.8M393.3 377.4h.8M376.7 385.9h.8M376.6 379.8h.8M379.2 384.8h.8M381.5 385.6h.8M385.0 387.0h.8M392.3 379.8h.8M387.9 383.6h.8M381.9 388.0h.8M374.1 375.5h.8M379.4 365.9h.8M390.0 383.4h.8M392.6 376.3h.8M377.3 381.5h.8M388.9 384.8h.8M382.3 363.1h.8M377.3 375.7h.8M387.8 384.4h.8M393.2 371.6h.8M380.4 385.6h.8M381.5 386.8h.8M376.6 379.5h.8M385.1 387.0h.8M378.1 384.9h.8M397.1 370.2h.8M382.9 365.8h.8M385.5 386.2h.8M378.9 370.5h.8M391.4 370.3h.8M375.1 383.9h.8M376.4 385.3h.8M391.5 375.4h.8M377.4 382.7h.8M377.2 377.0h.8M388.0 383.3h.8M384.8 387.2h.8M385.4 387.2h.8M385.9 386.8h.8M375.7 381.9h.8M380.9 367.3h.8M376.3 376.4h.8M392.1 375.9h.8M377.5 385.8h.8M393.2 371.9h.8M374.9 383.3h.8M388.6 383.2h.8M378.2 369.1h.8M381.9 386.7h.8M377.3 387.2h.8M376.3 372.3h.8M377.1 371.7h.8M391.7 375.0h.8M379.3 388.2h.8M377.2 378.9h.8M374.7 373.7h.8M391.6 370.2h.8M389.8 337.3h.8M384.2 343.6h.8M387.9 339.0h.8M386.0 362.1h.8M386.5 357.9h.8M398.4 361.1h.8M391.6 338.7h.8M387.6 345.2h.8M387.0 339.8h.8M382.8 353.1h.8M396.4 334.4h.8M395.9 336.2h.8M386.5 388.1h.8M391.8 337.2h.8M384.8 342.0h.8M386.7 355.6h.8M387.7 342.0h.8M392.4 363.1h.8M380.5 365.7h.8M383.1 356.9h.8M380.0 355.4h.8M394.8 377.6h.8M385.2 347.7h.8M381.0 349.9h.8M390.1 346.4h.8M392.0 354.4h.8M398.2 354.9h.8M389.3 361.4h.8M396.9 361.7h.8M393.7 336.5h.8M385.4 358.8h.8M385.2 331.5h.8M380.1 337.2h.8M391.9 348.4h.8M398.7 349.6h.8M383.8 333.1h.8M393.8 354.7h.8M386.5 337.7h.8M383.4 334.6h.8M383.8 328.8h.8M389.4 335.9h.8M379.1 348.1h.8M379.0 360.1h.8M391.2 331.2h.8M377.8 349.6h.8M383.5 348.5h.8M382.2 336.3h.8M382.0 349.7h.8M381.3 361.1h.8M383.3 356.0h.8M393.6 364.7h.8M396.4 345.7h.8M389.6 352.0h.8M385.5 350.7h.8M391.0 342.1h.8M390.2 344.5h.8M379.9 335.4h.8M388.4 342.8h.8M385.6 360.9h.8M394.0 344.1h.8M392.7 355.0h.8M395.3 346.0h.8M394.1 336.1h.8M380.9 356.1h.8M384.2 330.0h.8M389.5 338.7h.8M388.8 341.8h.8M385.4 360.1h.8M392.0 332.0h.8M387.6 338.2h.8M394.8 346.5h.8M396.6 355.4h.8M385.4 358.8h.8M386.7 348.4h.8M388.6 351.8h.8M386.7 331.7h.8M395.4 332.9h.8M387.7 348.0h.8M387.7 357.2h.8M389.5 342.2h.8M393.1 336.5h.8M385.9 333.6h.8M389.7 359.9h.8M392.2 362.1h.8M392.1 344.4h.8M391.2 366.7h.8M394.0 349.2h.8M383.4 337.9h.8M386.0 358.7h.8M381.3 344.0h.8M382.0 363.0h.8M384.2 358.9h.8M386.6 329.3h.8M387.7 344.0h.8M389.2 333.4h.8M394.8 378.0h.8M382.3 347.5h.8M394.6 362.2h.8M385.7 363.0h.8M390.2 365.2h.8M387.6 360.3h.8M394.0 338.4h.8M392.4 346.9h.8M386.4 331.1h.8M395.6 343.7h.8M388.2 339.6h.8M391.1 331.9h.8M383.3 358.4h.8M400.7 351.0h.8M386.3 353.8h.8M387.2 346.1h.8M382.7 335.5h.8M384.1 349.0h.8M390.2 337.9h.8M384.2 362.5h.8M397.7 352.7h.8M390.4 343.4h.8M377.0 366.9h.8M388.3 346.5h.8M381.3 334.8h.8M385.7 356.0h.8M392.9 365.8h.8M391.7 380.2h.8M387.2 339.3h.8M386.8 348.6h.8M397.0 353.3h.8M395.0 335.5h.8M387.0 348.8h.8M379.3 348.4h.8M386.2 355.0h.8M382.9 354.9h.8M393.4 348.7h.8M381.7 343.1h.8M391.3 355.1h.8M377.8 355.3h.8M378.4 363.8h.8M394.6 371.7h.8M394.3 352.6h.8M389.4 331.7h.8M382.1 350.9h.8M389.5 358.6h.8M389.1 351.8h.8M378.0 361.1h.8M381.4 354.4h.8M382.7 337.8h.8M393.6 356.5h.8M391.5 353.2h.8M385.3 350.4h.8M390.3 346.2h.8M383.6 347.5h.8M380.1 352.0h.8M391.8 365.9h.8M389.7 351.2h.8M389.6 365.3h.8M388.3 353.7h.8M393.5 349.8h.8M384.5 345.6h.8M397.4 351.6h.8M385.6 336.7h.8M386.7 350.3h.8M385.7 332.6h.8M386.1 356.3h.8M384.8 341.1h.8M380.0 350.8h.8M387.9 359.0h.8M387.5 341.1h.8M392.5 342.8h.8M390.6 365.1h.8M383.5 349.1h.8M380.9 346.5h.8M399.8 349.5h.8M393.3 357.7h.8M379.6 365.5h.8M389.1 357.2h.8M395.3 353.0h.8M396.1 365.7h.8M390.3 366.1h.8M393.1 330.5h.8M377.0 379.4h.8M393.7 336.4h.8M387.5 333.3h.8M375.9 357.4h.8M376.6 361.7h.8M389.2 329.6h.8M388.7 348.3h.8M380.7 352.5h.8M384.6 339.0h.8M395.1 368.8h.8M391.8 351.2h.8M379.4 365.2h.8M380.9 358.6h.8M390.2 366.5h.8M387.3 330.0h.8M388.2 352.4h.8M379.6 349.1h.8M381.0 353.9h.8M380.5 350.7h.8M390.2 348.6h.8M389.2 387.1h.8M388.8 348.6h.8M396.6 362.3h.8M397.7 341.7h.8M392.7 361.3h.8M385.6 361.7h.8M399.8 352.5h.8M384.8 337.8h.8M374.4 370.7h.8M391.7 349.1h.8M387.9 355.8h.8M391.7 332.4h.8M375.1 377.8h.8M389.5 347.5h.8M377.4 373.8h.8M379.1 350.6h.8M386.5 346.7h.8M379.6 365.0h.8M392.6 340.7h.8M387.5 351.2h.8M387.1 355.4h.8M390.1 340.2h.8M392.9 337.3h.8M385.2 342.9h.8M393.2 353.4h.8M379.0 358.1h.8M388.3 342.7h.8M387.2 345.5h.8M388.7 361.4h.8M382.1 332.4h.8M396.3 356.7h.8M389.9 328.9h.8M386.8 331.2h.8M384.2 337.6h.8M387.7 356.5h.8M398.7 362.5h.8M380.1 349.8h.8M379.6 369.6h.8M383.5 344.0h.8M388.5 355.2h.8M394.9 339.2h.8M394.1 341.7h.8M382.2 387.4h.8M385.6 333.9h.8M382.9 353.4h.8M383.2 354.3h.8M388.6 384.6h.8M382.1 345.5h.8M393.2 373.0h.8M376.4 356.6h.8M399.0 365.0h.8M381.4 356.3h.8M378.9 357.7h.8M378.3 339.8h.8M394.6 344.8h.8M387.2 338.9h.8M387.2 360.0h.8M391.4 349.4h.8M389.1 353.3h.8M381.7 360.0h.8M391.3 335.5h.8M382.9 363.8h.8M393.2 359.1h.8M377.7 339.6h.8M382.4 345.7h.8M380.7 359.3h.8M394.0 354.0h.8M391.6 349.3h.8M387.3 352.5h.8M390.2 357.3h.8M394.3 340.6h.8M385.2 344.2h.8M389.3 348.2h.8M393.0 372.4h.8M394.2 358.2h.8M382.1 351.8h.8M396.4 368.9h.8M385.8 362.6h.8M380.7 354.9h.8M382.4 341.2h.8M377.9 340.0h.8M396.2 338.8h.8M383.9 358.2h.8M380.8 337.0h.8M388.9 344.8h.8M379.0 358.1h.8M392.8 332.3h.8M393.9 332.7h.8M386.3 358.9h.8M390.6 362.7h.8M385.9 328.8h.8M393.5 344.8h.8M399.6 347.9h.8M380.6 349.8h.8M389.4 355.0h.8M395.3 334.1h.8M381.3 360.0h.8M380.0 359.9h.8M378.2 365.4h.8M395.0 331.5h.8M381.7 344.0h.8M389.8 340.3h.8M391.7 352.9h.8M388.6 330.7h.8M380.6 358.3h.8M392.3 330.2h.8M377.8 339.0h.8M393.6 376.0h.8M377.7 356.3h.8M390.2 352.0h.8M387.4 351.8h.8M383.7 344.1h.8M384.9 353.5h.8M392.0 363.2h.8M391.0 346.3h.8M382.4 362.1h.8M393.2 375.5h.8M392.3 338.5h.8M383.5 329.4h.8M386.0 347.5h.8M399.6 350.0h.8M400.8 351.5h.8M396.1 349.7h.8M391.9 352.7h.8M385.2 348.5h.8M392.7 350.8h.8M384.1 353.9h.8M381.0 353.3h.8M387.5 334.3h.8M383.6 362.8h.8M385.6 334.0h.8M378.4 365.6h.8M382.7 366.3h.8M396.1 365.5h.8M392.3 342.3h.8M386.8 353.5h.8M398.7 348.4h.8M393.5 342.3h.8M384.7 354.7h.8M386.4 360.3h.8M384.3 352.4h.8M387.1 361.7h.8M389.2 334.8h.8M383.4 356.3h.8M384.0 352.2h.8M384.4 341.4h.8M383.6 342.5h.8M376.5 376.0h.8M384.2 338.7h.8M385.7 345.1h.8M377.3 363.8h.8M382.1 352.9h.8M381.7 355.4h.8M383.3 346.1h.8M386.5 352.0h.8M390.8 353.6h.8M390.4 351.3h.8M390.0 341.7h.8M392.6 360.9h.8M380.6 356.6h.8M393.5 339.4h.8M387.0 347.6h.8M386.7 349.1h.8M390.7 355.7h.8M385.7 348.1h.8M378.0 363.2h.8M399.0 351.7h.8M381.1 361.9h.8M389.0 363.0h.8M390.5 344.8h.8M379.6 352.8h.8M386.4 336.4h.8M388.7 346.3h.8M393.2 352.6h.8M395.1 329.8h.8M393.1 356.6h.8M393.0 346.9h.8M381.4 350.3h.8M388.3 338.5h.8M386.4 361.1h.8M385.4 341.4h.8M388.3 360.0h.8M380.6 341.4h.8M387.6 358.0h.8M391.0 358.9h.8M383.8 338.6h.8M391.6 348.1h.8M390.6 362.0h.8M392.4 332.6h.8M384.9 357.1h.8M396.5 336.5h.8M376.9 371.1h.8M388.3 356.2h.8M386.7 348.4h.8M381.7 345.0h.8M396.6 369.3h.8M394.0 358.4h.8M380.1 343.6h.8M392.9 366.1h.8M395.4 363.0h.8M396.2 360.3h.8M392.0 371.9h.8M393.4 329.6h.8M384.6 351.9h.8M393.0 373.1h.8M390.8 338.0h.8M398.9 355.2h.8M390.6 352.5h.8M386.1 335.7h.8M384.1 344.2h.8M382.9 360.9h.8M380.6 356.4h.8M385.0 362.8h.8M383.3 334.8h.8M391.3 367.8h.8M387.8 351.8h.8M394.9 340.4h.8M384.7 359.3h.8M381.9 354.6h.8M387.3 351.5h.8M393.0 355.7h.8M389.3 348.0h.8M385.3 355.3h.8M383.2 350.5h.8M390.5 334.7h.8M380.8 339.4h.8M396.1 360.5h.8M394.4 340.8h.8M394.8 335.9h.8M377.2 379.9h.8M400.2 349.5h.8M386.8 362.6h.8M381.3 336.4h.8M379.7 352.9h.8M392.4 344.4h.8M396.5 349.0h.8M393.8 329.6h.8M378.6 364.9h.8M388.8 352.3h.8M386.7 347.9h.8M383.4 351.1h.8M383.0 353.8h.8M381.4 365.4h.8M390.2 344.4h.8M385.3 358.7h.8M377.7 362.9h.8M393.2 328.9h.8M399.0 362.5h.8M393.2 342.5h.8M379.2 366.9h.8M377.7 367.6h.8M382.9 358.3h.8M384.6 361.7h.8M394.3 368.1h.8M383.0 351.8h.8M391.5 382.2h.8M384.5 390.0h.8M389.4 363.4h.8M389.8 364.5h.8M385.1 357.4h.8M376.8 367.8h.8M395.6 370.0h.8M384.2 357.3h.8M384.6 363.8h.8M390.9 364.5h.8M375.3 371.7h.8M384.7 387.3h.8M384.3 356.1h.8M394.7 358.1h.8M377.0 382.6h.8M377.4 369.4h.8M379.7 367.8h.8M379.1 364.2h.8M379.7 350.2h.8M388.4 360.6h.8M391.7 379.6h.8M389.7 380.9h.8M388.1 359.8h.8M389.5 362.1h.8M393.1 371.4h.8M380.7 367.1h.8M377.4 367.0h.8M393.6 376.9h.8M399.5 361.5h.8M376.1 357.3h.8M397.0 371.8h.8M383.6 364.2h.8M378.6 366.5h.8M396.4 373.6h.8M387.9 358.6h.8M385.3 358.1h.8M391.8 382.4h.8M374.9 376.9h.8M380.9 366.3h.8M374.1 379.4h.8M377.1 360.6h.8M380.3 363.5h.8M400.7 363.2h.8M379.8 356.0h.8M392.7 371.5h.8M397.0 369.4h.8M379.0 347.9h.8M380.0 388.3h.8M396.7 371.0h.8M391.9 370.2h.8M393.8 367.8h.8M381.7 354.5h.8M391.2 360.0h.8M387.7 386.2h.8M376.6 371.7h.8M377.2 383.9h.8M391.7 370.1h.8M389.9 383.7h.8M379.3 361.8h.8M390.7 357.1h.8M387.6 361.4h.8M392.4 367.5h.8M386.6 386.7h.8M376.2 376.1h.8M392.3 367.9h.8M382.3 364.0h.8M394.6 369.7h.8M377.1 356.2h.8M396.8 373.6h.8M392.1 364.8h.8M381.1 370.5h.8M393.4 367.5h.8M385.9 360.4h.8M379.2 366.7h.8M393.8 364.8h.8M382.6 366.8h.8M380.6 365.3h.8M396.4 371.1h.8M376.4 387.9h.8M389.6 383.5h.8M393.9 364.8h.8M389.6 383.2h.8M392.2 364.2h.8M377.6 360.4h.8M396.3 363.3h.8M388.9 359.4h.8M379.4 385.8h.8M376.8 366.5h.8M377.1 388.0h.8M394.3 359.7h.8M376.6 371.4h.8M378.9 388.3h.8M395.8 366.8h.8M385.4 386.7h.8M390.6 357.7h.8M392.7 373.8h.8M387.9 360.1h.8M387.6 360.0h.8M375.5 369.7h.8M377.0 370.3h.8M381.3 388.4h.8M381.6 387.5h.8M391.6 364.6h.8M378.5 362.8h.8M382.4 362.1h.8M378.5 388.2h.8M393.3 375.5h.8M396.7 367.4h.8M378.6 359.2h.8M380.9 367.4h.8M393.6 366.6h.8M395.3 358.2h.8M382.8 354.7h.8M393.1 344.6h.8M392.7 374.3h.8M389.5 381.1h.8M394.0 351.8h.8M381.7 333.6h.8M394.0 338.9h.8M392.1 336.8h.8M387.9 331.9h.8M390.2 347.9h.8M388.3 333.8h.8M421.0 341.8h.8M396.3 336.8h.8M394.4 333.1h.8M389.7 351.3h.8M394.6 354.1h.8M398.9 354.1h.8M391.1 352.9h.8M400.5 362.6h.8M422.2 338.7h.8M400.2 351.4h.8M389.4 341.6h.8M420.7 339.7h.8M422.1 341.8h.8M390.1 339.7h.8M421.0 341.8h.8M386.2 341.0h.8M388.8 329.8h.8M391.2 346.9h.8M396.4 359.9h.8M382.0 333.3h.8M396.7 345.0h.8M396.2 337.5h.8" stroke="#6482b4" stroke-width="0.8" stroke-opacity="0.8" fill="none"/>
<path d="M384.4 383.9h.8M379.3 382.5h.8M389.8 374.0h.8M379.0 372.9h.8M379.0 380.7h.8M387.4 383.4h.8M385.7 369.8h.8M384.2 385.5h.8M390.4 374.7h.8M377.7 382.9h.8M379.0 381.8h.8M390.0 373.8h.8M378.0 381.7h.8M380.7 371.6h.8M382.8 384.3h.8M391.0 369.2h.8M390.7 373.8h.8M385.4 382.7h.8M382.2 383.2h.8M381.0 383.2h.8M378.8 383.0h.8M379.1 382.9h.8M389.6 379.2h.8M379.1 383.6h.8M378.0 376.1h.8M383.6 367.6h.8M381.5 383.2h.8M385.1 382.6h.8M385.3 383.8h.8M378.0 375.8h.8M385.7 366.1h.8M389.5 370.5h.8M378.1 382.0h.8M382.3 385.4h.8M378.9 376.0h.8M379.4 380.8h.8M378.9 380.9h.8M380.4 372.4h.8M383.9 384.2h.8M387.2 369.3h.8M389.4 378.0h.8M384.5 382.8h.8M381.8 382.5h.8M388.1 366.3h.8M388.1 381.2h.8M385.7 382.6h.8M387.9 364.5h.8M385.4 368.5h.8M384.5 367.6h.8M389.2 370.0h.8M390.5 375.8h.8M385.4 370.3h.8M390.1 373.5h.8M385.6 384.3h.8M384.9 368.0h.8M384.2 386.3h.8M383.9 385.9h.8M386.2 383.9h.8M389.7 377.5h.8M386.0 384.1h.8M381.2 371.8h.8M382.8 384.7h.8M381.5 371.1h.8M378.1 381.6h.8M378.8 375.3h.8M386.2 367.0h.8M388.7 381.7h.8M378.3 375.2h.8M385.6 370.5h.8M389.4 378.4h.8M383.7 383.0h.8M390.5 376.7h.8M384.0 382.9h.8M389.8 374.5h.8M377.7 380.7h.8M385.9 369.6h.8M383.6 370.2h.8M378.6 382.9h.8M382.7 369.5h.8M386.2 383.7h.8M384.1 383.5h.8M385.9 370.0h.8M388.4 368.2h.8M382.9 369.8h.8M384.8 365.6h.8M385.2 369.1h.8M385.9 364.5h.8M383.0 367.1h.8M382.0 368.6h.8M390.3 371.5h.8M388.1 367.7h.8M387.7 365.9h.8M390.4 367.2h.8M386.4 369.2h.8M382.8 369.7h.8M387.4 366.4h.8M389.0 363.8h.8M384.1 365.3h.8M391.2 373.7h.8M386.4 368.6h.8M388.9 365.1h.8M387.2 366.1h.8M380.8 384.0h.8M388.0 368.4h.8M387.1 363.8h.8M387.4 367.3h.8M389.5 371.4h.8M391.3 372.5h.8M389.1 369.9h.8M388.0 370.6h.8M390.4 376.1h.8M383.7 384.9h.8M389.3 364.8h.8M390.6 370.2h.8M385.0 366.4h.8M381.6 367.1h.8M385.0 369.1h.8M387.3 366.2h.8M389.9 380.3h.8M386.7 365.1h.8M390.3 367.9h.8M386.8 366.7h.8M388.1 367.6h.8M380.8 371.6h.8M388.3 366.7h.8M386.5 365.7h.8M390.4 368.2h.8M380.4 383.4h.8M385.1 365.8h.8M384.1 385.3h.8M379.1 374.9h.8M381.6 382.6h.8M390.3 376.7h.8M381.1 372.9h.8M389.7 367.9h.8M386.4 370.0h.8M387.5 380.8h.8M386.7 367.2h.8M383.5 385.1h.8M379.6 372.5h.8M390.0 367.8h.8M381.9 385.9h.8M378.3 383.8h.8M388.1 365.2h.8M381.7 370.8h.8M387.0 369.5h.8M382.6 382.9h.8M379.5 374.9h.8M383.2 370.9h.8M389.8 369.4h.8M384.1 367.6h.8M388.0 381.3h.8M387.3 364.1h.8M386.6 363.5h.8M386.6 365.4h.8M388.8 369.6h.8M391.2 370.5h.8M382.2 368.2h.8M382.5 369.0h.8M379.6 382.3h.8M382.7 384.2h.8M391.1 379.4h.8M383.7 369.6h.8M390.8 367.9h.8M387.2 369.9h.8M386.5 382.6h.8M381.6 383.0h.8M383.4 386.0h.8M387.1 364.9h.8M384.2 368.1h.8M386.0 369.5h.8M391.1 371.9h.8M389.7 371.6h.8M387.9 380.9h.8M382.7 386.1h.8M379.7 383.6h.8M384.2 366.8h.8M383.1 383.0h.8M384.2 385.8h.8M391.1 379.5h.8M381.3 372.4h.8M377.8 383.1h.8M385.4 382.9h.8M388.2 365.8h.8" stroke="#4a929c" stroke-width="0.8" stroke-opacity="0.85" fill="none"/>
<path d="M377.9 378.5h.8M377.6 379.0h.8M383.1 372.4h.8M383.9 382.5h.8M388.9 371.6h.8M379.3 378.6h.8M387.8 377.1h.8M380.3 376.4h.8M387.8 377.6h.8M379.8 381.9h.8M382.1 380.7h.8M387.4 378.1h.8M385.6 372.0h.8M381.5 375.8h.8M378.8 379.3h.8M379.6 381.2h.8M389.3 372.9h.8M382.1 382.1h.8M383.0 380.7h.8M387.9 372.3h.8M384.7 372.7h.8M387.6 371.8h.8M379.7 382.4h.8M381.4 378.9h.8M381.1 375.5h.8M380.5 373.5h.8M387.3 371.6h.8M384.0 382.2h.8M380.2 382.4h.8M387.4 372.4h.8M387.4 371.2h.8M381.6 381.7h.8M382.1 381.0h.8M383.6 382.4h.8M383.8 381.8h.8M385.1 380.7h.8M388.0 380.3h.8M387.5 375.1h.8M388.7 372.9h.8M380.0 376.2h.8M379.9 380.5h.8M389.1 371.1h.8M389.3 372.8h.8M378.7 379.0h.8M381.0 375.7h.8M382.2 380.6h.8M382.0 372.6h.8M382.2 372.4h.8M385.4 371.6h.8M387.2 371.5h.8M386.2 381.9h.8M385.4 372.5h.8M386.0 371.2h.8M382.3 372.4h.8M380.6 376.3h.8M383.0 381.5h.8M388.9 375.4h.8M387.6 377.2h.8M381.3 374.0h.8M378.4 378.1h.8M387.8 376.5h.8M385.4 380.9h.8M383.7 381.5h.8M387.0 371.0h.8M383.2 371.1h.8M385.5 382.1h.8M388.4 375.3h.8M389.3 371.4h.8M379.2 379.0h.8M379.7 379.1h.8M388.0 371.9h.8M384.1 371.1h.8M379.9 378.8h.8M387.9 377.3h.8M380.1 380.1h.8M377.9 378.8h.8M378.4 376.8h.8M383.1 381.0h.8M387.2 371.5h.8M381.4 381.1h.8M387.2 372.8h.8M385.8 381.2h.8M380.2 373.6h.8M387.3 372.2h.8M388.6 377.5h.8M388.6 375.7h.8M387.9 378.4h.8M388.5 377.0h.8M381.5 380.1h.8M384.1 371.0h.8M382.6 380.7h.8M380.5 376.6h.8M388.5 379.2h.8M382.1 381.0h.8M386.4 382.4h.8M379.1 379.3h.8M383.0 382.0h.8M381.3 372.9h.8M387.3 380.6h.8M379.6 376.7h.8M388.0 372.4h.8M383.5 381.1h.8M379.5 378.3h.8M380.6 379.9h.8M387.7 376.6h.8M388.0 378.7h.8M387.7 378.5h.8M378.4 380.4h.8M382.5 381.7h.8M388.9 376.6h.8M386.4 380.7h.8M388.8 376.5h.8M382.8 381.9h.8M387.6 379.3h.8M379.9 381.2h.8M388.2 379.6h.8M387.5 375.0h.8M381.5 381.9h.8M388.0 375.9h.8M382.1 372.2h.8M387.8 376.7h.8M382.1 382.4h.8M388.4 376.3h.8M383.1 372.0h.8M387.5 376.7h.8M380.1 381.7h.8M387.7 371.3h.8M385.9 381.0h.8M384.0 371.5h.8M380.3 375.4h.8M386.0 371.6h.8M388.2 375.6h.8M388.5 377.0h.8M380.6 373.1h.8M380.5 379.7h.8M386.1 371.7h.8M378.2 379.7h.8M388.5 373.6h.8M389.0 374.0h.8M380.6 373.3h.8M388.1 380.0h.8M387.3 382.5h.8M380.7 378.7h.8M381.1 375.3h.8M380.4 373.2h.8M379.4 377.6h.8M380.3 375.3h.8M377.9 380.2h.8M388.8 371.5h.8M378.6 379.1h.8M387.7 377.3h.8M387.6 378.8h.8M389.2 378.8h.8M386.0 381.6h.8M385.2 371.4h.8M380.6 380.0h.8M384.0 371.0h.8M379.8 373.7h.8M384.6 371.5h.8M380.9 379.3h.8M379.8 373.7h.8M389.1 378.6h.8M387.0 381.8h.8M386.3 372.1h.8M379.6 373.3h.8M388.0 377.5h.8M380.0 374.6h.8M388.2 372.3h.8M379.9 380.5h.8M387.7 380.2h.8M388.5 372.3h.8M383.8 371.4h.8M386.8 371.3h.8M384.2 372.8h.8M387.7 377.9h.8M388.5 374.6h.8M380.9 376.1h.8M380.2 374.3h.8" stroke="#6aac50" stroke-width="0.8" stroke-opacity="0.9" fill="none"/>
<path d="M382.0 379.6h.8M382.3 379.2h.8M381.7 380.3h.8M380.2 378.7h.8M383.0 373.7h.8M382.7 373.1h.8M385.0 373.2h.8M381.8 374.1h.8M387.3 374.7h.8M382.5 374.2h.8M386.3 379.4h.8M384.2 374.1h.8M384.1 374.5h.8M384.0 373.5h.8M387.2 374.4h.8M382.7 374.7h.8M381.5 377.4h.8M385.7 378.8h.8M386.6 379.2h.8M386.0 374.0h.8M385.6 378.8h.8M386.3 372.9h.8M383.2 373.1h.8M382.0 378.8h.8M386.1 379.5h.8M380.1 377.9h.8M386.2 380.5h.8M381.6 374.6h.8M387.4 373.1h.8M386.1 379.3h.8M380.5 376.8h.8M384.7 374.7h.8M383.1 373.6h.8M385.2 374.5h.8M380.4 378.4h.8M381.9 379.0h.8M384.3 373.3h.8M382.5 379.4h.8M383.6 374.2h.8M386.0 379.1h.8M380.5 377.2h.8M387.2 374.8h.8M383.3 373.1h.8M386.1 373.6h.8M379.8 378.5h.8M380.4 378.6h.8M383.0 373.6h.8M385.7 380.5h.8M386.4 373.7h.8M382.7 374.2h.8M385.7 379.4h.8M380.2 378.2h.8M379.9 377.0h.8M385.6 379.6h.8M386.7 379.0h.8M382.9 380.5h.8M380.9 378.2h.8M384.0 374.6h.8M380.7 377.9h.8M383.4 380.0h.8M386.1 380.5h.8M386.9 374.5h.8M382.6 374.2h.8M382.0 374.5h.8M383.2 373.2h.8M383.7 373.0h.8M387.2 372.9h.8M381.1 376.9h.8M385.8 374.3h.8M386.3 373.3h.8M380.8 377.8h.8M381.1 378.4h.8M387.3 372.9h.8M385.0 373.3h.8M379.7 378.4h.8M380.0 377.1h.8M386.1 379.2h.8M383.5 379.7h.8M386.7 374.5h.8" stroke="#b9b93c" stroke-width="0.8" stroke-opacity="0.95" fill="none"/>
<path d="M384.6 379.0h.8M383.2 375.5h.8M386.1 378.3h.8M382.8 378.0h.8M387.1 375.7h.8M385.6 375.8h.8M382.5 376.5h.8M384.8 378.8h.8M384.4 380.5h.8M385.9 376.2h.8M383.0 377.6h.8M386.5 375.6h.8M385.4 378.8h.8M383.5 380.0h.8M383.9 379.7h.8M384.6 380.0h.8M385.8 377.5h.8M387.2 378.3h.8M382.8 375.6h.8M383.0 375.8h.8M386.1 378.4h.8M385.5 377.4h.8M382.4 376.1h.8M383.1 377.2h.8M382.9 376.2h.8M383.1 378.3h.8M383.4 377.2h.8M382.4 376.8h.8M382.9 375.7h.8M386.7 376.8h.8M382.4 378.3h.8M383.1 376.8h.8M383.0 375.8h.8M386.9 375.5h.8M386.1 375.0h.8M383.7 378.8h.8M381.9 378.2h.8M386.7 374.8h.8M382.1 377.6h.8M382.9 377.7h.8M385.7 374.9h.8M384.4 380.2h.8M387.2 376.8h.8M382.8 377.7h.8M385.4 379.5h.8M385.5 376.4h.8M386.3 377.7h.8M387.0 378.5h.8M385.4 379.5h.8M383.9 378.9h.8M385.8 376.2h.8M386.4 376.8h.8M387.1 376.4h.8M382.9 378.3h.8M381.8 375.5h.8M386.2 378.6h.8M384.1 379.2h.8M385.4 379.2h.8M384.1 379.8h.8M385.5 377.8h.8M382.4 376.2h.8M381.9 375.0h.8M382.3 378.6h.8M382.7 376.2h.8M386.0 378.6h.8M385.4 376.7h.8M385.7 376.7h.8M383.2 376.8h.8M382.4 376.0h.8M386.4 376.4h.8M385.7 377.7h.8M381.7 374.9h.8M385.7 378.0h.8" stroke="#e0952c" stroke-width="0.8" stroke-opacity="1" fill="none"/>
<path d="M384.0 376.1h.8M385.2 377.2h.8M384.2 375.2h.8M384.0 378.0h.8M384.2 376.1h.8M384.0 375.7h.8M384.0 376.6h.8M383.9 375.7h.8M383.5 375.2h.8M383.7 378.5h.8M384.6 377.2h.8M385.0 375.2h.8M384.5 378.3h.8M384.5 376.6h.8M384.7 377.6h.8M383.6 378.5h.8M384.9 375.9h.8M383.9 377.9h.8M383.9 378.6h.8M385.2 377.1h.8M385.1 378.4h.8M384.5 375.0h.8M383.5 377.4h.8M384.8 377.3h.8M383.8 377.9h.8M383.9 377.2h.8M384.9 378.2h.8M385.0 376.9h.8M384.4 375.6h.8M384.6 377.7h.8M383.7 377.4h.8M384.7 376.7h.8M385.2 377.7h.8M384.8 375.9h.8M383.6 375.7h.8M385.0 375.0h.8M383.6 375.4h.8M384.8 378.0h.8M383.5 375.0h.8" stroke="#e0652a" stroke-width="0.8" stroke-opacity="1" fill="none"/>
<rect x="365.9" y="316.9" width="78.1" height="77.2" fill="none" stroke="#6a6a6a" stroke-width="0.8"/>
<line x1="397.8" y1="316.9" x2="397.8" y2="394.1" stroke="#4a4a4a" stroke-width="0.95"/>
<line x1="365.9" y1="366.1" x2="444.0" y2="366.1" stroke="#4a4a4a" stroke-width="0.95"/>
<text x="367.9" y="325.5" font-size="5.7" fill="#231f20" stroke="#231f20" stroke-width="0.18">25.3</text>
<text x="437.0" y="325.5" font-size="5.7" text-anchor="end" fill="#231f20" stroke="#231f20" stroke-width="0.18">11.1</text>
<text x="367.9" y="388.5" font-size="5.7" fill="#231f20" stroke="#231f20" stroke-width="0.18">60.2</text>
<text x="437.5" y="388.5" font-size="5.7" text-anchor="end" fill="#231f20" stroke="#231f20" stroke-width="0.18">3.36</text>
<text x="362.29999999999995" y="326.0" font-size="5.4" text-anchor="end" fill="#231f20" stroke="#231f20" stroke-width="0.18">10<tspan font-size="4.6" dy="-3.3">4</tspan></text>
<line x1="364.3" y1="318.3" x2="365.9" y2="318.3" stroke="#555" stroke-width="0.7"/>
<text x="362.29999999999995" y="340.1" font-size="5.4" text-anchor="end" fill="#231f20" stroke="#231f20" stroke-width="0.18">10<tspan font-size="4.6" dy="-3.3">3</tspan></text>
<line x1="364.3" y1="334.8" x2="365.9" y2="334.8" stroke="#555" stroke-width="0.7"/>
<text x="362.29999999999995" y="358.6" font-size="5.4" text-anchor="end" fill="#231f20" stroke="#231f20" stroke-width="0.18">10<tspan font-size="4.6" dy="-3.3">2</tspan></text>
<line x1="364.3" y1="353.3" x2="365.9" y2="353.3" stroke="#555" stroke-width="0.7"/>
<text x="362.29999999999995" y="379.3" font-size="5.4" text-anchor="end" fill="#231f20" stroke="#231f20" stroke-width="0.18">10<tspan font-size="4.6" dy="-3.3">1</tspan></text>
<line x1="364.3" y1="372.8" x2="365.9" y2="372.8" stroke="#555" stroke-width="0.7"/>
<text x="362.29999999999995" y="393.3" font-size="5.4" text-anchor="end" fill="#231f20" stroke="#231f20" stroke-width="0.18">10<tspan font-size="4.6" dy="-3.3">0</tspan></text>
<line x1="364.3" y1="394.3" x2="365.9" y2="394.3" stroke="#555" stroke-width="0.7"/>
<text x="372.1" y="404.5" font-size="5.4" text-anchor="middle" fill="#231f20" stroke="#231f20" stroke-width="0.18">10<tspan font-size="4.6" dy="-3.5">0</tspan></text>
<text x="389.3" y="404.5" font-size="5.4" text-anchor="middle" fill="#231f20" stroke="#231f20" stroke-width="0.18">10<tspan font-size="4.6" dy="-3.5">1</tspan></text>
<text x="408.1" y="404.5" font-size="5.4" text-anchor="middle" fill="#231f20" stroke="#231f20" stroke-width="0.18">10<tspan font-size="4.6" dy="-3.5">2</tspan></text>
<text x="426.9" y="404.5" font-size="5.4" text-anchor="middle" fill="#231f20" stroke="#231f20" stroke-width="0.18">10<tspan font-size="4.6" dy="-3.5">3</tspan></text>
<text x="439.5" y="404.5" font-size="5.4" text-anchor="middle" fill="#231f20" stroke="#231f20" stroke-width="0.18">10<tspan font-size="4.6" dy="-3.5">4</tspan></text>
<line x1="366.5" y1="394.1" x2="366.5" y2="395.7" stroke="#555" stroke-width="0.7"/>
<line x1="375.9" y1="394.1" x2="375.9" y2="395.7" stroke="#555" stroke-width="0.7"/>
<line x1="386.2" y1="394.1" x2="386.2" y2="395.7" stroke="#555" stroke-width="0.7"/>
<line x1="396.0" y1="394.1" x2="396.0" y2="395.7" stroke="#555" stroke-width="0.7"/>
<line x1="414.0" y1="394.1" x2="414.0" y2="395.7" stroke="#555" stroke-width="0.7"/>
<line x1="425.5" y1="394.1" x2="425.5" y2="395.7" stroke="#555" stroke-width="0.7"/>
<line x1="433.6" y1="394.1" x2="433.6" y2="395.7" stroke="#555" stroke-width="0.7"/>
<line x1="443.5" y1="394.1" x2="443.5" y2="395.7" stroke="#555" stroke-width="0.7"/>
<path d="M374.9 472.0h.8M378.9 480.8h.8M389.3 482.9h.8M390.5 483.2h.8M391.7 478.5h.8M377.9 441.0h.8M382.9 431.5h.8M397.0 420.7h.8M378.4 448.9h.8M381.7 427.1h.8M402.8 452.0h.8M394.5 424.2h.8M376.0 420.4h.8M379.0 438.3h.8M399.3 426.7h.8M376.9 427.7h.8M381.4 416.9h.8M382.3 429.1h.8M407.3 444.1h.8M394.6 426.8h.8M385.6 482.9h.8M396.3 422.7h.8M398.1 421.3h.8M379.2 420.0h.8M385.6 419.2h.8M391.9 424.0h.8M403.7 432.8h.8M389.6 422.8h.8M401.9 423.8h.8M373.2 456.6h.8M402.0 452.8h.8M403.6 429.3h.8M375.7 444.1h.8M383.2 428.9h.8M398.7 423.4h.8M405.3 443.8h.8M404.2 429.2h.8M378.1 420.7h.8M400.4 478.1h.8M395.8 418.4h.8M382.0 421.9h.8M404.1 450.8h.8M383.6 423.4h.8M398.0 413.3h.8M385.2 483.5h.8M386.6 423.4h.8M390.4 416.9h.8M379.8 429.7h.8M395.1 480.8h.8M397.2 412.4h.8M374.4 470.3h.8M370.8 427.6h.8M395.3 421.5h.8M380.5 426.7h.8M382.4 417.9h.8M401.5 461.9h.8M379.2 450.4h.8M379.5 448.4h.8M374.2 466.5h.8M375.5 426.4h.8M391.7 478.8h.8M406.6 455.1h.8M384.5 421.3h.8M395.8 419.1h.8M404.1 435.5h.8M402.4 460.8h.8M396.6 421.2h.8M404.0 456.5h.8M402.2 451.8h.8M377.5 457.1h.8M411.5 416.0h.8M403.4 445.6h.8M379.2 440.7h.8M403.0 420.3h.8M401.0 414.9h.8M381.5 421.4h.8M404.0 461.6h.8M391.0 421.9h.8M379.9 435.2h.8M398.3 417.2h.8M391.7 422.2h.8M373.9 443.6h.8M390.0 423.2h.8M379.3 438.1h.8M398.5 414.0h.8M394.6 418.3h.8M411.0 451.6h.8M401.4 457.3h.8M377.4 481.5h.8M381.5 430.5h.8M388.4 416.4h.8M386.9 421.2h.8M404.8 447.9h.8M402.1 427.6h.8M388.5 418.8h.8M408.0 456.9h.8M407.2 462.5h.8M397.0 421.4h.8M392.7 422.6h.8M401.5 432.6h.8M400.6 420.8h.8M379.1 422.4h.8M390.6 418.1h.8M383.8 427.5h.8M376.8 444.3h.8M404.9 430.9h.8M377.2 445.7h.8M377.8 441.3h.8M387.1 421.2h.8M403.7 447.4h.8M401.9 451.9h.8M375.9 456.0h.8M390.2 412.4h.8M386.0 482.3h.8M403.7 464.2h.8M395.8 483.8h.8M401.6 476.4h.8M394.2 485.8h.8M399.6 467.1h.8M397.4 475.9h.8M375.3 454.8h.8M376.0 478.3h.8M379.1 451.8h.8M400.2 465.7h.8M377.5 486.5h.8M388.3 485.5h.8M375.1 468.0h.8M367.4 475.6h.8M398.3 472.0h.8M376.7 456.2h.8M372.2 461.8h.8M374.8 458.2h.8M371.8 448.2h.8M399.2 474.5h.8M406.1 455.9h.8M382.3 481.5h.8M399.8 458.8h.8M378.3 486.2h.8M400.8 470.0h.8M401.1 482.2h.8M375.9 439.9h.8M370.0 474.1h.8M397.6 472.9h.8M379.1 435.1h.8M379.0 437.9h.8M401.0 471.1h.8M375.6 474.5h.8M402.4 464.5h.8M401.0 464.8h.8M391.1 485.1h.8M375.5 463.3h.8M374.7 464.2h.8M379.8 478.4h.8M373.0 473.3h.8M401.6 456.3h.8M376.7 439.6h.8M404.5 465.2h.8M402.3 462.6h.8M369.5 478.9h.8M385.6 481.3h.8M378.0 452.4h.8M386.1 483.1h.8M380.8 484.4h.8M379.7 450.9h.8M375.3 456.1h.8M398.0 476.1h.8M403.1 475.5h.8M401.7 464.1h.8M381.3 482.4h.8M375.8 471.9h.8M399.4 482.3h.8M416.9 442.2h.8M423.4 421.0h.8M406.7 427.2h.8M406.9 453.4h.8M410.4 415.4h.8M419.6 449.0h.8M424.2 426.9h.8M425.4 448.7h.8M432.6 442.7h.8M425.4 456.3h.8M430.3 435.3h.8M439.9 438.7h.8M422.2 421.5h.8M403.7 426.5h.8M410.1 432.5h.8M421.0 449.9h.8M418.5 443.4h.8M420.2 433.4h.8M416.4 429.4h.8M426.0 447.9h.8M434.6 432.5h.8M414.8 418.5h.8M423.0 452.0h.8M410.6 441.6h.8M407.6 442.1h.8M431.8 421.4h.8M420.0 429.1h.8M438.5 424.7h.8M416.4 440.7h.8M425.6 454.8h.8M403.5 412.1h.8M425.5 431.3h.8M408.8 435.5h.8M405.4 428.4h.8M424.4 434.3h.8M396.9 424.3h.8M438.7 428.3h.8M408.1 440.4h.8M412.8 450.4h.8M418.4 443.3h.8M438.7 434.3h.8M422.5 432.7h.8M411.4 458.3h.8M428.1 427.8h.8M417.7 421.7h.8M420.5 429.9h.8M434.3 420.6h.8M395.0 427.1h.8M403.3 447.5h.8M420.6 437.2h.8M427.4 433.3h.8M411.8 438.1h.8M406.1 430.2h.8M436.5 435.6h.8M416.0 431.6h.8M413.7 421.3h.8M440.6 419.7h.8M421.0 438.5h.8M420.2 440.3h.8M419.3 428.0h.8M415.3 454.3h.8M406.6 446.1h.8M437.9 451.6h.8M404.2 426.6h.8M406.5 425.6h.8M426.3 449.7h.8M399.1 421.6h.8M430.4 444.0h.8M418.5 427.6h.8M403.9 454.7h.8M419.6 433.5h.8M427.0 443.4h.8M418.5 417.2h.8M421.2 441.8h.8M440.8 436.4h.8M433.2 412.9h.8M422.2 420.0h.8M414.4 441.0h.8M427.1 411.4h.8M412.4 440.6h.8M407.1 436.8h.8M430.4 440.3h.8M438.5 435.0h.8M427.1 435.5h.8M401.4 428.8h.8M430.1 424.5h.8M425.2 443.0h.8M442.1 438.4h.8M404.4 436.5h.8M433.0 448.2h.8M423.1 446.7h.8M417.4 421.8h.8M433.4 443.6h.8M421.8 428.1h.8M409.6 439.9h.8M418.2 430.0h.8M410.6 436.4h.8M436.4 427.6h.8M434.7 433.3h.8M408.9 431.8h.8M439.9 428.6h.8M407.6 445.5h.8M437.5 427.2h.8M441.5 438.0h.8M436.4 435.1h.8M416.0 444.7h.8M412.5 423.9h.8M407.9 429.5h.8M408.5 455.6h.8M429.3 441.2h.8M418.3 414.4h.8M419.6 420.4h.8M415.3 450.9h.8M429.7 438.9h.8M412.7 438.2h.8M430.8 436.6h.8M419.8 432.5h.8M438.8 417.5h.8M420.9 452.2h.8M439.6 425.2h.8M415.1 418.5h.8M423.3 437.8h.8M376.2 416.0h.8M400.5 426.7h.8M411.0 434.0h.8M419.0 426.5h.8M422.8 444.9h.8M421.3 448.2h.8M419.7 450.1h.8M440.7 423.7h.8M439.2 427.9h.8M418.5 425.8h.8M401.7 434.6h.8M405.9 417.9h.8M425.0 440.4h.8M419.1 422.3h.8M417.8 431.5h.8M427.3 434.3h.8M409.0 440.7h.8M402.8 455.3h.8M429.6 436.2h.8M438.6 436.8h.8M414.8 436.1h.8M411.0 450.6h.8M427.6 436.8h.8M417.9 429.6h.8M429.7 430.9h.8M429.9 423.5h.8M411.0 421.8h.8M420.9 446.7h.8M430.3 440.2h.8M436.8 451.9h.8M413.7 438.1h.8M413.3 416.3h.8M420.1 444.5h.8M422.8 441.5h.8M408.1 434.6h.8M422.4 457.4h.8M418.0 451.3h.8M382.2 428.7h.8M417.1 426.7h.8M388.2 411.8h.8M440.6 446.0h.8M424.8 438.5h.8M429.9 430.3h.8M421.1 431.3h.8M408.0 445.2h.8M412.4 425.8h.8M414.5 432.1h.8M403.3 432.3h.8M429.3 433.0h.8M404.4 413.6h.8M429.1 443.8h.8M434.4 436.4h.8M428.6 435.5h.8M422.9 439.5h.8M431.5 418.1h.8M408.1 427.1h.8M408.5 423.4h.8M408.4 424.8h.8M410.2 414.4h.8M417.7 440.5h.8M429.7 439.6h.8M419.2 455.0h.8M435.4 419.6h.8M432.6 414.4h.8M428.6 411.4h.8M436.4 421.4h.8M423.3 447.8h.8M429.9 428.7h.8M437.3 448.2h.8M418.9 451.2h.8M424.2 452.7h.8M420.3 425.4h.8M426.6 416.0h.8M412.8 428.9h.8M430.4 435.5h.8M414.4 427.0h.8M422.6 435.2h.8M415.1 433.1h.8M422.3 426.0h.8M412.5 419.7h.8M433.5 440.9h.8M407.7 437.2h.8M422.3 445.2h.8M426.0 417.8h.8M433.2 445.9h.8M396.6 416.5h.8M408.5 422.9h.8M422.3 431.8h.8M424.3 447.2h.8M418.7 437.4h.8M437.7 444.4h.8M420.6 421.0h.8M419.2 436.1h.8M415.8 452.2h.8M413.4 432.3h.8M405.7 437.9h.8M406.3 428.5h.8M406.6 434.1h.8M418.7 451.8h.8M417.1 451.9h.8M417.4 453.2h.8M421.2 418.6h.8M420.3 437.8h.8M427.0 428.8h.8M436.6 445.7h.8M439.4 431.3h.8M439.7 428.4h.8M418.4 415.6h.8M408.2 435.3h.8M404.9 420.0h.8M435.3 412.0h.8M402.1 429.8h.8M405.3 424.2h.8M412.2 452.1h.8M432.5 430.7h.8M431.3 431.4h.8M420.2 459.2h.8M428.7 427.2h.8M408.9 426.3h.8M421.9 447.5h.8M432.3 443.8h.8M440.6 419.7h.8M426.1 442.3h.8M422.3 428.1h.8M406.1 434.8h.8M411.1 443.9h.8M416.1 442.0h.8M441.1 446.2h.8M409.6 424.1h.8M414.9 427.8h.8M409.6 421.8h.8M434.9 423.7h.8" stroke="#93a5c6" stroke-width="0.8" stroke-opacity="0.8" fill="none"/>
<path d="M381.6 476.7h.8M395.5 474.1h.8M389.0 479.1h.8M378.3 474.2h.8M379.4 471.6h.8M395.3 471.7h.8M379.5 475.5h.8M380.7 462.8h.8M376.5 476.2h.8M378.5 459.8h.8M379.0 474.9h.8M394.9 459.6h.8M397.3 463.7h.8M381.6 476.8h.8M382.1 479.7h.8M392.8 475.3h.8M377.9 477.4h.8M379.3 471.6h.8M389.3 477.9h.8M395.6 466.5h.8M381.3 478.9h.8M379.2 467.5h.8M379.8 476.8h.8M391.6 474.8h.8M396.5 464.5h.8M395.5 465.2h.8M378.9 468.0h.8M383.0 456.3h.8M392.1 457.7h.8M396.2 465.6h.8M396.6 468.4h.8M394.9 471.0h.8M388.5 478.5h.8M396.2 464.4h.8M379.5 464.3h.8M379.7 476.5h.8M391.5 474.8h.8M386.0 444.0h.8M388.0 450.8h.8M390.9 427.3h.8M380.3 459.4h.8M393.6 449.2h.8M382.5 448.1h.8M387.9 438.4h.8M378.7 458.8h.8M396.7 436.8h.8M384.9 443.7h.8M389.3 449.5h.8M386.5 426.8h.8M392.1 445.9h.8M387.4 452.2h.8M395.9 461.2h.8M382.2 437.3h.8M380.4 443.8h.8M395.0 441.7h.8M390.1 449.0h.8M390.9 436.3h.8M389.0 437.0h.8M379.9 444.4h.8M399.8 441.1h.8M392.0 453.5h.8M379.9 446.3h.8M390.9 428.5h.8M386.7 432.3h.8M383.2 433.4h.8M388.8 426.4h.8M386.8 443.6h.8M398.4 450.7h.8M382.5 446.2h.8M390.5 445.9h.8M396.9 426.0h.8M381.8 434.4h.8M395.8 468.7h.8M396.6 449.3h.8M382.0 435.8h.8M401.7 449.7h.8M396.9 456.8h.8M384.0 444.3h.8M383.0 452.8h.8M383.0 433.4h.8M394.0 432.1h.8M386.7 434.9h.8M394.6 456.6h.8M378.2 441.7h.8M395.4 448.9h.8M380.0 447.9h.8M385.5 436.3h.8M388.7 453.1h.8M384.6 454.8h.8M380.4 448.0h.8M395.7 438.8h.8M395.3 433.9h.8M388.6 444.7h.8M394.7 436.6h.8M385.1 435.0h.8M392.3 439.5h.8M380.6 435.9h.8M393.9 454.7h.8M388.7 452.0h.8M392.5 455.9h.8M378.4 464.7h.8M392.7 458.5h.8M388.7 481.7h.8M396.2 427.2h.8M390.1 441.8h.8M404.1 441.4h.8M385.4 432.0h.8M387.4 447.4h.8M382.0 444.8h.8M395.5 457.1h.8M388.1 443.0h.8M394.2 453.2h.8M387.2 432.3h.8M404.9 444.6h.8M392.2 442.1h.8M394.6 434.6h.8M388.6 444.4h.8M392.8 441.0h.8M389.0 448.4h.8M401.2 442.2h.8M380.3 476.9h.8M385.0 436.2h.8M393.6 460.5h.8M396.0 451.7h.8M391.3 427.4h.8M393.8 439.7h.8M384.8 443.4h.8M390.7 428.0h.8M396.0 434.5h.8M395.4 429.5h.8M386.7 445.8h.8M383.3 458.0h.8M388.0 451.8h.8M377.9 443.1h.8M393.9 458.7h.8M389.2 427.7h.8M396.1 460.9h.8M393.3 431.8h.8M395.5 428.4h.8M394.9 447.1h.8M397.7 452.5h.8M394.7 448.6h.8M393.5 441.3h.8M396.0 458.5h.8M389.0 445.6h.8M392.8 456.5h.8M385.3 451.6h.8M388.3 425.9h.8M398.9 438.9h.8M395.4 438.8h.8M383.3 458.8h.8M397.0 465.4h.8M393.5 443.5h.8M395.0 430.8h.8M395.0 450.3h.8M388.5 440.4h.8M380.1 451.1h.8M396.2 433.8h.8M390.1 436.1h.8M386.1 431.3h.8M397.3 460.0h.8M382.5 459.9h.8M387.8 431.1h.8M388.2 431.7h.8M382.0 451.0h.8M395.4 441.1h.8M397.9 465.6h.8M391.8 446.5h.8M391.6 435.5h.8M393.1 433.0h.8M398.5 448.9h.8M395.1 450.5h.8M384.0 434.1h.8M395.5 442.9h.8M397.9 450.2h.8M397.7 442.0h.8M386.5 428.4h.8M395.5 442.6h.8M395.4 446.1h.8M393.3 458.7h.8M388.7 428.4h.8M395.7 449.0h.8M394.2 450.4h.8M399.6 435.7h.8M389.1 435.1h.8M384.6 438.3h.8M386.4 441.9h.8M391.8 431.9h.8M397.4 442.2h.8M387.4 436.6h.8M386.4 446.3h.8M399.9 434.9h.8M395.5 454.3h.8M381.4 458.2h.8M392.7 458.6h.8M402.0 445.3h.8M388.5 442.8h.8M382.2 439.0h.8M389.1 445.8h.8M384.8 448.8h.8M398.9 467.5h.8M393.6 432.5h.8M385.2 450.8h.8M394.6 447.6h.8M390.6 442.3h.8M386.8 434.5h.8M401.9 447.3h.8M389.9 456.2h.8M397.0 451.9h.8M392.3 444.6h.8M387.9 439.3h.8M394.8 440.0h.8M388.3 442.8h.8M394.3 436.3h.8M393.0 430.9h.8M385.5 432.6h.8M392.6 431.9h.8M397.1 431.2h.8M397.9 433.1h.8M388.4 442.5h.8M395.1 450.8h.8M392.0 431.4h.8M388.4 432.6h.8M388.8 452.8h.8M387.0 448.6h.8M384.9 456.8h.8M390.0 448.0h.8M395.2 454.0h.8M393.5 455.9h.8M396.1 430.4h.8M389.2 449.0h.8M396.1 445.4h.8M386.3 449.0h.8M382.6 459.9h.8M390.6 436.5h.8M399.6 439.7h.8M385.1 437.5h.8M396.0 433.0h.8M397.3 442.2h.8M396.6 451.3h.8M382.6 448.2h.8M389.6 442.6h.8M386.0 453.5h.8M396.2 439.3h.8M388.9 426.6h.8M389.2 445.5h.8M399.8 435.9h.8M388.6 429.3h.8M389.6 447.1h.8M382.9 453.2h.8M383.7 436.4h.8M389.0 439.8h.8M394.9 440.3h.8M396.5 437.9h.8M396.1 434.3h.8M379.0 446.3h.8M387.1 479.1h.8M386.6 432.3h.8M393.4 436.6h.8M393.3 444.3h.8M392.7 442.0h.8M399.1 452.5h.8M380.2 461.5h.8M394.9 445.2h.8M392.3 444.6h.8M389.6 455.7h.8M395.1 451.6h.8M396.8 428.3h.8M386.4 440.2h.8M383.4 457.4h.8M393.8 441.0h.8M386.1 448.3h.8M380.6 441.0h.8M390.8 439.9h.8M392.7 444.0h.8M381.0 438.9h.8M392.3 444.3h.8M387.8 440.1h.8M384.3 451.3h.8M386.6 444.4h.8M389.6 434.8h.8M389.3 440.9h.8M395.0 475.2h.8M387.4 437.0h.8M392.7 428.9h.8M392.4 438.7h.8M389.3 442.1h.8M390.1 436.5h.8M402.7 441.6h.8M399.2 429.4h.8M389.0 427.6h.8M397.4 431.3h.8M387.6 433.7h.8M384.3 455.8h.8M382.4 455.3h.8M395.6 464.8h.8M378.9 444.7h.8M389.6 453.4h.8M392.9 457.6h.8M392.0 453.3h.8M391.5 435.1h.8M393.9 450.0h.8M400.4 430.1h.8M381.1 436.8h.8M404.6 439.5h.8M390.0 443.0h.8M388.3 479.1h.8M393.3 434.0h.8M398.4 435.4h.8M395.3 435.8h.8M378.1 453.8h.8M387.9 447.0h.8M396.0 440.1h.8M382.0 443.8h.8M396.6 440.7h.8M395.4 461.1h.8M386.6 454.5h.8M396.4 430.0h.8M403.4 439.7h.8M398.6 432.8h.8M402.4 441.0h.8M389.1 427.1h.8M392.6 442.3h.8M394.0 435.9h.8M394.4 455.4h.8M389.4 435.2h.8M394.2 478.1h.8M382.3 458.5h.8M379.6 462.8h.8M381.9 446.0h.8M379.0 471.4h.8M379.0 455.7h.8M399.4 431.1h.8M388.0 439.3h.8M388.2 437.8h.8M393.6 449.8h.8M393.7 445.1h.8M387.6 431.9h.8M382.8 454.2h.8M388.4 433.5h.8M394.8 447.6h.8M391.9 443.1h.8M384.1 455.3h.8M392.3 436.9h.8M382.9 437.8h.8M387.4 454.2h.8M386.3 446.7h.8M382.6 450.2h.8M398.1 447.2h.8M400.1 450.6h.8M387.0 443.2h.8M390.9 427.9h.8M390.3 430.5h.8M397.8 462.8h.8M378.5 465.5h.8M385.8 439.6h.8M385.1 453.8h.8M399.7 438.6h.8M380.6 453.8h.8M397.9 455.7h.8M404.4 439.6h.8M393.2 445.1h.8M386.2 440.3h.8M398.5 432.9h.8M382.5 457.8h.8M378.9 455.2h.8M391.3 447.9h.8M383.4 440.9h.8M388.9 452.1h.8M393.7 448.5h.8M398.6 429.9h.8M395.7 455.1h.8M391.0 424.9h.8M385.6 435.8h.8M384.5 456.7h.8M393.8 453.4h.8M393.4 432.0h.8M396.2 451.5h.8M382.9 438.2h.8M391.9 438.4h.8M394.3 435.9h.8M387.1 444.8h.8M395.8 430.2h.8M399.9 438.9h.8M383.2 439.3h.8M389.1 428.9h.8M389.3 435.4h.8M391.5 430.0h.8M386.0 446.3h.8M395.2 447.2h.8M392.3 457.3h.8M393.2 477.5h.8M393.1 437.5h.8M383.9 451.4h.8M387.7 446.7h.8M385.4 444.1h.8M388.1 448.0h.8M389.9 444.9h.8M385.8 431.9h.8M390.3 434.2h.8M400.5 450.5h.8M383.2 433.0h.8M394.0 440.5h.8M389.1 448.8h.8M380.8 462.0h.8M400.9 456.1h.8M386.8 434.3h.8M385.6 455.5h.8M396.9 435.2h.8M376.5 472.3h.8M378.9 453.7h.8M380.5 454.2h.8M378.5 468.5h.8M391.2 432.3h.8M388.2 430.0h.8M387.4 440.5h.8M398.9 456.1h.8M394.9 442.3h.8M383.1 446.5h.8M384.2 442.3h.8M390.1 442.7h.8M394.5 433.9h.8M398.5 437.3h.8M384.5 433.8h.8M387.5 447.0h.8M384.9 435.0h.8M403.8 440.0h.8M387.0 440.5h.8M387.4 428.9h.8M391.2 437.4h.8M395.4 472.1h.8M393.1 439.3h.8M400.5 446.8h.8M388.5 439.0h.8M399.0 437.5h.8M386.0 445.7h.8M387.1 431.4h.8M387.0 438.7h.8M390.4 453.6h.8M394.7 440.4h.8M384.9 441.0h.8M387.5 427.7h.8M386.1 427.9h.8M391.7 437.2h.8M385.2 443.5h.8M398.2 444.9h.8M383.6 443.9h.8M386.9 454.0h.8M397.9 451.5h.8M386.6 440.2h.8M395.4 454.3h.8M385.5 478.3h.8M399.6 446.5h.8M395.0 475.1h.8M385.7 453.5h.8M393.8 470.9h.8M395.1 476.9h.8M391.5 477.7h.8M389.6 445.5h.8M396.1 472.3h.8M388.9 452.6h.8M399.5 454.9h.8M389.4 478.0h.8M391.7 454.4h.8M381.2 448.9h.8M398.9 451.3h.8M392.4 475.7h.8M391.9 443.3h.8M395.6 463.5h.8M379.0 468.0h.8M397.7 448.6h.8M390.1 454.4h.8M395.0 457.8h.8M385.9 445.2h.8M400.6 440.6h.8M379.9 447.9h.8M380.0 462.1h.8M380.1 458.5h.8M391.9 447.0h.8M388.8 481.9h.8M379.0 457.1h.8M388.6 454.8h.8M396.2 456.5h.8M378.1 457.9h.8M376.1 472.1h.8M395.2 476.4h.8M379.8 464.1h.8M381.6 459.7h.8M397.9 460.5h.8M399.8 458.8h.8M379.1 474.2h.8M393.9 472.5h.8M378.2 460.2h.8M385.2 444.9h.8M390.7 454.7h.8M398.6 460.5h.8M397.6 459.1h.8M382.3 440.8h.8M382.3 459.3h.8M395.5 456.5h.8M393.4 474.2h.8M383.5 453.2h.8M378.3 467.1h.8M382.6 456.8h.8M392.3 454.5h.8M387.8 481.3h.8M395.9 447.2h.8M385.4 453.5h.8M398.8 455.6h.8M387.6 481.7h.8M382.3 443.3h.8M389.3 452.9h.8M400.5 455.4h.8M381.9 451.7h.8M378.3 476.5h.8M379.2 444.5h.8M379.3 475.4h.8M390.9 476.8h.8M380.4 455.5h.8M391.2 477.3h.8M379.0 458.9h.8M386.6 451.6h.8M395.7 459.4h.8M379.2 474.5h.8M379.3 466.0h.8M393.5 470.7h.8M381.6 462.4h.8M376.3 467.5h.8M379.6 444.8h.8M401.1 446.7h.8M396.7 467.5h.8M402.3 445.9h.8M396.9 462.7h.8M395.0 446.0h.8M394.6 454.5h.8M381.8 456.9h.8M381.6 464.6h.8M386.4 480.8h.8M396.1 460.0h.8M384.5 450.8h.8M379.8 462.0h.8M395.5 456.9h.8M379.1 458.8h.8M380.2 455.2h.8M395.0 456.1h.8M380.8 456.1h.8M393.9 455.4h.8M395.0 448.5h.8M393.5 459.0h.8M383.6 460.4h.8M396.0 473.5h.8M380.3 456.9h.8M398.1 455.1h.8M396.0 464.3h.8M381.1 455.9h.8M392.9 446.3h.8M404.7 438.2h.8M399.1 435.9h.8M401.2 448.0h.8M391.5 424.6h.8M399.8 445.5h.8M404.3 443.1h.8M400.4 441.2h.8M401.5 449.6h.8M399.7 440.9h.8M392.1 456.7h.8M396.0 426.5h.8M406.4 442.8h.8M404.8 444.9h.8M400.2 439.1h.8M401.9 437.2h.8M405.0 439.7h.8M382.7 435.9h.8M398.4 429.2h.8M402.9 442.1h.8M404.3 442.3h.8M403.3 440.6h.8M392.3 437.5h.8M397.1 446.9h.8M395.5 442.9h.8M402.0 438.9h.8M404.6 442.7h.8M396.0 447.2h.8M399.4 431.5h.8M391.1 441.1h.8M403.0 438.3h.8M396.1 444.9h.8M388.2 440.4h.8M405.8 440.4h.8" stroke="#6482b4" stroke-width="0.8" stroke-opacity="0.8" fill="none"/>
<path d="M384.6 477.2h.8M394.1 465.6h.8M382.4 463.9h.8M378.9 469.2h.8M379.8 471.3h.8M388.2 462.5h.8M380.0 467.9h.8M381.6 472.6h.8M387.3 476.3h.8M388.0 460.3h.8M382.1 462.3h.8M379.9 466.7h.8M386.1 476.9h.8M390.0 457.4h.8M387.5 475.9h.8M390.7 474.8h.8M383.0 475.1h.8M386.6 462.6h.8M378.4 468.8h.8M391.3 472.7h.8M386.3 476.2h.8M380.1 476.0h.8M394.7 467.6h.8M387.7 455.7h.8M380.9 475.8h.8M388.8 474.6h.8M381.1 464.7h.8M391.9 469.5h.8M384.5 462.4h.8M389.5 474.7h.8M381.5 468.2h.8M380.9 468.2h.8M380.0 473.8h.8M394.7 468.5h.8M387.8 460.9h.8M386.1 474.8h.8M384.3 477.8h.8M381.1 473.8h.8M390.6 475.0h.8M388.1 462.7h.8M382.7 463.9h.8M381.7 467.6h.8M381.6 472.1h.8M384.7 461.0h.8M383.1 474.5h.8M381.4 470.6h.8M385.2 461.7h.8M383.7 460.2h.8M379.8 469.9h.8M385.8 474.7h.8M380.0 474.8h.8M386.5 475.3h.8M386.4 456.1h.8M393.6 464.0h.8M393.9 466.3h.8M381.6 473.1h.8M393.8 463.4h.8M383.3 464.4h.8M385.9 477.0h.8M391.3 473.4h.8M388.0 460.4h.8M392.3 470.7h.8M383.9 477.4h.8M381.0 471.7h.8M392.9 469.4h.8M380.0 475.7h.8M387.8 474.7h.8M387.6 474.5h.8M392.8 461.6h.8M390.2 460.4h.8M392.0 469.7h.8M392.0 462.4h.8M389.4 474.6h.8M382.9 474.4h.8M389.4 461.3h.8M381.1 468.2h.8M395.0 463.4h.8M383.2 475.9h.8M386.0 461.4h.8M380.8 465.1h.8M380.0 472.6h.8M388.1 458.8h.8M393.6 463.6h.8M392.5 468.8h.8M384.6 459.8h.8M391.3 473.0h.8M384.3 462.7h.8M383.0 477.4h.8M382.5 475.0h.8M383.1 475.3h.8M393.3 472.5h.8M380.5 470.6h.8M386.8 461.6h.8M385.8 475.9h.8M393.0 462.2h.8M390.3 459.7h.8M392.0 448.8h.8M390.2 450.2h.8M388.8 459.1h.8M391.3 459.1h.8M384.8 477.7h.8M394.0 438.5h.8M384.9 461.9h.8M391.2 460.5h.8M393.7 463.0h.8M387.8 458.4h.8M390.1 450.4h.8M389.3 455.1h.8M392.5 448.6h.8M394.1 437.8h.8M391.2 473.1h.8M391.8 452.4h.8M391.6 451.3h.8M392.0 450.1h.8M387.8 474.6h.8M389.5 462.4h.8M386.1 456.5h.8M389.5 458.4h.8M390.5 459.2h.8M382.6 475.5h.8M386.2 455.9h.8M391.5 458.9h.8M391.5 457.2h.8M392.3 449.1h.8M390.4 451.0h.8M387.0 457.4h.8M392.3 473.1h.8M390.9 457.9h.8M384.8 459.6h.8M387.5 456.9h.8M391.6 474.0h.8M394.4 439.1h.8M392.3 461.8h.8M389.2 460.5h.8M385.5 457.6h.8M388.6 458.0h.8M393.2 451.6h.8M393.8 438.3h.8M389.1 458.7h.8M391.6 450.0h.8M390.3 452.9h.8M392.1 449.6h.8M391.9 459.0h.8M392.3 448.3h.8M386.6 461.1h.8M379.5 470.1h.8M392.2 460.1h.8M386.4 458.2h.8M386.1 477.9h.8M386.5 455.6h.8M390.5 452.2h.8M390.3 459.3h.8M394.3 464.3h.8M391.8 451.9h.8M385.0 462.3h.8M393.4 451.0h.8M390.3 451.2h.8M391.9 452.9h.8M393.9 437.5h.8M389.4 456.3h.8M392.6 447.7h.8M392.0 451.2h.8M387.3 456.3h.8M390.4 451.3h.8M389.8 459.2h.8M390.8 473.4h.8M393.4 448.3h.8M395.1 466.4h.8M386.4 460.5h.8M381.1 467.0h.8M388.1 460.0h.8M392.7 451.3h.8M386.5 455.2h.8M389.9 474.0h.8M384.7 458.1h.8M393.9 438.0h.8M386.2 457.4h.8M389.6 451.6h.8M388.0 457.6h.8M388.7 461.5h.8M387.7 457.0h.8M382.1 461.3h.8M379.2 468.7h.8M380.2 475.3h.8M392.3 474.1h.8M388.4 462.2h.8M385.3 462.0h.8M383.7 462.6h.8M394.7 469.3h.8M391.4 457.8h.8M389.0 459.2h.8M388.1 475.5h.8M381.0 467.6h.8M383.6 462.4h.8M394.1 470.3h.8M393.6 467.9h.8M391.9 461.1h.8M389.8 473.7h.8M383.5 476.9h.8M387.0 476.2h.8M392.9 470.2h.8M392.8 470.7h.8M387.1 460.3h.8M393.7 467.9h.8M389.1 457.7h.8M391.9 470.8h.8M383.2 464.3h.8M385.6 458.0h.8M392.8 461.0h.8M395.1 468.2h.8M382.6 461.7h.8M386.9 459.1h.8M385.0 459.6h.8M380.5 474.4h.8M395.3 462.1h.8M380.7 470.6h.8M394.1 465.8h.8M384.4 462.6h.8M392.0 471.4h.8M387.2 462.7h.8M394.3 467.1h.8M391.2 453.0h.8M381.4 467.0h.8M378.2 469.1h.8M389.8 459.1h.8M380.4 473.0h.8M394.6 468.2h.8M382.0 462.7h.8M387.4 455.4h.8M386.2 474.5h.8M393.3 468.9h.8M392.6 462.6h.8M389.8 450.1h.8M389.7 474.8h.8M393.3 469.2h.8M392.1 472.5h.8M393.6 469.8h.8M382.5 475.6h.8M394.4 467.9h.8M389.9 459.2h.8M391.9 461.7h.8M383.6 475.4h.8M392.0 451.5h.8M386.9 477.5h.8M389.9 475.5h.8M382.9 476.5h.8M381.1 466.2h.8M380.1 475.6h.8M381.1 466.5h.8M394.3 468.1h.8M379.8 470.1h.8M392.1 461.7h.8M394.3 438.1h.8M394.2 438.1h.8" stroke="#4a929c" stroke-width="0.8" stroke-opacity="0.85" fill="none"/>
<path d="M392.4 464.0h.8M386.3 473.2h.8M393.2 468.2h.8M383.3 472.4h.8M391.3 461.3h.8M389.3 472.7h.8M383.2 464.8h.8M388.0 474.1h.8M390.8 469.5h.8M380.0 468.6h.8M383.4 465.1h.8M388.6 472.8h.8M381.8 465.1h.8M392.2 468.1h.8M386.9 463.6h.8M391.4 471.5h.8M388.1 473.9h.8M385.5 474.6h.8M392.3 465.9h.8M390.0 469.2h.8M381.9 472.8h.8M390.9 471.1h.8M390.6 471.4h.8M385.2 463.0h.8M383.2 473.0h.8M391.9 463.2h.8M384.1 474.5h.8M388.4 463.5h.8M387.6 463.6h.8M380.6 469.3h.8M385.7 464.6h.8M390.7 469.4h.8M385.4 463.5h.8M384.0 476.0h.8M390.5 471.5h.8M389.8 461.7h.8M385.5 475.7h.8M382.2 466.2h.8M386.4 463.0h.8M388.4 463.5h.8M387.8 463.8h.8M388.3 472.9h.8M389.2 473.8h.8M390.0 470.1h.8M390.5 469.5h.8M385.4 475.1h.8M382.7 474.2h.8M389.9 471.5h.8M384.9 463.3h.8M382.5 472.9h.8M389.6 463.4h.8M390.2 464.3h.8M392.2 467.0h.8M389.8 469.7h.8M388.2 464.5h.8M390.2 463.1h.8M385.3 474.9h.8M383.1 473.1h.8M383.9 464.5h.8M389.3 463.0h.8M380.6 469.2h.8M391.3 461.6h.8M390.2 464.3h.8M380.4 470.2h.8M381.2 470.2h.8M389.6 471.8h.8M385.1 464.6h.8M393.1 465.0h.8M387.2 472.9h.8M389.9 471.1h.8M392.9 466.9h.8M390.0 470.0h.8M382.3 473.3h.8M389.9 470.0h.8M389.9 472.4h.8M382.0 474.4h.8M385.6 475.1h.8M389.1 474.2h.8M390.1 464.3h.8M390.9 469.1h.8M380.2 468.9h.8M390.9 462.0h.8M391.6 464.3h.8M387.7 462.9h.8M392.9 464.5h.8M390.6 461.7h.8M383.4 466.4h.8M389.6 472.3h.8M386.6 464.2h.8M390.6 469.2h.8M383.3 472.7h.8M389.3 463.5h.8M392.7 464.8h.8M391.4 469.1h.8M393.3 468.1h.8M392.4 465.6h.8M384.8 464.5h.8M386.8 462.8h.8M390.6 471.4h.8M392.0 463.7h.8M383.8 474.8h.8M387.1 473.2h.8M390.3 462.3h.8M383.3 465.3h.8M392.2 467.6h.8M384.4 475.3h.8M392.7 463.2h.8M389.7 470.7h.8M392.7 467.6h.8M390.8 464.4h.8M391.8 464.3h.8M387.1 464.6h.8M389.2 472.7h.8M385.3 475.3h.8M392.9 468.2h.8M384.2 463.0h.8M391.1 463.8h.8M382.0 465.8h.8M386.1 472.9h.8M384.0 475.6h.8M393.2 463.8h.8M393.3 466.3h.8M390.8 470.6h.8M390.6 461.3h.8M389.8 464.4h.8M391.6 465.9h.8M392.5 465.3h.8M390.1 462.7h.8M382.8 465.5h.8M390.1 464.6h.8M391.7 463.2h.8" stroke="#6aac50" stroke-width="0.8" stroke-opacity="0.9" fill="none"/>
<path d="M382.9 471.3h.8M384.2 471.4h.8M385.5 473.4h.8M384.0 473.6h.8M383.2 471.0h.8M381.9 472.0h.8M382.4 469.2h.8M388.9 466.5h.8M384.8 465.3h.8M385.3 471.8h.8M387.7 471.9h.8M389.0 466.4h.8M391.0 467.1h.8M384.8 473.4h.8M389.7 465.1h.8M388.2 471.0h.8M385.9 465.1h.8M387.6 465.1h.8M384.6 471.3h.8M384.1 473.4h.8M386.8 464.8h.8M385.3 471.9h.8M389.9 466.0h.8M388.2 465.1h.8M391.0 466.3h.8M385.6 472.3h.8M389.0 465.2h.8M385.4 472.9h.8M388.0 465.5h.8M389.3 465.2h.8M382.6 469.0h.8M381.8 468.4h.8M391.0 466.0h.8M384.8 473.5h.8M387.8 471.3h.8M386.6 465.4h.8M389.8 465.6h.8M390.1 466.0h.8M385.2 471.6h.8M382.7 469.3h.8M383.3 470.3h.8M390.9 466.9h.8M386.8 466.6h.8M388.2 464.8h.8M384.8 470.6h.8M387.8 470.6h.8M382.2 472.0h.8M384.3 474.1h.8M388.4 466.4h.8M382.3 471.9h.8M383.3 470.4h.8M384.0 465.0h.8M386.5 466.6h.8M382.1 467.9h.8M384.7 466.6h.8M384.1 473.6h.8M384.0 465.5h.8M384.3 465.8h.8M383.2 466.9h.8M391.1 468.2h.8M388.8 465.3h.8M388.6 465.4h.8M385.4 465.1h.8M385.5 471.8h.8M383.5 468.4h.8M384.2 473.8h.8M381.9 466.7h.8M391.4 465.6h.8M384.1 472.7h.8M388.2 471.1h.8M391.0 468.2h.8M384.6 471.2h.8M386.5 465.6h.8M384.4 466.3h.8M382.1 470.2h.8M383.6 470.5h.8M389.5 470.5h.8M385.7 466.0h.8M386.2 466.5h.8M389.8 465.1h.8M389.0 465.7h.8M382.8 470.2h.8M384.2 471.3h.8M390.0 466.4h.8M388.2 465.6h.8M385.5 466.0h.8M382.2 466.7h.8M384.8 465.2h.8M386.0 465.6h.8M389.3 470.5h.8M381.8 467.5h.8M384.4 465.6h.8M386.8 466.0h.8M384.2 470.9h.8M388.3 465.4h.8M388.8 470.6h.8M389.4 471.0h.8M382.9 469.1h.8M383.1 470.3h.8M389.6 468.0h.8M384.3 474.1h.8M381.8 471.1h.8M387.8 464.9h.8M383.3 469.9h.8M387.8 465.4h.8M384.4 472.5h.8M382.8 469.0h.8M390.3 465.7h.8M387.5 465.7h.8M391.4 464.7h.8M385.0 473.7h.8M383.0 470.5h.8M383.3 466.9h.8M388.1 472.1h.8M381.8 468.0h.8M391.2 466.1h.8M388.7 470.6h.8M384.4 465.6h.8M385.1 465.7h.8M390.1 465.9h.8M382.3 470.0h.8M385.5 472.9h.8M389.1 465.9h.8M384.6 465.0h.8M387.7 466.1h.8M384.0 464.8h.8M385.2 464.8h.8M383.1 466.7h.8M389.4 464.9h.8M382.4 471.9h.8M390.7 464.9h.8M389.5 470.6h.8M385.6 472.5h.8M383.4 471.9h.8M382.8 467.8h.8M386.2 465.5h.8M384.7 474.0h.8M383.1 469.2h.8M391.0 465.4h.8M382.4 468.7h.8M383.2 470.0h.8" stroke="#b9b93c" stroke-width="0.8" stroke-opacity="0.95" fill="none"/>
<path d="M385.1 468.5h.8M386.1 471.7h.8M383.9 467.3h.8M384.7 468.9h.8M383.9 468.6h.8M386.2 472.1h.8M385.6 469.8h.8M389.3 469.4h.8M387.9 469.8h.8M384.6 469.9h.8M384.0 468.6h.8M389.0 468.9h.8M383.9 469.4h.8M384.6 468.5h.8M383.9 468.6h.8M384.5 469.4h.8M388.3 468.7h.8M389.4 468.8h.8M384.5 468.2h.8M384.4 467.6h.8M388.3 469.3h.8M388.7 468.6h.8M387.3 471.8h.8M388.2 469.1h.8M385.6 467.3h.8M386.5 472.2h.8M385.8 470.6h.8M386.4 470.9h.8M388.2 467.5h.8M386.9 470.9h.8M384.0 469.1h.8M383.8 466.7h.8M388.0 466.8h.8M388.5 468.3h.8M385.4 469.3h.8M389.3 466.7h.8M385.9 471.0h.8M385.2 469.2h.8M383.7 469.8h.8M388.4 469.3h.8M388.4 470.3h.8M389.0 466.8h.8M385.0 468.5h.8M384.4 469.8h.8M389.1 467.5h.8M388.0 470.3h.8M386.4 471.9h.8M388.0 470.2h.8M389.1 470.1h.8M389.2 469.2h.8M388.6 466.8h.8M388.9 469.6h.8M385.3 469.9h.8M385.0 467.0h.8M389.0 467.9h.8M385.4 470.3h.8M385.1 468.8h.8M385.8 470.6h.8M388.1 467.6h.8M384.4 468.3h.8M384.2 470.4h.8M385.5 470.4h.8M385.6 466.9h.8M385.5 469.1h.8M387.5 470.8h.8M383.8 469.9h.8M389.4 468.2h.8M386.1 470.8h.8M387.7 466.8h.8M388.9 469.5h.8M388.3 469.0h.8M386.6 472.1h.8M388.2 466.7h.8M388.5 466.7h.8M388.0 470.4h.8M388.1 470.1h.8M387.2 471.8h.8" stroke="#e0952c" stroke-width="0.8" stroke-opacity="1" fill="none"/>
<path d="M386.6 468.8h.8M386.3 468.1h.8M386.4 470.3h.8M386.9 467.6h.8M387.5 469.5h.8M386.0 470.4h.8M386.2 468.5h.8M385.9 466.6h.8M387.1 468.4h.8M387.3 468.0h.8M386.8 468.7h.8M387.2 469.1h.8M387.1 470.0h.8M387.4 467.7h.8M385.9 469.6h.8M385.8 468.5h.8M387.3 467.6h.8M387.5 467.2h.8M385.8 467.4h.8M387.2 468.1h.8M386.6 467.1h.8M386.2 469.3h.8M385.9 470.4h.8M387.5 469.7h.8M386.9 468.5h.8M386.0 468.4h.8M386.2 468.8h.8M387.4 469.8h.8M385.9 468.8h.8M386.4 468.0h.8M385.7 467.8h.8M386.4 466.9h.8" stroke="#e0652a" stroke-width="0.8" stroke-opacity="1" fill="none"/>
<rect x="366.2" y="410.2" width="77.8" height="77.8" fill="none" stroke="#6a6a6a" stroke-width="0.8"/>
<line x1="398.3" y1="410.2" x2="398.3" y2="488.0" stroke="#4a4a4a" stroke-width="0.95"/>
<line x1="366.2" y1="459.1" x2="444.0" y2="459.1" stroke="#4a4a4a" stroke-width="0.95"/>
<text x="368.2" y="418.8" font-size="5.7" fill="#231f20" stroke="#231f20" stroke-width="0.18">24.9</text>
<text x="437.0" y="418.8" font-size="5.7" text-anchor="end" fill="#231f20" stroke="#231f20" stroke-width="0.18">12.0</text>
<text x="368.2" y="482.4" font-size="5.7" fill="#231f20" stroke="#231f20" stroke-width="0.18">59.0</text>
<text x="437.5" y="482.4" font-size="5.7" text-anchor="end" fill="#231f20" stroke="#231f20" stroke-width="0.18">4.10</text>
<text x="362.59999999999997" y="419.3" font-size="5.4" text-anchor="end" fill="#231f20" stroke="#231f20" stroke-width="0.18">10<tspan font-size="4.6" dy="-3.3">4</tspan></text>
<line x1="364.6" y1="411.6" x2="366.2" y2="411.6" stroke="#555" stroke-width="0.7"/>
<text x="362.59999999999997" y="433.4" font-size="5.4" text-anchor="end" fill="#231f20" stroke="#231f20" stroke-width="0.18">10<tspan font-size="4.6" dy="-3.3">3</tspan></text>
<line x1="364.6" y1="428.1" x2="366.2" y2="428.1" stroke="#555" stroke-width="0.7"/>
<text x="362.59999999999997" y="451.9" font-size="5.4" text-anchor="end" fill="#231f20" stroke="#231f20" stroke-width="0.18">10<tspan font-size="4.6" dy="-3.3">2</tspan></text>
<line x1="364.6" y1="446.6" x2="366.2" y2="446.6" stroke="#555" stroke-width="0.7"/>
<text x="362.59999999999997" y="472.6" font-size="5.4" text-anchor="end" fill="#231f20" stroke="#231f20" stroke-width="0.18">10<tspan font-size="4.6" dy="-3.3">1</tspan></text>
<line x1="364.6" y1="466.1" x2="366.2" y2="466.1" stroke="#555" stroke-width="0.7"/>
<text x="362.59999999999997" y="486.6" font-size="5.4" text-anchor="end" fill="#231f20" stroke="#231f20" stroke-width="0.18">10<tspan font-size="4.6" dy="-3.3">0</tspan></text>
<line x1="364.6" y1="487.6" x2="366.2" y2="487.6" stroke="#555" stroke-width="0.7"/>
<text x="372.4" y="498.4" font-size="5.4" text-anchor="middle" fill="#231f20" stroke="#231f20" stroke-width="0.18">10<tspan font-size="4.6" dy="-3.5">0</tspan></text>
<text x="389.6" y="498.4" font-size="5.4" text-anchor="middle" fill="#231f20" stroke="#231f20" stroke-width="0.18">10<tspan font-size="4.6" dy="-3.5">1</tspan></text>
<text x="408.4" y="498.4" font-size="5.4" text-anchor="middle" fill="#231f20" stroke="#231f20" stroke-width="0.18">10<tspan font-size="4.6" dy="-3.5">2</tspan></text>
<text x="427.2" y="498.4" font-size="5.4" text-anchor="middle" fill="#231f20" stroke="#231f20" stroke-width="0.18">10<tspan font-size="4.6" dy="-3.5">3</tspan></text>
<text x="439.8" y="498.4" font-size="5.4" text-anchor="middle" fill="#231f20" stroke="#231f20" stroke-width="0.18">10<tspan font-size="4.6" dy="-3.5">4</tspan></text>
<line x1="366.8" y1="488.0" x2="366.8" y2="489.6" stroke="#555" stroke-width="0.7"/>
<line x1="376.2" y1="488.0" x2="376.2" y2="489.6" stroke="#555" stroke-width="0.7"/>
<line x1="386.5" y1="488.0" x2="386.5" y2="489.6" stroke="#555" stroke-width="0.7"/>
<line x1="396.3" y1="488.0" x2="396.3" y2="489.6" stroke="#555" stroke-width="0.7"/>
<line x1="414.3" y1="488.0" x2="414.3" y2="489.6" stroke="#555" stroke-width="0.7"/>
<line x1="425.8" y1="488.0" x2="425.8" y2="489.6" stroke="#555" stroke-width="0.7"/>
<line x1="433.9" y1="488.0" x2="433.9" y2="489.6" stroke="#555" stroke-width="0.7"/>
<line x1="443.8" y1="488.0" x2="443.8" y2="489.6" stroke="#555" stroke-width="0.7"/>
<path d="M475.2 390.9h.8M484.7 389.4h.8M473.9 389.8h.8M471.6 388.0h.8M471.7 383.9h.8M473.7 367.4h.8M466.4 388.8h.8M465.8 381.2h.8M482.1 390.5h.8M501.3 357.2h.8M483.2 360.5h.8M467.6 389.8h.8M483.7 390.6h.8M493.1 359.0h.8M503.0 369.7h.8M484.2 362.6h.8M472.3 372.3h.8M480.8 391.7h.8M471.8 389.2h.8M472.1 385.6h.8M491.4 357.7h.8M497.5 383.3h.8M483.8 362.5h.8M471.2 385.8h.8M477.1 391.4h.8M490.3 384.9h.8M492.4 390.3h.8M478.3 365.6h.8M469.9 383.9h.8M489.1 390.0h.8M480.6 364.5h.8M501.9 355.1h.8M489.3 355.2h.8M470.7 383.2h.8M484.0 363.1h.8M466.7 381.9h.8M472.9 391.1h.8M466.0 390.2h.8M501.0 373.8h.8M501.4 382.6h.8M488.4 358.8h.8M500.8 379.1h.8M482.8 365.1h.8M482.7 392.0h.8M491.2 353.7h.8M469.7 372.5h.8M493.6 358.6h.8M492.3 391.0h.8M500.7 375.8h.8M494.1 381.6h.8M494.8 381.5h.8M491.0 385.4h.8M490.8 356.3h.8M496.4 354.0h.8M486.1 359.6h.8M496.8 379.9h.8M481.9 362.3h.8M500.8 360.4h.8M495.6 388.1h.8M485.9 386.6h.8M468.2 383.6h.8M495.6 355.1h.8M511.3 368.0h.8M475.6 392.2h.8M474.4 391.9h.8M529.4 336.3h.8M531.5 357.9h.8M524.9 336.3h.8M521.8 340.6h.8M503.4 344.6h.8M531.0 343.5h.8M530.5 342.6h.8M538.9 342.8h.8M529.3 331.8h.8M538.6 325.9h.8M499.5 345.3h.8M520.3 372.2h.8M517.1 346.6h.8M528.0 335.4h.8M507.0 343.1h.8M494.3 351.3h.8M520.1 367.2h.8M518.5 334.1h.8M528.0 360.0h.8M506.3 337.6h.8M502.8 348.9h.8M539.4 334.9h.8M533.5 355.7h.8M524.1 341.6h.8M537.1 352.8h.8M527.3 343.2h.8M507.3 338.4h.8M526.0 340.6h.8M539.8 337.4h.8M514.6 345.3h.8M522.5 334.3h.8M513.5 347.9h.8M501.7 354.8h.8M513.8 337.7h.8M505.6 343.0h.8M537.6 341.5h.8M541.3 344.7h.8M525.3 339.3h.8M509.8 343.6h.8M533.1 359.4h.8M539.9 350.6h.8M518.6 345.5h.8M531.6 353.5h.8M537.8 353.1h.8M534.6 333.1h.8M532.5 355.4h.8M520.4 342.5h.8M515.1 344.6h.8M523.0 366.3h.8M537.0 352.0h.8M524.7 339.5h.8M504.9 347.5h.8M534.5 357.0h.8M530.6 336.5h.8M508.6 348.0h.8M506.0 350.3h.8M529.3 341.6h.8M504.8 340.5h.8M520.5 344.3h.8M539.3 346.1h.8M528.0 335.1h.8M510.2 343.1h.8M525.6 341.0h.8M518.4 367.8h.8M533.3 357.4h.8M528.8 339.2h.8M506.1 353.0h.8M516.5 344.3h.8M534.4 352.3h.8M517.2 371.7h.8M506.2 349.3h.8M528.2 366.2h.8M504.4 354.5h.8M535.9 350.5h.8M520.0 341.9h.8M539.2 340.0h.8M527.8 338.8h.8M533.2 335.0h.8M541.1 330.9h.8M523.8 339.9h.8M525.4 363.1h.8M538.9 338.7h.8M532.0 335.6h.8M509.9 345.3h.8M511.0 345.2h.8M531.1 342.6h.8M535.6 322.1h.8M511.5 347.3h.8M513.3 340.9h.8M538.0 353.1h.8M532.3 338.7h.8M520.9 340.4h.8M531.6 366.2h.8M541.2 351.4h.8M540.8 350.3h.8M507.4 354.1h.8M540.6 320.3h.8M530.5 334.1h.8M527.0 329.3h.8M506.0 348.2h.8M531.4 360.3h.8M538.3 330.7h.8M534.8 354.5h.8M529.2 337.9h.8M501.3 351.2h.8M501.8 349.0h.8M508.2 378.4h.8M532.4 350.0h.8M514.7 365.9h.8M519.7 344.4h.8M520.4 367.3h.8M510.5 348.4h.8M524.9 339.3h.8M509.9 340.2h.8M515.5 336.3h.8M507.3 374.2h.8M472.6 372.6h.8M503.7 367.4h.8M502.4 357.3h.8M504.4 356.5h.8M501.7 363.2h.8M533.2 339.9h.8M498.7 347.7h.8M519.4 365.0h.8M500.3 359.6h.8M505.0 369.9h.8M514.2 367.6h.8M506.8 366.5h.8M520.5 365.1h.8M503.4 369.6h.8M506.7 354.6h.8M540.3 352.8h.8M497.4 353.0h.8M504.5 368.9h.8M508.5 367.6h.8M516.3 365.8h.8M492.7 355.6h.8M471.9 371.0h.8M537.6 350.0h.8M502.9 357.3h.8M505.7 366.0h.8M519.3 363.5h.8M496.0 380.6h.8M502.0 362.1h.8M506.8 372.2h.8M499.3 356.9h.8M535.1 353.4h.8M517.1 365.2h.8M538.6 349.1h.8M501.2 354.8h.8M500.4 354.1h.8M496.1 356.4h.8M508.5 367.9h.8M514.2 366.9h.8M508.7 368.8h.8M506.5 357.0h.8M509.5 366.3h.8M504.1 370.1h.8M527.8 363.0h.8M508.1 349.8h.8M508.1 325.7h.8M488.7 339.8h.8M506.0 332.2h.8M474.5 339.1h.8M528.8 332.4h.8M489.4 333.8h.8M520.2 344.7h.8M494.6 324.4h.8M478.7 322.8h.8M487.0 331.1h.8M488.9 320.9h.8M476.1 341.4h.8M478.0 333.1h.8M484.6 321.4h.8M479.9 323.6h.8" stroke="#93a5c6" stroke-width="0.8" stroke-opacity="0.8" fill="none"/>
<path d="M478.6 369.0h.8M482.9 389.1h.8M472.5 380.0h.8M491.7 366.1h.8M479.5 368.8h.8M476.1 374.6h.8M475.7 377.5h.8M474.5 376.4h.8M494.9 375.2h.8M494.6 379.8h.8M473.4 383.7h.8M477.1 371.9h.8M476.0 378.0h.8M477.9 369.5h.8M472.8 386.5h.8M497.0 374.2h.8M488.7 384.1h.8M480.2 368.8h.8M474.1 380.9h.8M478.3 389.7h.8M479.6 369.7h.8M487.1 366.1h.8M485.8 366.8h.8M480.2 368.7h.8M485.4 385.8h.8M494.8 362.9h.8M495.9 374.4h.8M473.6 382.9h.8M479.3 391.0h.8M475.8 373.8h.8M491.6 366.2h.8M487.1 361.9h.8M489.0 385.2h.8M472.6 380.1h.8M474.0 388.1h.8M472.7 381.5h.8M488.9 365.8h.8M486.2 366.7h.8M495.9 366.7h.8M500.8 366.6h.8M490.9 362.8h.8M499.4 363.1h.8M480.4 389.2h.8M477.5 371.2h.8M487.9 361.2h.8M498.0 366.7h.8M490.3 384.1h.8M491.8 360.8h.8M482.9 366.2h.8M489.1 380.6h.8M496.0 370.8h.8M489.5 362.9h.8M489.3 385.4h.8M493.9 376.5h.8M482.5 387.7h.8M485.7 365.8h.8M500.2 371.0h.8M497.5 372.3h.8M495.6 379.3h.8M487.6 363.2h.8M480.4 369.4h.8M494.9 377.3h.8M494.3 375.6h.8M494.9 375.7h.8M496.3 365.1h.8M496.2 368.3h.8M489.4 381.5h.8M484.7 386.3h.8M500.6 366.6h.8M494.2 377.1h.8M492.6 363.6h.8M489.4 360.7h.8M479.5 391.4h.8M492.5 378.5h.8M494.6 363.9h.8M479.9 390.5h.8M480.4 389.7h.8M488.9 366.2h.8M492.3 378.7h.8M488.8 381.8h.8M496.5 362.2h.8M488.5 384.3h.8M497.1 369.2h.8M499.2 358.8h.8M495.8 366.3h.8M492.3 366.2h.8M498.5 366.7h.8M489.1 364.5h.8M496.5 370.9h.8M489.5 363.6h.8M487.8 365.1h.8M493.9 361.8h.8M495.5 375.8h.8M479.8 369.0h.8M491.7 363.1h.8M493.6 366.0h.8M475.9 389.5h.8M494.7 363.3h.8M491.6 362.4h.8M492.8 363.5h.8M497.3 373.8h.8M488.5 381.6h.8M482.3 386.5h.8M477.8 371.6h.8M477.0 390.0h.8M479.7 390.3h.8M492.2 379.0h.8M484.6 365.6h.8M495.5 380.6h.8M476.1 386.5h.8M496.0 360.7h.8M493.9 375.6h.8M487.0 366.3h.8M485.1 366.4h.8M496.9 365.9h.8M496.2 361.4h.8M487.9 363.3h.8M492.2 362.2h.8M483.7 367.3h.8M493.6 366.3h.8M500.0 367.3h.8M484.8 385.9h.8M488.1 380.8h.8M473.1 378.8h.8M490.5 365.6h.8M482.8 387.4h.8M497.9 358.7h.8M479.4 368.0h.8M488.2 366.7h.8M495.4 366.4h.8M475.5 374.7h.8M492.8 366.5h.8M482.2 368.7h.8M495.2 366.2h.8M474.3 378.7h.8M488.7 366.0h.8M490.9 381.4h.8M492.8 363.8h.8M475.1 386.8h.8M510.0 358.6h.8M494.8 377.4h.8M473.4 380.5h.8M498.9 371.9h.8M496.1 377.5h.8M481.3 369.4h.8M496.8 360.3h.8M481.8 367.7h.8M491.0 384.2h.8M496.1 376.1h.8M500.2 369.3h.8M491.9 377.6h.8M474.8 377.3h.8M497.5 365.8h.8M474.1 384.7h.8M495.1 362.9h.8M495.1 377.0h.8M500.3 372.9h.8M494.9 365.3h.8M526.9 346.1h.8M516.8 363.4h.8M524.5 349.3h.8M520.4 357.1h.8M508.9 363.0h.8M535.4 341.3h.8M534.3 341.9h.8M534.8 340.3h.8M527.0 355.7h.8M530.5 350.3h.8M521.6 355.1h.8M537.8 345.2h.8M512.6 359.5h.8M520.3 348.7h.8M515.4 360.5h.8M528.7 359.1h.8M517.7 352.1h.8M524.3 351.6h.8M538.0 346.1h.8M528.3 345.5h.8M532.4 347.6h.8M528.4 351.2h.8M520.4 361.8h.8M531.5 349.5h.8M507.6 352.1h.8M519.4 353.5h.8M536.4 347.9h.8M527.5 357.6h.8M528.0 350.9h.8M518.5 358.2h.8M527.4 351.1h.8M515.3 355.0h.8M521.5 351.4h.8M529.6 355.7h.8M519.2 350.0h.8M529.6 353.7h.8M525.2 352.0h.8M523.1 344.1h.8M516.5 350.9h.8M524.6 352.9h.8M521.7 349.0h.8M525.9 351.2h.8M535.7 345.7h.8M530.0 356.9h.8M510.8 364.4h.8M527.1 345.9h.8M533.0 341.1h.8M531.7 346.3h.8M511.8 350.0h.8M517.6 347.9h.8M523.1 357.1h.8M509.6 354.2h.8M538.3 344.2h.8M514.2 359.7h.8M513.4 352.5h.8M532.6 344.7h.8M525.0 360.3h.8M518.5 346.6h.8M529.9 347.6h.8M526.5 345.1h.8M527.1 349.6h.8M518.8 350.7h.8M528.0 353.7h.8M524.0 343.7h.8M519.0 363.3h.8M513.9 356.3h.8M521.1 349.7h.8M537.4 342.3h.8M524.6 350.8h.8M513.3 357.3h.8M513.6 362.7h.8M516.7 352.2h.8M528.0 351.7h.8M534.4 345.9h.8M515.4 354.1h.8M521.3 351.8h.8M517.3 349.7h.8M513.5 352.0h.8M526.4 344.6h.8M520.9 350.2h.8M514.9 357.3h.8M517.7 357.6h.8M522.5 349.7h.8M524.4 346.4h.8M512.3 355.7h.8M521.3 354.4h.8M526.7 346.2h.8M525.5 352.4h.8M519.0 347.9h.8M535.2 343.9h.8M519.6 352.0h.8M513.7 359.4h.8M521.3 355.7h.8M519.6 353.0h.8M522.2 351.6h.8M524.2 350.7h.8M516.2 351.7h.8M523.4 360.3h.8M515.9 361.8h.8M531.6 355.7h.8M519.2 347.9h.8M513.9 357.1h.8M532.7 345.7h.8M511.9 360.9h.8M537.9 346.4h.8M522.3 357.6h.8M510.9 350.9h.8M524.5 355.9h.8M529.2 349.5h.8M515.3 353.6h.8M536.6 342.2h.8M516.2 353.1h.8M518.3 358.2h.8M524.5 354.0h.8M532.0 357.0h.8M521.9 357.6h.8M502.3 358.8h.8M521.6 357.2h.8M538.2 342.2h.8M525.7 345.3h.8M536.6 347.0h.8M526.5 358.1h.8M525.5 355.5h.8M513.4 354.0h.8M535.6 347.7h.8M524.4 359.5h.8M524.0 350.9h.8M522.5 350.8h.8M503.7 360.0h.8M524.6 354.2h.8M533.3 345.9h.8M519.8 354.0h.8M533.8 343.2h.8M519.3 360.8h.8M511.3 357.5h.8M510.0 351.5h.8M522.5 353.2h.8M518.1 354.7h.8M524.7 350.9h.8M528.4 358.8h.8M535.0 345.1h.8M518.3 358.4h.8M537.5 342.3h.8M521.8 356.9h.8M524.6 349.8h.8M537.6 342.2h.8M510.8 361.0h.8M517.8 364.6h.8M525.9 352.8h.8M522.0 350.5h.8M527.8 350.2h.8M522.8 354.0h.8M513.9 358.3h.8M525.2 348.2h.8M524.0 343.2h.8M534.6 343.6h.8M525.2 345.2h.8M497.1 371.8h.8M504.9 362.2h.8M516.4 351.6h.8M527.2 346.6h.8M515.4 351.3h.8M522.3 349.9h.8M511.1 354.7h.8M538.5 347.6h.8M516.1 363.4h.8M507.4 362.3h.8M506.7 362.0h.8M521.6 345.4h.8M535.2 346.2h.8M523.6 360.0h.8M523.1 349.5h.8M500.4 366.2h.8M527.8 355.4h.8M518.9 357.4h.8M510.8 360.3h.8M497.3 369.8h.8M516.0 357.3h.8M513.6 362.0h.8M508.9 353.0h.8M515.3 354.9h.8M486.5 366.8h.8M518.9 354.5h.8M505.8 363.8h.8M514.4 357.6h.8M489.4 365.3h.8M499.3 372.1h.8M517.1 348.1h.8M510.4 354.3h.8M516.9 353.4h.8M512.4 356.3h.8M504.7 361.0h.8M515.3 352.3h.8M489.5 366.2h.8M494.8 366.3h.8M511.0 352.6h.8M499.3 364.3h.8M510.1 358.6h.8M530.0 356.0h.8M511.7 355.9h.8M522.2 351.2h.8M511.7 355.1h.8M489.7 359.6h.8M527.7 347.2h.8M516.5 361.4h.8M501.8 363.3h.8M517.0 358.4h.8M502.1 365.7h.8M509.1 363.3h.8M514.4 357.0h.8M531.6 346.3h.8M496.0 364.3h.8M508.3 355.5h.8M504.5 365.9h.8M506.4 360.2h.8M517.5 354.1h.8M519.8 357.4h.8M490.3 361.3h.8M519.1 365.1h.8M502.8 367.0h.8M528.6 357.2h.8M529.7 356.6h.8M525.4 353.1h.8M497.7 366.7h.8M477.3 371.5h.8M512.0 350.5h.8M522.6 359.4h.8M501.0 369.3h.8M523.2 352.3h.8M517.8 349.4h.8M506.9 365.1h.8M514.7 355.2h.8M534.4 341.5h.8M514.5 356.2h.8M501.7 359.2h.8M512.0 351.4h.8M523.9 349.9h.8M521.7 346.9h.8M518.6 356.8h.8M507.0 358.8h.8M533.4 348.4h.8M518.8 359.9h.8M513.4 365.0h.8M509.5 354.6h.8M520.5 361.5h.8M516.4 351.4h.8M509.8 357.2h.8M495.6 364.9h.8M500.9 366.2h.8M509.2 360.9h.8M502.0 357.8h.8M521.3 354.3h.8M533.2 348.2h.8M512.0 363.4h.8M508.3 359.4h.8M526.8 346.0h.8M516.8 355.9h.8M513.0 352.7h.8M515.1 351.8h.8M490.9 367.1h.8M518.8 355.9h.8M512.0 352.1h.8M499.4 358.9h.8M494.1 376.8h.8M510.5 363.4h.8M526.4 355.7h.8M503.2 363.7h.8M500.7 372.6h.8M510.8 361.0h.8M496.4 370.0h.8M507.0 359.7h.8M525.3 351.2h.8M518.6 355.9h.8M492.0 364.1h.8M509.4 359.8h.8M512.0 363.6h.8M512.8 355.0h.8M513.8 351.6h.8M520.1 355.7h.8M515.8 358.7h.8M498.9 368.3h.8M508.6 365.4h.8M509.2 360.2h.8M514.8 359.3h.8M498.0 357.8h.8M496.1 374.3h.8M496.5 364.6h.8M508.9 361.6h.8M526.6 343.7h.8M512.8 352.8h.8M515.0 358.1h.8M529.4 350.0h.8M521.2 351.9h.8M514.6 358.0h.8M521.6 352.6h.8M516.1 353.9h.8M509.5 365.1h.8M518.7 355.5h.8M525.5 351.6h.8M493.0 362.0h.8M530.5 348.3h.8M488.1 361.3h.8M526.2 356.0h.8M507.9 361.1h.8M523.8 353.5h.8M495.3 361.6h.8M518.1 361.5h.8M502.7 366.2h.8M512.5 355.4h.8M510.8 363.5h.8M512.8 355.2h.8M525.9 349.1h.8M510.4 359.9h.8M510.2 353.3h.8M497.5 361.5h.8M524.6 347.7h.8M509.8 361.8h.8M510.2 362.4h.8M508.1 358.9h.8M527.0 350.6h.8M507.2 359.6h.8M510.1 363.3h.8M497.3 368.5h.8M529.6 355.2h.8M487.9 366.6h.8M522.0 359.2h.8M506.3 360.5h.8M491.9 362.9h.8M517.7 357.9h.8M525.1 351.4h.8M505.6 360.6h.8M516.0 357.8h.8M510.7 357.1h.8M519.2 355.0h.8M535.6 343.6h.8M495.8 370.7h.8M495.6 368.6h.8M523.0 357.8h.8M516.8 355.3h.8M514.1 354.4h.8M503.2 366.9h.8M514.1 363.8h.8M513.7 359.4h.8M497.5 374.8h.8M505.7 358.6h.8M501.9 363.7h.8M498.4 359.2h.8M508.8 361.2h.8M500.3 370.7h.8M519.2 359.0h.8M530.8 346.2h.8M514.0 357.0h.8M522.1 358.0h.8M514.1 353.3h.8M525.2 358.5h.8M521.7 345.1h.8M530.4 346.9h.8M516.2 351.1h.8M497.3 362.9h.8M507.0 359.6h.8M495.8 372.1h.8M518.2 360.4h.8M514.0 359.7h.8M530.9 346.8h.8" stroke="#6482b4" stroke-width="0.8" stroke-opacity="0.8" fill="none"/>
<path d="M485.8 367.9h.8M475.5 385.6h.8M482.4 369.9h.8M486.5 368.7h.8M493.9 372.6h.8M489.8 379.2h.8M482.5 384.5h.8M474.2 386.3h.8M478.0 384.8h.8M480.7 385.2h.8M480.9 385.6h.8M474.7 383.2h.8M486.3 382.1h.8M477.0 374.9h.8M491.2 368.4h.8M478.1 385.2h.8M485.8 368.6h.8M484.4 384.1h.8M480.8 384.5h.8M474.3 380.0h.8M488.0 379.4h.8M491.9 375.0h.8M480.6 371.0h.8M489.3 378.8h.8M493.1 371.7h.8M477.4 375.1h.8M481.1 385.2h.8M479.9 386.7h.8M487.0 382.3h.8M480.0 371.5h.8M478.8 386.8h.8M483.7 370.4h.8M487.2 381.0h.8M491.7 377.8h.8M482.0 372.3h.8M477.9 376.7h.8M482.1 386.0h.8M477.1 384.8h.8M479.9 374.6h.8M487.6 383.4h.8M492.0 370.0h.8M479.7 386.8h.8M492.5 374.7h.8M485.9 380.8h.8M491.9 369.4h.8M484.7 370.8h.8M492.9 369.7h.8M483.4 369.4h.8M476.9 387.3h.8M475.5 380.9h.8M476.8 386.1h.8M479.2 374.2h.8M477.8 386.4h.8M494.9 373.3h.8M485.3 369.9h.8M491.4 367.8h.8M486.6 381.0h.8M485.4 368.5h.8M491.6 370.1h.8M488.2 368.1h.8M493.2 371.1h.8M474.6 383.6h.8M475.4 380.9h.8M483.9 384.5h.8M474.7 385.7h.8M487.6 368.0h.8M484.7 370.8h.8M486.0 381.2h.8M478.0 385.2h.8M484.9 368.5h.8M475.0 380.0h.8M495.1 369.1h.8M483.5 386.0h.8M481.6 388.2h.8M495.2 372.1h.8M482.7 384.5h.8M481.5 371.6h.8M482.8 385.9h.8M475.2 378.8h.8M490.1 370.0h.8M476.6 386.2h.8M484.5 382.7h.8M476.6 375.2h.8M477.0 384.9h.8M481.0 386.8h.8M479.8 388.2h.8M476.7 385.4h.8M492.4 370.1h.8M490.3 368.3h.8M477.0 375.8h.8M486.8 381.1h.8M491.8 376.0h.8M476.0 385.1h.8M487.8 367.4h.8M481.5 372.1h.8M475.4 378.9h.8M494.2 369.8h.8M477.5 386.5h.8M489.4 369.0h.8M477.4 374.6h.8M489.5 368.5h.8M479.8 373.5h.8M490.2 378.4h.8M477.4 385.3h.8M477.0 375.6h.8M480.8 371.6h.8M478.4 387.1h.8M480.9 388.2h.8M485.6 367.6h.8M477.5 375.3h.8M480.3 384.7h.8M480.0 374.1h.8M481.6 385.1h.8M491.9 374.7h.8M489.8 379.6h.8M491.9 376.6h.8M475.3 383.7h.8M491.8 372.1h.8M477.5 384.7h.8M485.9 368.7h.8M488.7 367.5h.8M487.2 382.7h.8M477.3 385.1h.8M491.9 374.3h.8M480.9 388.0h.8M492.6 371.2h.8M491.0 370.3h.8M492.2 375.0h.8M491.6 377.7h.8M474.4 385.1h.8M485.5 369.3h.8M493.2 367.6h.8M493.1 367.5h.8M494.5 372.5h.8M493.3 374.5h.8M487.2 381.3h.8M477.7 385.2h.8M475.9 380.4h.8M480.1 372.5h.8M489.9 370.1h.8M477.1 387.0h.8M486.2 383.5h.8M485.9 369.7h.8M486.5 369.0h.8M492.6 367.6h.8M478.6 372.7h.8M493.1 368.7h.8M485.8 368.2h.8M493.0 376.0h.8M494.0 371.8h.8M478.8 371.0h.8M474.4 380.1h.8M476.6 374.5h.8M492.3 371.6h.8M477.5 388.3h.8M485.0 368.3h.8M476.5 374.6h.8M490.2 369.6h.8M484.3 370.1h.8M485.5 383.2h.8M475.1 383.9h.8M488.8 379.6h.8M481.0 386.6h.8M477.0 374.1h.8M492.5 373.5h.8M492.9 373.6h.8M477.7 376.6h.8M492.4 370.1h.8M492.1 369.5h.8M492.8 368.4h.8M476.6 374.6h.8M477.6 375.8h.8M479.9 374.7h.8M485.7 383.9h.8M481.4 385.5h.8M482.5 369.3h.8M485.3 383.2h.8M484.8 368.9h.8M480.9 372.8h.8M475.3 386.1h.8M476.0 384.1h.8M487.3 384.4h.8M484.5 367.5h.8M491.9 374.9h.8M488.2 380.2h.8M474.8 380.8h.8M482.5 370.9h.8M488.1 368.3h.8M481.4 371.1h.8M481.6 384.6h.8M494.8 372.0h.8M475.0 381.0h.8M474.5 382.1h.8M492.9 371.2h.8M479.9 372.8h.8M476.1 380.2h.8M492.6 369.3h.8M493.9 373.7h.8M495.5 369.3h.8M491.7 368.8h.8M494.5 369.4h.8M493.2 369.0h.8M493.5 376.6h.8M491.3 367.8h.8M484.1 368.3h.8M492.9 373.8h.8M494.6 373.9h.8M493.3 369.8h.8" stroke="#4a929c" stroke-width="0.8" stroke-opacity="0.85" fill="none"/>
<path d="M489.4 372.5h.8M478.4 382.6h.8M479.0 376.5h.8M476.7 377.4h.8M484.5 381.6h.8M488.1 372.1h.8M487.5 378.9h.8M486.6 369.6h.8M488.7 378.0h.8M478.7 376.4h.8M489.5 371.8h.8M477.9 384.1h.8M491.1 374.3h.8M480.0 376.7h.8M485.4 382.5h.8M488.2 377.8h.8M478.0 383.7h.8M479.1 382.9h.8M489.4 372.3h.8M480.0 374.8h.8M490.0 374.7h.8M480.7 373.4h.8M478.0 378.2h.8M480.6 373.2h.8M480.8 384.3h.8M477.6 381.7h.8M487.0 369.9h.8M479.8 384.2h.8M486.4 369.4h.8M476.9 379.2h.8M485.2 381.2h.8M484.3 382.4h.8M479.8 386.0h.8M491.5 373.4h.8M477.7 378.6h.8M480.4 383.9h.8M491.0 373.8h.8M476.2 382.9h.8M479.1 382.8h.8M477.8 381.1h.8M482.8 382.7h.8M478.4 383.5h.8M478.0 383.6h.8M481.1 374.8h.8M483.6 372.2h.8M476.5 379.3h.8M479.0 383.1h.8M488.0 371.4h.8M491.5 372.4h.8M485.9 379.8h.8M482.0 384.2h.8M483.3 384.1h.8M477.3 383.3h.8M479.0 385.4h.8M491.5 375.8h.8M483.1 382.8h.8M490.6 375.9h.8M479.3 384.7h.8M477.6 379.1h.8M481.8 384.4h.8M484.8 372.1h.8M479.1 382.9h.8M487.7 379.6h.8M484.4 380.8h.8M476.3 382.3h.8M477.8 379.6h.8M476.8 383.0h.8M485.2 381.1h.8M481.9 383.7h.8M477.0 379.7h.8M488.9 370.5h.8M476.2 382.1h.8M480.5 373.8h.8M489.9 375.8h.8M477.7 379.9h.8M477.0 380.7h.8M481.7 383.6h.8M483.2 384.2h.8M486.9 370.9h.8M479.1 384.6h.8M478.3 383.3h.8M478.7 382.5h.8M480.2 374.1h.8M479.9 384.4h.8M480.3 384.0h.8M480.1 372.9h.8M478.5 385.6h.8M479.5 384.3h.8M485.5 372.4h.8M488.3 369.8h.8M476.8 382.3h.8M491.1 373.9h.8M485.6 382.0h.8M486.4 369.8h.8M491.6 375.7h.8M491.1 376.3h.8M479.6 374.9h.8M479.7 383.7h.8M485.0 381.4h.8M483.2 383.9h.8M477.1 384.4h.8M477.1 382.6h.8M480.8 383.9h.8M480.9 383.5h.8M487.1 379.5h.8M481.3 384.3h.8M480.7 383.2h.8M491.4 371.8h.8M488.5 370.7h.8M484.7 371.6h.8M487.4 378.9h.8M489.1 372.8h.8M479.4 375.3h.8M490.9 372.1h.8M486.9 370.5h.8M476.2 382.9h.8M487.3 379.6h.8M490.6 373.5h.8M476.6 380.1h.8M486.8 369.9h.8M477.0 383.6h.8M490.4 373.3h.8M479.3 383.5h.8M491.7 372.8h.8M486.3 370.0h.8M490.1 374.0h.8M491.0 371.7h.8M490.1 371.3h.8M487.9 370.0h.8M480.0 376.0h.8M491.5 374.5h.8M488.9 371.3h.8M488.3 372.6h.8M485.5 372.8h.8M476.2 381.1h.8M489.3 372.3h.8M486.3 379.6h.8M488.7 376.8h.8M488.2 377.0h.8M490.3 371.9h.8M490.5 373.0h.8M490.8 374.2h.8M488.4 372.3h.8M489.4 370.5h.8M488.1 377.8h.8M477.8 381.2h.8M476.9 380.8h.8M477.6 383.0h.8M491.5 371.7h.8M485.0 371.2h.8M479.5 375.8h.8M482.1 372.4h.8M485.8 381.7h.8M491.2 371.9h.8M477.9 377.0h.8M490.1 372.9h.8M477.0 380.3h.8M476.7 380.8h.8M479.6 384.3h.8M486.3 379.6h.8M482.9 383.6h.8M477.7 381.9h.8M490.0 372.3h.8M489.3 369.5h.8M490.2 372.0h.8M482.7 371.1h.8M489.5 371.9h.8M489.0 376.8h.8M476.5 379.7h.8M491.1 371.4h.8M487.3 380.5h.8M481.8 373.9h.8M488.2 371.5h.8M478.1 375.4h.8M488.0 372.1h.8M487.5 370.0h.8M489.4 378.5h.8M486.8 369.3h.8M489.2 378.0h.8M482.2 372.6h.8M489.0 371.7h.8M478.1 375.3h.8M491.7 373.9h.8M487.7 370.9h.8" stroke="#6aac50" stroke-width="0.8" stroke-opacity="0.9" fill="none"/>
<path d="M483.1 380.9h.8M487.7 377.9h.8M479.1 379.9h.8M487.5 378.5h.8M478.7 377.6h.8M479.3 378.3h.8M488.0 373.4h.8M482.0 373.4h.8M484.9 379.5h.8M489.1 373.3h.8M488.0 373.5h.8M482.0 380.9h.8M488.8 374.8h.8M482.9 374.1h.8M478.9 380.4h.8M486.4 377.1h.8M483.7 381.9h.8M480.0 378.5h.8M479.8 377.0h.8M482.5 382.3h.8M478.6 377.2h.8M487.3 372.4h.8M482.4 373.9h.8M488.0 375.8h.8M478.9 380.7h.8M482.3 382.1h.8M480.1 375.4h.8M488.1 373.8h.8M484.2 379.5h.8M487.8 372.0h.8M482.7 373.5h.8M486.5 372.7h.8M483.7 373.1h.8M482.0 382.0h.8M489.5 373.6h.8M489.2 375.8h.8M480.5 374.9h.8M478.9 380.5h.8M479.5 380.3h.8M483.8 382.1h.8M486.5 377.4h.8M480.8 376.4h.8M481.4 376.7h.8M479.3 381.2h.8M488.3 375.3h.8M479.9 379.9h.8M488.8 372.9h.8M488.0 375.4h.8M478.9 378.5h.8M489.5 376.1h.8M481.1 376.0h.8M479.6 379.0h.8M483.9 380.7h.8M478.4 378.9h.8M479.2 379.4h.8M483.8 373.8h.8M481.8 376.2h.8M481.0 375.0h.8M486.5 372.2h.8M488.2 376.6h.8M479.3 379.2h.8M478.3 379.3h.8M487.7 377.6h.8M484.2 380.3h.8M478.6 379.1h.8M489.3 375.4h.8M484.3 379.9h.8M479.4 379.7h.8M479.6 379.9h.8M482.1 381.5h.8M482.8 373.4h.8M488.6 376.4h.8M483.1 373.5h.8M483.2 382.3h.8M487.4 376.9h.8M479.9 378.0h.8M487.9 376.6h.8M484.6 379.8h.8M480.2 375.6h.8M482.1 381.6h.8M479.8 381.5h.8M481.4 375.6h.8M478.5 381.1h.8M483.8 374.4h.8M482.2 382.4h.8M483.0 382.4h.8M478.7 381.9h.8M481.3 375.0h.8M478.2 381.9h.8M479.7 377.0h.8M488.1 373.1h.8M481.3 375.8h.8M485.4 379.5h.8M479.3 380.1h.8M489.3 374.2h.8M478.6 378.9h.8M479.6 380.1h.8M483.7 374.4h.8M484.0 379.7h.8M488.3 373.2h.8M481.0 375.5h.8M478.2 382.1h.8M485.6 379.6h.8M482.2 382.2h.8M488.6 374.7h.8M483.1 381.0h.8M487.4 372.8h.8M483.5 374.3h.8M489.4 376.5h.8M479.8 380.1h.8M479.9 379.0h.8M486.0 371.1h.8M480.5 375.1h.8M485.1 378.7h.8M482.1 374.2h.8M486.4 371.3h.8M482.3 374.6h.8M489.0 375.2h.8M482.5 372.9h.8M486.0 377.2h.8M486.0 372.1h.8M489.8 375.8h.8M488.1 376.2h.8M484.2 380.4h.8M479.7 377.3h.8M481.9 376.2h.8M480.1 375.1h.8M484.4 379.2h.8M483.5 381.2h.8M481.6 375.5h.8M486.4 371.7h.8M482.4 374.4h.8" stroke="#b9b93c" stroke-width="0.8" stroke-opacity="0.95" fill="none"/>
<path d="M487.2 372.9h.8M480.9 378.6h.8M486.0 376.5h.8M486.9 375.8h.8M487.6 374.5h.8M486.9 375.8h.8M484.9 376.6h.8M481.2 380.6h.8M481.8 378.2h.8M483.1 375.2h.8M480.8 378.6h.8M484.4 378.6h.8M486.2 374.2h.8M485.6 378.4h.8M480.2 377.6h.8M485.7 378.6h.8M485.1 375.8h.8M484.1 376.0h.8M480.1 378.5h.8M486.2 373.4h.8M486.8 375.9h.8M483.0 376.3h.8M481.8 381.1h.8M480.7 377.8h.8M486.3 374.1h.8M484.3 377.8h.8M481.0 378.3h.8M486.1 374.5h.8M480.4 381.1h.8M480.6 376.9h.8M486.4 376.0h.8M485.1 373.0h.8M481.6 382.4h.8M482.2 375.9h.8M485.6 375.0h.8M484.8 376.7h.8M485.7 378.3h.8M485.7 374.6h.8M480.5 378.6h.8M481.1 382.5h.8M485.4 375.1h.8M482.3 375.2h.8M482.8 376.7h.8M484.8 374.1h.8M486.0 373.1h.8M483.2 376.5h.8M483.7 376.0h.8M484.7 374.2h.8M485.8 376.3h.8M485.9 374.9h.8M484.8 377.3h.8M487.6 375.3h.8M484.7 378.1h.8M485.0 378.6h.8M485.9 374.5h.8M486.1 374.2h.8M485.7 374.6h.8M487.4 374.2h.8M484.5 373.8h.8M481.5 376.9h.8M485.7 376.5h.8M487.1 375.3h.8M484.0 374.0h.8M485.3 376.4h.8M481.9 378.6h.8M487.6 376.6h.8M481.0 382.0h.8M485.1 375.6h.8M486.8 373.7h.8M485.2 373.4h.8M486.5 375.3h.8M486.0 375.4h.8M480.6 377.1h.8M485.4 376.0h.8M485.7 376.3h.8M484.0 378.2h.8M481.5 377.1h.8M484.7 375.0h.8M484.4 377.5h.8M482.0 381.7h.8M487.4 376.0h.8M481.1 381.8h.8M486.5 376.3h.8M482.7 376.5h.8M485.2 376.7h.8M484.8 373.9h.8M487.8 373.8h.8M481.7 376.8h.8M481.2 381.0h.8M482.9 375.4h.8M485.0 375.2h.8M485.2 378.0h.8M487.0 374.5h.8M484.5 377.9h.8M480.9 380.7h.8M480.8 381.3h.8M484.0 374.1h.8M486.7 375.1h.8M485.0 372.9h.8M483.6 375.9h.8M481.0 381.1h.8M487.1 374.4h.8M485.8 373.2h.8M485.1 374.3h.8M487.7 373.7h.8M484.1 373.6h.8M486.0 374.9h.8M487.4 375.4h.8M484.6 376.3h.8M486.3 373.9h.8M487.6 375.4h.8M486.4 374.0h.8M481.6 377.7h.8M481.4 378.5h.8M485.3 374.6h.8M485.4 377.4h.8M481.7 377.2h.8M485.8 376.0h.8M484.8 373.1h.8M484.2 373.0h.8M484.6 378.0h.8M485.3 374.3h.8M486.9 373.4h.8M485.9 375.3h.8" stroke="#e0952c" stroke-width="0.8" stroke-opacity="1" fill="none"/>
<path d="M483.6 380.2h.8M482.5 377.2h.8M483.5 378.5h.8M481.7 380.1h.8M483.6 378.9h.8M481.8 379.0h.8M482.4 380.0h.8M481.7 379.0h.8M482.6 380.1h.8M482.6 378.9h.8M481.1 379.5h.8M482.4 379.5h.8M483.2 379.4h.8M483.1 378.6h.8M482.1 380.5h.8M483.6 377.7h.8M480.1 379.6h.8M480.4 379.0h.8M482.1 379.8h.8M482.8 379.6h.8M480.4 380.6h.8M483.6 378.7h.8M482.8 377.5h.8M483.1 379.0h.8M482.1 380.2h.8M482.4 380.2h.8M480.9 380.5h.8M482.2 380.1h.8M481.1 379.0h.8M483.8 380.1h.8M482.3 380.3h.8M483.2 378.7h.8M481.0 379.4h.8M481.0 379.6h.8M483.9 379.4h.8M482.3 377.3h.8M483.2 377.9h.8M482.3 378.6h.8M480.7 378.7h.8M481.0 379.4h.8M480.1 379.5h.8M480.7 380.2h.8M482.3 379.2h.8M481.7 380.3h.8M480.5 379.9h.8M482.6 377.5h.8M481.6 379.0h.8M481.0 379.0h.8M482.5 378.8h.8M481.8 379.4h.8M481.3 380.0h.8" stroke="#e0652a" stroke-width="0.8" stroke-opacity="1" fill="none"/>
<rect x="464.4" y="316.9" width="78.2" height="77.2" fill="none" stroke="#6a6a6a" stroke-width="0.8"/>
<line x1="496.0" y1="316.9" x2="496.0" y2="394.1" stroke="#4a4a4a" stroke-width="0.95"/>
<line x1="464.4" y1="366.1" x2="542.6" y2="366.1" stroke="#4a4a4a" stroke-width="0.95"/>
<text x="466.4" y="325.5" font-size="5.7" fill="#231f20" stroke="#231f20" stroke-width="0.18">1.50</text>
<text x="535.6" y="325.5" font-size="5.7" text-anchor="end" fill="#231f20" stroke="#231f20" stroke-width="0.18">17.3</text>
<text x="466.4" y="388.5" font-size="5.7" fill="#231f20" stroke="#231f20" stroke-width="0.18">72.7</text>
<text x="536.1" y="388.5" font-size="5.7" text-anchor="end" fill="#231f20" stroke="#231f20" stroke-width="0.18">8.54</text>
<text x="460.79999999999995" y="326.0" font-size="5.4" text-anchor="end" fill="#231f20" stroke="#231f20" stroke-width="0.18">10<tspan font-size="4.6" dy="-3.3">4</tspan></text>
<line x1="462.8" y1="318.3" x2="464.4" y2="318.3" stroke="#555" stroke-width="0.7"/>
<line x1="542.6" y1="318.3" x2="544.2" y2="318.3" stroke="#555" stroke-width="0.7"/>
<text x="460.79999999999995" y="340.1" font-size="5.4" text-anchor="end" fill="#231f20" stroke="#231f20" stroke-width="0.18">10<tspan font-size="4.6" dy="-3.3">3</tspan></text>
<line x1="462.8" y1="334.8" x2="464.4" y2="334.8" stroke="#555" stroke-width="0.7"/>
<line x1="542.6" y1="334.8" x2="544.2" y2="334.8" stroke="#555" stroke-width="0.7"/>
<text x="460.79999999999995" y="358.6" font-size="5.4" text-anchor="end" fill="#231f20" stroke="#231f20" stroke-width="0.18">10<tspan font-size="4.6" dy="-3.3">2</tspan></text>
<line x1="462.8" y1="353.3" x2="464.4" y2="353.3" stroke="#555" stroke-width="0.7"/>
<line x1="542.6" y1="353.3" x2="544.2" y2="353.3" stroke="#555" stroke-width="0.7"/>
<text x="460.79999999999995" y="379.3" font-size="5.4" text-anchor="end" fill="#231f20" stroke="#231f20" stroke-width="0.18">10<tspan font-size="4.6" dy="-3.3">1</tspan></text>
<line x1="462.8" y1="372.8" x2="464.4" y2="372.8" stroke="#555" stroke-width="0.7"/>
<line x1="542.6" y1="372.8" x2="544.2" y2="372.8" stroke="#555" stroke-width="0.7"/>
<text x="460.79999999999995" y="393.3" font-size="5.4" text-anchor="end" fill="#231f20" stroke="#231f20" stroke-width="0.18">10<tspan font-size="4.6" dy="-3.3">0</tspan></text>
<line x1="462.8" y1="394.3" x2="464.4" y2="394.3" stroke="#555" stroke-width="0.7"/>
<line x1="542.6" y1="394.3" x2="544.2" y2="394.3" stroke="#555" stroke-width="0.7"/>
<text x="470.6" y="404.5" font-size="5.4" text-anchor="middle" fill="#231f20" stroke="#231f20" stroke-width="0.18">10<tspan font-size="4.6" dy="-3.5">0</tspan></text>
<text x="487.8" y="404.5" font-size="5.4" text-anchor="middle" fill="#231f20" stroke="#231f20" stroke-width="0.18">10<tspan font-size="4.6" dy="-3.5">1</tspan></text>
<text x="506.6" y="404.5" font-size="5.4" text-anchor="middle" fill="#231f20" stroke="#231f20" stroke-width="0.18">10<tspan font-size="4.6" dy="-3.5">2</tspan></text>
<text x="525.4" y="404.5" font-size="5.4" text-anchor="middle" fill="#231f20" stroke="#231f20" stroke-width="0.18">10<tspan font-size="4.6" dy="-3.5">3</tspan></text>
<text x="538.0" y="404.5" font-size="5.4" text-anchor="middle" fill="#231f20" stroke="#231f20" stroke-width="0.18">10<tspan font-size="4.6" dy="-3.5">4</tspan></text>
<line x1="465.0" y1="394.1" x2="465.0" y2="395.7" stroke="#555" stroke-width="0.7"/>
<line x1="474.4" y1="394.1" x2="474.4" y2="395.7" stroke="#555" stroke-width="0.7"/>
<line x1="484.7" y1="394.1" x2="484.7" y2="395.7" stroke="#555" stroke-width="0.7"/>
<line x1="494.5" y1="394.1" x2="494.5" y2="395.7" stroke="#555" stroke-width="0.7"/>
<line x1="512.5" y1="394.1" x2="512.5" y2="395.7" stroke="#555" stroke-width="0.7"/>
<line x1="524.0" y1="394.1" x2="524.0" y2="395.7" stroke="#555" stroke-width="0.7"/>
<line x1="532.1" y1="394.1" x2="532.1" y2="395.7" stroke="#555" stroke-width="0.7"/>
<line x1="542.0" y1="394.1" x2="542.0" y2="395.7" stroke="#555" stroke-width="0.7"/>
<path d="M489.9 486.4h.8M472.8 474.0h.8M473.7 470.3h.8M474.3 477.0h.8M472.4 475.5h.8M473.2 484.6h.8M497.4 474.3h.8M472.6 479.0h.8M473.3 472.4h.8M474.6 480.3h.8M473.0 475.8h.8M473.4 471.6h.8M474.5 472.0h.8M482.4 451.3h.8M472.8 486.5h.8M477.8 465.1h.8M496.9 479.9h.8M481.8 460.4h.8M488.1 454.4h.8M492.0 456.7h.8M497.7 473.2h.8M468.0 481.9h.8M491.8 484.2h.8M496.3 478.6h.8M474.1 477.3h.8M494.2 482.7h.8M484.9 485.4h.8M476.9 458.8h.8M482.5 460.1h.8M502.0 470.1h.8M484.7 456.0h.8M497.5 481.1h.8M481.7 457.1h.8M496.4 474.4h.8M474.4 467.8h.8M489.6 483.7h.8M491.3 453.8h.8M493.5 480.3h.8M498.4 451.5h.8M492.7 454.9h.8M470.7 484.7h.8M484.2 457.5h.8M473.8 483.5h.8M501.7 470.8h.8M489.3 454.9h.8M473.3 475.7h.8M495.0 481.0h.8M475.3 486.0h.8M472.9 474.1h.8M478.3 457.4h.8M466.4 475.0h.8M494.3 448.4h.8M492.7 454.7h.8M476.8 468.2h.8M476.0 486.4h.8M504.3 464.5h.8M493.8 454.8h.8M485.4 456.5h.8M481.6 457.9h.8M478.5 465.0h.8M498.8 452.6h.8M482.4 455.8h.8M473.3 483.4h.8M493.5 450.6h.8M494.9 477.6h.8M505.4 443.7h.8M518.2 432.0h.8M540.1 432.4h.8M536.5 427.2h.8M516.2 427.2h.8M513.5 434.0h.8M538.8 444.5h.8M541.6 438.8h.8M538.4 423.1h.8M525.7 428.1h.8M540.6 430.8h.8M537.4 439.4h.8M517.2 438.5h.8M533.0 450.5h.8M524.6 434.6h.8M534.2 461.0h.8M532.4 452.9h.8M536.0 437.2h.8M535.8 453.4h.8M539.9 438.3h.8M538.6 432.7h.8M541.6 432.3h.8M538.5 436.9h.8M497.0 440.0h.8M539.7 445.4h.8M505.3 446.7h.8M501.7 433.5h.8M521.1 436.2h.8M538.0 437.2h.8M498.5 446.2h.8M519.3 439.1h.8M538.0 433.9h.8M528.9 453.1h.8M521.3 436.5h.8M514.3 432.0h.8M523.4 434.3h.8M522.4 434.0h.8M542.2 439.1h.8M534.5 449.4h.8M519.8 437.4h.8M528.6 435.2h.8M536.7 447.6h.8M537.3 444.3h.8M513.7 440.1h.8M532.2 459.4h.8M534.2 454.8h.8M523.9 429.9h.8M539.2 443.9h.8M518.2 435.4h.8M538.6 426.4h.8M503.6 442.5h.8M516.7 458.9h.8M524.2 435.8h.8M533.9 431.0h.8M541.9 447.2h.8M510.0 440.0h.8M533.8 451.0h.8M541.0 427.1h.8M537.8 463.3h.8M522.9 433.6h.8M533.8 435.9h.8M536.7 451.7h.8M528.7 464.3h.8M527.4 428.0h.8M535.2 433.6h.8M519.6 432.4h.8M538.5 429.8h.8M518.4 439.1h.8M531.0 451.7h.8M534.6 451.6h.8M524.1 456.8h.8M535.6 425.5h.8M523.6 458.4h.8M536.3 430.2h.8M533.0 432.0h.8M510.4 438.8h.8M524.1 437.3h.8M539.5 439.4h.8M511.0 461.8h.8M513.4 463.9h.8M508.8 445.6h.8M529.2 431.4h.8M533.7 450.8h.8M509.1 430.4h.8M514.5 437.6h.8M541.5 448.0h.8M512.2 426.5h.8M535.0 458.0h.8M539.6 442.1h.8M527.5 429.5h.8M529.3 453.3h.8M515.2 438.8h.8M508.5 461.4h.8M532.9 449.3h.8M521.2 437.1h.8M519.1 432.3h.8M536.7 448.8h.8M536.2 448.1h.8M536.9 446.2h.8M507.7 445.6h.8M537.9 430.4h.8M533.9 435.7h.8M532.3 433.5h.8M526.3 454.1h.8M526.4 435.8h.8M518.4 462.4h.8M522.4 458.0h.8M530.7 454.8h.8M512.5 439.7h.8M528.2 434.4h.8M520.4 433.0h.8M511.8 442.2h.8M521.1 461.0h.8M513.4 438.3h.8M538.3 443.8h.8M491.2 456.2h.8M520.0 459.5h.8M508.6 470.2h.8M540.3 442.6h.8M515.7 461.2h.8M505.8 468.0h.8M500.6 450.9h.8M523.8 455.9h.8M536.6 439.4h.8M475.4 467.0h.8M500.0 451.5h.8M512.5 462.7h.8M521.5 457.5h.8M507.4 461.0h.8M515.2 461.5h.8M506.4 461.3h.8M531.1 452.5h.8M505.9 465.1h.8M534.3 451.0h.8M520.3 457.8h.8M523.9 455.7h.8M501.7 448.3h.8M482.7 459.9h.8M506.9 468.5h.8M521.9 455.8h.8M537.8 425.4h.8M483.1 454.1h.8M511.0 461.3h.8M481.2 460.0h.8M515.1 464.6h.8M483.8 452.2h.8M509.5 445.9h.8M514.7 462.8h.8M507.8 460.8h.8M485.5 455.3h.8M498.0 451.1h.8M498.8 472.4h.8M509.3 461.6h.8M504.8 442.9h.8M505.6 443.8h.8M504.3 465.5h.8M479.1 461.5h.8M496.7 453.6h.8M538.8 438.0h.8M512.1 464.9h.8M513.7 470.5h.8M509.2 443.7h.8M501.9 445.5h.8M474.3 459.3h.8M497.4 446.6h.8M516.6 437.7h.8M506.7 462.4h.8M505.3 449.0h.8M514.5 461.6h.8M508.9 466.3h.8M516.0 459.0h.8M515.6 415.8h.8M504.9 425.7h.8M526.1 421.5h.8M501.1 417.7h.8M513.7 439.2h.8M522.6 417.9h.8M486.6 423.7h.8M520.8 427.0h.8M508.5 430.3h.8M483.6 424.3h.8M492.0 430.0h.8M505.1 440.5h.8" stroke="#93a5c6" stroke-width="0.8" stroke-opacity="0.8" fill="none"/>
<path d="M481.7 482.2h.8M483.0 484.6h.8M498.5 466.4h.8M494.6 474.2h.8M482.0 482.0h.8M494.4 469.8h.8M480.3 482.7h.8M480.1 480.3h.8M480.7 480.8h.8M491.1 476.4h.8M484.2 482.3h.8M478.9 481.9h.8M485.9 462.4h.8M476.7 476.6h.8M478.0 480.9h.8M484.5 485.8h.8M478.5 480.1h.8M483.6 481.2h.8M481.3 464.2h.8M478.2 479.3h.8M495.6 469.8h.8M477.1 482.4h.8M499.7 462.7h.8M486.5 480.3h.8M476.8 483.2h.8M491.3 477.4h.8M493.3 460.6h.8M483.1 481.2h.8M475.7 483.6h.8M478.5 478.3h.8M480.0 481.6h.8M496.6 465.9h.8M483.0 480.2h.8M485.3 482.7h.8M480.1 480.9h.8M484.6 480.5h.8M497.1 460.1h.8M477.0 470.9h.8M479.2 483.8h.8M493.5 472.7h.8M482.7 483.6h.8M485.1 482.8h.8M482.6 464.4h.8M498.7 455.4h.8M476.9 482.9h.8M490.7 477.3h.8M479.5 483.2h.8M481.7 485.4h.8M479.7 480.8h.8M481.1 481.5h.8M481.7 483.5h.8M479.2 483.8h.8M484.8 481.5h.8M476.7 478.0h.8M497.2 468.5h.8M480.5 467.6h.8M484.3 481.6h.8M494.0 458.8h.8M476.9 480.5h.8M480.1 480.6h.8M476.9 481.1h.8M485.1 481.0h.8M493.1 459.9h.8M487.2 483.1h.8M499.6 466.7h.8M499.9 467.6h.8M497.5 464.8h.8M498.3 466.1h.8M479.7 481.1h.8M475.4 472.2h.8M490.0 479.4h.8M497.2 470.0h.8M501.4 468.5h.8M502.5 462.2h.8M499.4 461.4h.8M479.1 467.9h.8M496.8 462.5h.8M477.4 471.3h.8M497.8 470.1h.8M476.4 480.6h.8M503.9 461.6h.8M499.0 464.3h.8M476.9 473.7h.8M486.6 460.1h.8M482.1 484.7h.8M487.7 481.4h.8M494.8 474.7h.8M497.2 465.7h.8M485.3 481.1h.8M488.6 479.5h.8M500.5 464.8h.8M490.6 458.2h.8M491.6 458.8h.8M482.8 483.1h.8M494.9 460.1h.8M476.0 473.0h.8M482.1 462.7h.8M492.0 458.6h.8M500.1 466.1h.8M492.9 476.2h.8M503.8 466.4h.8M493.2 475.8h.8M489.7 459.8h.8M489.8 458.5h.8M496.6 456.5h.8M475.3 474.6h.8M480.2 483.1h.8M494.9 475.4h.8M482.6 462.3h.8M494.1 460.7h.8M504.0 463.0h.8M485.9 483.0h.8M497.3 456.7h.8M487.4 459.2h.8M496.0 457.6h.8M494.2 475.0h.8M496.6 459.1h.8M487.0 459.0h.8M481.6 482.1h.8M494.5 470.6h.8M482.9 482.6h.8M488.5 460.3h.8M491.2 460.4h.8M499.5 461.4h.8M481.8 484.3h.8M483.8 459.6h.8M495.9 459.0h.8M497.0 462.4h.8M478.1 471.4h.8M500.3 455.8h.8M503.5 464.9h.8M503.7 457.5h.8M498.6 465.0h.8M495.9 471.0h.8M475.3 474.0h.8M498.9 457.4h.8M501.5 458.0h.8M500.7 457.7h.8M496.1 460.0h.8M484.6 480.5h.8M496.8 468.2h.8M497.2 463.0h.8M486.0 460.1h.8M498.5 457.6h.8M489.4 481.7h.8M492.6 476.9h.8M494.8 458.7h.8M478.1 470.4h.8M484.8 462.0h.8M494.4 475.2h.8M489.5 478.7h.8M499.7 455.2h.8M492.0 459.6h.8M497.1 460.4h.8M503.4 464.8h.8M497.3 467.1h.8M484.6 461.8h.8M497.0 462.9h.8M496.4 470.3h.8M477.7 481.1h.8M505.6 453.1h.8M476.9 481.3h.8M495.2 469.7h.8M490.7 480.2h.8M503.2 456.1h.8M475.7 469.5h.8M498.8 455.9h.8M485.7 460.0h.8M477.2 468.9h.8M482.6 462.9h.8M475.2 478.6h.8M497.1 468.5h.8M500.4 463.7h.8M481.3 465.1h.8M483.7 461.4h.8M491.6 459.0h.8M492.4 457.1h.8M480.4 468.4h.8M502.4 458.0h.8M497.0 457.9h.8M500.8 461.2h.8M476.2 479.6h.8M497.2 466.3h.8M483.2 485.4h.8M505.4 455.1h.8M498.7 456.7h.8M492.4 474.1h.8M492.6 473.1h.8M497.8 461.3h.8M491.6 479.2h.8M493.9 473.5h.8M484.4 462.3h.8M500.0 459.0h.8M476.8 483.1h.8M524.5 443.9h.8M518.7 456.9h.8M515.7 446.7h.8M519.4 443.4h.8M519.1 441.5h.8M516.2 445.7h.8M520.3 446.8h.8M528.2 445.3h.8M528.9 445.5h.8M526.1 443.4h.8M522.4 451.3h.8M507.3 456.6h.8M513.8 454.2h.8M534.7 446.8h.8M526.7 442.5h.8M515.2 443.6h.8M521.6 440.3h.8M519.3 442.7h.8M514.9 450.4h.8M527.3 443.4h.8M535.1 440.5h.8M517.8 445.5h.8M523.2 444.6h.8M527.9 439.6h.8M522.2 443.5h.8M510.7 446.7h.8M527.7 436.0h.8M531.4 440.7h.8M531.7 444.6h.8M520.4 448.0h.8M521.8 445.8h.8M517.3 457.1h.8M518.1 452.1h.8M516.4 448.9h.8M527.4 450.8h.8M518.9 453.0h.8M516.5 456.0h.8M511.7 447.0h.8M526.4 440.1h.8M515.6 450.3h.8M513.3 454.4h.8M526.2 439.7h.8M536.8 445.0h.8M516.2 447.5h.8M514.4 454.0h.8M523.1 440.6h.8M519.0 450.1h.8M513.5 459.1h.8M509.7 452.9h.8M519.1 452.1h.8M532.8 444.0h.8M517.8 439.9h.8M507.0 454.7h.8M529.8 439.5h.8M526.6 446.9h.8M520.6 444.0h.8M522.7 441.5h.8M530.5 434.2h.8M517.2 441.2h.8M521.3 444.7h.8M523.1 436.8h.8M514.0 442.2h.8M519.5 457.3h.8M531.4 438.4h.8M524.7 445.9h.8M536.3 442.5h.8M525.1 444.0h.8M511.5 447.6h.8M510.6 458.1h.8M529.4 434.5h.8M530.4 438.2h.8M519.3 449.4h.8M522.8 444.4h.8M520.3 451.3h.8M504.6 451.2h.8M507.4 449.4h.8M530.8 434.6h.8M525.0 445.3h.8M515.1 453.4h.8M527.3 441.5h.8M534.2 440.6h.8M521.8 454.6h.8M518.6 449.3h.8M525.7 451.6h.8M536.1 440.0h.8M516.9 447.9h.8M510.6 459.4h.8M520.6 445.4h.8M526.6 450.3h.8M519.2 439.8h.8M522.4 438.0h.8M510.3 446.5h.8M521.4 454.9h.8M534.5 444.6h.8M515.0 449.8h.8M522.9 450.5h.8M515.3 442.3h.8M524.8 441.8h.8M537.1 440.1h.8M518.2 453.0h.8M518.2 443.9h.8M511.0 446.9h.8M523.3 442.5h.8M533.2 437.3h.8M526.7 443.1h.8M530.7 447.7h.8M522.1 447.2h.8M526.6 442.1h.8M520.3 444.8h.8M511.6 451.7h.8M526.2 447.8h.8M533.6 447.1h.8M527.7 449.9h.8M516.2 440.6h.8M532.3 434.6h.8M514.3 455.2h.8M525.1 437.7h.8M525.8 439.3h.8M523.7 446.8h.8M515.1 458.2h.8M512.0 458.0h.8M523.7 443.3h.8M506.4 458.4h.8M519.7 446.5h.8M518.9 446.3h.8M535.6 441.0h.8M529.4 444.0h.8M531.6 437.0h.8M513.8 448.3h.8M516.2 448.6h.8M516.7 454.4h.8M534.5 438.2h.8M529.3 436.2h.8M507.4 455.4h.8M516.9 440.1h.8M530.1 448.5h.8M502.0 454.5h.8M532.7 436.6h.8M525.9 445.9h.8M523.9 443.0h.8M508.6 454.9h.8M517.9 443.7h.8M521.2 441.9h.8M537.1 442.6h.8M535.8 444.5h.8M525.4 452.2h.8M524.2 442.5h.8M518.0 451.7h.8M530.0 440.7h.8M519.9 442.1h.8M523.1 447.6h.8M527.0 440.2h.8M523.3 441.7h.8M529.4 443.5h.8M525.8 441.0h.8M525.2 439.6h.8M523.6 443.3h.8M524.7 450.8h.8M524.9 439.2h.8M519.7 448.8h.8M531.1 435.0h.8M525.3 446.2h.8M513.6 443.9h.8M530.9 443.8h.8M531.1 439.6h.8M516.7 441.8h.8M516.9 447.3h.8M503.1 452.3h.8M522.4 441.1h.8M519.4 458.3h.8M529.1 447.6h.8M534.2 441.7h.8M534.1 439.5h.8M520.4 444.5h.8M509.0 450.0h.8M513.0 450.7h.8M520.4 444.0h.8M509.2 452.6h.8M535.1 439.9h.8M525.7 447.0h.8M517.7 450.4h.8M519.3 444.1h.8M515.7 444.6h.8M524.1 444.1h.8M503.7 459.8h.8M535.7 441.4h.8M522.5 445.6h.8M516.3 442.9h.8M519.5 453.7h.8M517.8 450.2h.8M521.4 445.8h.8M498.1 459.7h.8M519.4 456.0h.8M500.7 465.6h.8M523.5 448.6h.8M527.8 445.0h.8M523.4 448.0h.8M512.4 454.5h.8M500.9 453.0h.8M509.7 449.4h.8M520.0 447.2h.8M506.8 450.8h.8M508.6 456.5h.8M517.2 447.2h.8M528.9 446.6h.8M523.1 446.6h.8M480.5 467.3h.8M514.2 456.0h.8M497.2 461.9h.8M518.1 453.5h.8M519.7 443.1h.8M500.9 455.6h.8M512.7 452.3h.8M532.2 444.8h.8M512.8 451.8h.8M498.8 457.1h.8M505.4 453.8h.8M520.6 449.1h.8M494.4 460.6h.8M498.0 465.5h.8M527.9 446.4h.8M519.2 455.4h.8M503.1 459.7h.8M512.6 460.2h.8M515.2 455.3h.8M519.7 449.7h.8M513.0 449.7h.8M526.4 447.7h.8M510.6 455.2h.8M509.1 457.5h.8M504.4 450.1h.8M527.4 449.8h.8M511.5 451.3h.8M495.2 458.0h.8M523.1 451.5h.8M529.7 438.2h.8M509.5 457.8h.8M518.7 457.2h.8M501.3 452.8h.8M523.2 439.6h.8M510.8 459.9h.8M531.0 435.4h.8M504.8 451.6h.8M501.7 462.0h.8M505.2 457.7h.8M518.4 456.7h.8M522.9 446.3h.8M506.4 451.9h.8M510.2 451.2h.8M521.3 451.5h.8M511.0 452.5h.8M508.6 451.9h.8M515.5 455.7h.8M529.2 440.5h.8M502.6 453.3h.8M530.3 439.0h.8M503.6 458.3h.8M503.2 454.7h.8M510.5 454.3h.8M493.0 475.0h.8M514.9 450.0h.8M504.1 461.0h.8M493.6 459.1h.8M516.7 448.8h.8M510.2 454.7h.8M513.5 452.2h.8M508.5 458.7h.8M488.5 482.7h.8M524.8 446.2h.8M513.9 454.4h.8M502.8 454.1h.8M511.9 457.0h.8M500.9 463.2h.8M510.0 458.8h.8M520.0 449.4h.8M506.9 458.6h.8M499.0 463.0h.8M512.6 449.7h.8M499.7 459.2h.8M524.5 451.9h.8M501.7 453.3h.8M509.6 451.9h.8M496.0 457.6h.8M498.1 466.8h.8M526.2 438.6h.8M490.0 458.9h.8M513.8 453.5h.8M520.8 447.2h.8M520.9 446.6h.8M515.1 443.8h.8M525.1 448.4h.8M532.9 446.4h.8M513.1 447.2h.8M489.4 459.9h.8M498.9 460.7h.8M517.8 447.3h.8M520.7 451.2h.8M525.6 444.1h.8M515.1 460.8h.8M518.8 456.0h.8M502.3 451.4h.8M531.0 433.7h.8M509.3 454.6h.8M524.6 451.2h.8M527.8 441.8h.8M517.7 453.2h.8M516.2 448.7h.8M512.8 444.1h.8M518.8 448.8h.8M519.0 446.3h.8M499.7 470.3h.8M503.6 460.7h.8M505.3 450.4h.8M512.3 441.9h.8M493.2 459.6h.8M525.9 445.7h.8M523.5 442.1h.8M515.8 446.3h.8M512.5 450.2h.8M494.8 459.0h.8M513.2 452.2h.8M528.8 449.4h.8M516.2 447.7h.8M512.4 450.1h.8M502.3 460.3h.8M504.3 453.2h.8M487.5 459.5h.8M506.0 451.4h.8M513.7 456.7h.8M508.3 458.7h.8M525.3 445.6h.8M507.6 455.8h.8M492.9 477.8h.8M532.1 445.6h.8M499.1 457.4h.8M520.1 446.7h.8M509.5 457.7h.8M514.9 447.7h.8M511.7 457.8h.8M512.9 449.8h.8M510.4 446.1h.8M503.1 454.7h.8M517.8 441.9h.8M510.5 453.1h.8M522.6 442.8h.8M515.0 455.0h.8M501.0 458.1h.8M524.7 451.7h.8M506.4 459.0h.8M502.0 455.9h.8M496.2 468.9h.8M506.1 456.5h.8M513.4 455.7h.8M500.3 460.5h.8M509.2 452.3h.8M530.8 444.1h.8M502.7 455.0h.8M528.2 442.1h.8M505.6 455.1h.8M500.7 466.8h.8M504.5 453.1h.8M511.9 452.4h.8M526.4 445.2h.8M512.0 453.1h.8M515.6 450.5h.8M522.7 452.9h.8M512.3 456.9h.8M503.8 458.3h.8M519.7 442.7h.8M512.7 445.2h.8M503.2 452.7h.8M515.4 455.7h.8M509.0 455.3h.8M492.5 459.0h.8M514.0 443.2h.8M520.9 446.6h.8M503.3 452.8h.8M520.2 447.0h.8M507.5 453.6h.8M523.9 454.2h.8M513.3 456.3h.8M517.4 447.7h.8M511.6 453.9h.8M518.6 445.6h.8M536.6 442.5h.8M500.8 462.3h.8M516.4 453.3h.8M519.7 452.4h.8M503.1 451.5h.8M510.9 451.5h.8M500.2 455.2h.8M501.0 456.0h.8M513.1 452.3h.8M515.7 448.4h.8M514.2 455.4h.8M501.5 457.9h.8M528.4 447.3h.8M532.0 445.7h.8M521.8 452.1h.8M498.8 458.6h.8M508.6 447.3h.8M500.0 459.4h.8M516.2 446.6h.8M524.5 445.3h.8M499.8 456.7h.8M511.6 460.6h.8M511.0 458.3h.8M518.5 452.0h.8M502.5 455.7h.8M506.0 451.1h.8M513.7 444.2h.8M521.7 437.0h.8" stroke="#6482b4" stroke-width="0.8" stroke-opacity="0.8" fill="none"/>
<path d="M491.6 472.1h.8M491.0 475.3h.8M488.1 478.3h.8M479.7 477.8h.8M478.5 475.8h.8M481.6 466.8h.8M480.8 467.4h.8M478.2 476.4h.8M483.8 464.2h.8M485.4 464.5h.8M487.4 476.3h.8M490.7 475.3h.8M482.8 479.2h.8M490.8 464.4h.8M487.1 477.7h.8M478.5 475.8h.8M492.2 463.4h.8M494.9 466.8h.8M483.8 479.6h.8M492.6 468.2h.8M493.0 470.9h.8M492.7 465.6h.8M479.9 476.3h.8M478.7 475.7h.8M480.6 477.8h.8M479.7 479.1h.8M491.3 472.6h.8M483.5 479.2h.8M494.3 465.9h.8M479.1 473.3h.8M491.6 472.6h.8M485.2 463.7h.8M478.1 473.0h.8M483.7 465.7h.8M479.9 478.8h.8M482.7 468.2h.8M480.7 472.6h.8M481.4 479.1h.8M478.1 475.0h.8M494.7 461.5h.8M483.6 466.0h.8M486.9 476.4h.8M485.5 464.1h.8M491.8 471.4h.8M494.4 465.5h.8M486.5 463.0h.8M479.0 468.7h.8M484.2 478.7h.8M493.4 462.4h.8M492.5 467.1h.8M478.6 475.7h.8M491.5 476.0h.8M490.9 471.3h.8M488.4 476.9h.8M480.2 473.2h.8M489.3 462.4h.8M495.3 466.9h.8M480.1 477.0h.8M493.7 464.8h.8M486.1 463.5h.8M483.6 480.2h.8M479.1 472.6h.8M478.8 475.3h.8M491.0 462.9h.8M477.5 477.7h.8M477.0 476.8h.8M480.5 473.8h.8M478.9 472.9h.8M494.6 467.1h.8M490.2 476.7h.8M491.5 463.8h.8M491.6 461.0h.8M493.1 464.8h.8M491.1 463.4h.8M487.3 476.6h.8M492.2 464.5h.8M487.5 476.4h.8M492.5 461.8h.8M479.0 478.6h.8M492.6 467.3h.8M479.4 477.5h.8M483.9 466.1h.8M493.2 467.9h.8M484.6 465.2h.8M486.8 478.1h.8M495.7 462.6h.8M480.5 479.1h.8M494.2 467.5h.8M485.6 479.0h.8M482.9 479.4h.8M479.4 469.3h.8M480.6 477.9h.8M492.1 461.6h.8M480.3 477.2h.8M480.7 471.4h.8M485.5 478.7h.8M489.0 477.0h.8M482.8 465.7h.8M477.2 476.9h.8M486.3 480.1h.8M488.0 476.5h.8M487.3 476.4h.8M492.5 464.3h.8M482.9 465.5h.8M486.3 464.6h.8M479.1 471.8h.8M492.8 469.6h.8M496.0 466.3h.8M479.6 478.9h.8M492.3 473.4h.8M492.5 468.6h.8M478.1 472.4h.8M485.8 478.4h.8M484.2 465.8h.8M491.6 461.4h.8M494.4 465.1h.8M485.1 480.1h.8M493.0 469.7h.8M492.8 461.1h.8M491.8 463.1h.8M484.9 463.7h.8M490.5 470.8h.8M484.0 466.5h.8M490.9 472.5h.8M480.0 469.8h.8M478.9 468.9h.8M480.7 476.6h.8M496.0 461.1h.8M484.5 465.3h.8M493.1 466.6h.8M491.7 474.0h.8M491.0 476.0h.8M479.8 472.2h.8M477.3 473.8h.8M485.2 463.0h.8M494.8 464.9h.8M477.7 475.2h.8M488.5 478.6h.8M494.3 461.3h.8M480.7 472.9h.8M496.0 466.0h.8M480.6 470.6h.8M480.4 479.1h.8M492.5 461.2h.8M493.7 466.8h.8M492.8 466.0h.8M481.9 467.9h.8M480.7 473.7h.8M494.3 470.1h.8M495.1 463.4h.8M493.0 462.8h.8M492.9 471.8h.8M492.9 472.3h.8M478.8 476.5h.8M493.1 470.7h.8M493.8 465.8h.8M493.0 470.2h.8M488.0 461.7h.8M482.9 478.6h.8M492.3 476.2h.8M493.1 465.0h.8M485.4 464.5h.8M495.4 463.5h.8M480.3 470.5h.8M492.4 461.2h.8M484.9 463.9h.8M493.3 464.8h.8M494.1 469.2h.8M488.3 479.1h.8M495.6 466.2h.8M494.4 466.3h.8M486.8 461.7h.8M494.9 464.8h.8M496.2 466.0h.8M496.0 466.0h.8M495.7 463.2h.8M487.8 477.4h.8M484.9 463.3h.8M487.6 477.1h.8M491.3 474.8h.8M488.9 477.9h.8M495.3 465.1h.8M491.7 471.9h.8M486.7 462.5h.8M496.1 461.6h.8M481.5 478.5h.8M493.7 467.1h.8M493.2 471.7h.8M495.4 465.2h.8M491.5 462.2h.8M493.0 461.6h.8M492.8 468.8h.8M491.0 473.7h.8M495.0 462.5h.8M495.6 463.0h.8M493.2 461.5h.8M478.7 477.3h.8M489.8 462.5h.8M478.3 473.4h.8M487.6 480.1h.8M492.0 461.3h.8M491.4 476.1h.8M496.0 467.1h.8M491.2 474.8h.8M516.9 451.7h.8M491.3 471.9h.8M514.4 452.2h.8M514.2 451.0h.8M515.0 451.7h.8M492.3 471.8h.8M516.1 452.7h.8M516.4 452.6h.8M516.0 451.4h.8M515.1 451.3h.8M491.4 464.4h.8M492.9 463.5h.8M491.0 461.7h.8M494.7 467.9h.8M516.7 450.0h.8M492.6 466.3h.8M483.6 464.2h.8M478.1 473.5h.8M517.6 451.6h.8M494.2 463.9h.8M493.3 462.2h.8M492.6 461.4h.8M480.1 471.1h.8M516.3 450.1h.8M480.5 471.8h.8M517.5 451.6h.8M516.5 451.3h.8M514.8 452.5h.8M495.9 464.1h.8M493.8 464.0h.8M516.7 450.8h.8M491.3 463.7h.8M516.8 451.2h.8M493.6 464.5h.8M514.4 451.2h.8M495.1 460.9h.8M517.6 450.7h.8" stroke="#4a929c" stroke-width="0.8" stroke-opacity="0.85" fill="none"/>
<path d="M489.6 470.1h.8M488.1 463.5h.8M484.5 477.3h.8M490.0 466.3h.8M482.5 471.3h.8M491.6 467.5h.8M488.1 465.5h.8M489.7 475.1h.8M481.6 477.4h.8M481.4 477.4h.8M488.1 466.4h.8M485.0 476.3h.8M488.6 466.3h.8M480.3 476.1h.8M482.1 470.8h.8M491.7 469.6h.8M482.5 478.2h.8M488.6 473.8h.8M482.1 472.0h.8M480.2 475.7h.8M489.7 465.4h.8M481.4 471.7h.8M489.7 475.6h.8M490.1 465.4h.8M488.5 465.4h.8M489.5 468.8h.8M488.5 466.2h.8M481.7 472.2h.8M491.1 468.8h.8M484.3 476.5h.8M488.9 475.5h.8M480.4 475.6h.8M480.8 474.6h.8M486.2 476.5h.8M490.4 465.0h.8M490.4 472.8h.8M487.0 465.3h.8M488.7 466.9h.8M484.9 476.8h.8M482.9 467.6h.8M482.7 477.4h.8M489.6 469.9h.8M479.4 475.9h.8M484.6 468.1h.8M490.0 475.0h.8M482.7 469.7h.8M485.7 466.4h.8M486.9 466.3h.8M481.0 474.8h.8M490.3 470.9h.8M488.7 467.7h.8M481.9 476.6h.8M487.9 465.9h.8M489.0 473.8h.8M485.5 478.1h.8M489.2 471.5h.8M480.4 475.7h.8M485.0 476.3h.8M491.5 468.1h.8M482.1 476.4h.8M489.2 462.8h.8M482.0 469.4h.8M489.5 468.1h.8M483.1 467.3h.8M489.8 466.8h.8M488.7 471.5h.8M480.5 476.2h.8M488.2 465.6h.8M488.0 463.7h.8M490.7 466.6h.8M480.2 475.5h.8M489.3 473.2h.8M483.1 477.6h.8M491.7 467.6h.8M487.9 463.7h.8M490.3 472.6h.8M487.6 466.5h.8M486.9 465.5h.8M486.4 465.3h.8M489.9 469.2h.8M485.5 466.1h.8M479.6 475.2h.8M490.9 469.9h.8M489.2 467.3h.8M490.4 474.7h.8M489.3 470.9h.8M488.8 476.1h.8M491.1 465.8h.8M481.4 477.7h.8M488.8 474.2h.8M484.3 476.5h.8M489.4 474.8h.8M480.6 475.9h.8M488.6 467.6h.8M490.7 469.5h.8M481.4 477.0h.8M481.3 470.1h.8M490.9 469.0h.8M482.8 466.9h.8M489.9 471.2h.8M489.1 475.3h.8M488.9 473.5h.8M483.4 468.5h.8M481.8 469.4h.8M489.1 466.0h.8M481.4 469.6h.8M488.8 475.1h.8M482.2 476.3h.8M488.8 471.5h.8M482.2 471.6h.8M489.5 464.0h.8M482.3 472.1h.8M486.8 465.1h.8M487.8 463.5h.8M490.2 463.4h.8M482.3 474.4h.8M481.2 474.4h.8M489.3 469.1h.8M489.5 470.1h.8M490.6 467.6h.8M489.7 473.9h.8M487.9 465.9h.8M489.8 469.3h.8M481.8 468.6h.8M490.7 469.0h.8M481.6 472.3h.8M489.6 476.2h.8M489.1 471.7h.8M484.5 476.9h.8M484.5 477.5h.8M491.4 464.8h.8M484.4 478.1h.8M490.8 465.3h.8M490.1 472.7h.8M483.9 467.3h.8M481.0 472.0h.8M491.3 470.4h.8M492.3 470.0h.8M489.4 475.1h.8M482.7 477.0h.8M489.5 467.1h.8M482.2 471.0h.8M486.3 465.4h.8M487.5 463.3h.8M490.2 462.8h.8M489.3 468.9h.8M487.4 464.6h.8M486.9 466.4h.8M482.6 476.8h.8M486.2 466.2h.8M488.7 473.4h.8M487.4 463.8h.8M490.7 466.4h.8M490.3 469.9h.8M488.9 474.3h.8M491.8 466.2h.8M489.7 470.6h.8M491.2 465.4h.8M488.6 472.9h.8M488.9 474.2h.8M490.5 466.7h.8M489.3 469.2h.8M488.9 466.5h.8M489.7 466.1h.8M485.7 466.5h.8M486.9 464.3h.8M489.4 465.5h.8M485.4 477.5h.8M488.1 464.4h.8M489.2 474.8h.8M488.7 470.2h.8M480.9 477.2h.8M492.3 467.5h.8M482.4 468.6h.8M490.1 464.6h.8M489.0 473.4h.8M487.5 466.0h.8M482.9 467.9h.8M488.4 466.0h.8M481.6 474.4h.8M491.8 468.1h.8M488.7 476.0h.8M489.9 465.9h.8M491.9 468.8h.8M489.3 468.7h.8M484.6 467.1h.8M488.7 470.2h.8M487.1 463.4h.8M480.2 475.4h.8M482.3 476.8h.8M491.7 468.4h.8M487.3 463.5h.8M489.1 464.8h.8M489.4 476.2h.8M482.7 469.3h.8M482.3 477.8h.8M482.0 478.0h.8M483.3 467.5h.8M484.8 465.0h.8M490.3 466.7h.8M492.1 465.6h.8M481.3 469.2h.8M490.2 474.4h.8M489.3 473.0h.8M489.4 465.0h.8M480.6 475.6h.8M491.9 466.4h.8M487.5 463.1h.8M490.0 464.0h.8M488.1 466.0h.8M489.7 463.5h.8M492.3 466.9h.8M479.8 476.1h.8M486.6 463.1h.8M485.0 465.2h.8M486.3 465.8h.8" stroke="#6aac50" stroke-width="0.8" stroke-opacity="0.9" fill="none"/>
<path d="M486.5 467.8h.8M485.4 467.4h.8M482.1 474.2h.8M487.0 475.0h.8M488.4 466.9h.8M481.1 474.3h.8M483.3 476.3h.8M488.0 474.2h.8M485.7 476.1h.8M482.6 474.3h.8M487.1 470.0h.8M487.6 468.2h.8M481.5 472.7h.8M482.8 475.5h.8M480.8 473.2h.8M485.6 466.6h.8M487.8 467.9h.8M487.3 470.2h.8M486.6 468.7h.8M488.4 470.0h.8M487.1 469.7h.8M487.1 470.2h.8M483.2 475.4h.8M487.1 476.3h.8M484.5 476.2h.8M488.2 473.3h.8M487.5 473.2h.8M483.3 469.3h.8M483.0 469.0h.8M487.2 466.8h.8M482.9 475.4h.8M485.1 475.8h.8M484.3 474.6h.8M488.4 470.0h.8M484.1 475.1h.8M484.6 475.9h.8M484.0 469.3h.8M488.0 470.5h.8M485.8 474.5h.8M484.8 475.8h.8M486.5 475.3h.8M488.1 467.7h.8M483.1 474.5h.8M481.7 473.4h.8M488.2 467.1h.8M486.3 475.6h.8M488.3 476.0h.8M481.8 472.8h.8M484.4 475.8h.8M484.6 468.7h.8M488.0 474.9h.8M484.7 475.8h.8M487.0 474.8h.8M486.5 476.0h.8M487.3 469.6h.8M485.8 475.1h.8M484.4 470.4h.8M488.4 467.6h.8M487.9 470.3h.8M481.1 474.2h.8M487.7 470.4h.8M486.5 467.4h.8M485.1 474.5h.8M483.7 469.4h.8M488.0 474.0h.8M487.2 470.0h.8M483.0 468.8h.8M485.4 468.5h.8M486.5 466.7h.8M487.1 469.6h.8M486.9 472.7h.8M485.4 466.7h.8M483.8 470.4h.8M486.9 469.3h.8M481.5 474.1h.8M488.1 476.1h.8M485.1 476.0h.8M487.9 467.0h.8M483.9 475.2h.8M486.8 474.0h.8M487.1 467.4h.8M486.8 469.1h.8M485.5 476.1h.8M487.8 474.0h.8M487.2 475.1h.8M483.4 475.6h.8M483.0 475.2h.8M483.8 475.0h.8M482.9 475.7h.8M482.9 475.0h.8M484.2 475.9h.8M484.7 475.3h.8M486.9 474.4h.8M486.0 474.7h.8M487.5 470.3h.8M488.4 469.1h.8M486.8 476.3h.8M485.5 467.2h.8M484.0 475.2h.8M486.9 473.1h.8M482.7 474.0h.8M488.5 466.8h.8M484.3 475.1h.8M487.0 475.9h.8M487.8 472.6h.8M487.3 474.0h.8M483.7 468.7h.8M484.4 468.6h.8M483.8 470.3h.8M486.0 476.1h.8M484.0 476.0h.8M487.1 475.9h.8M487.7 473.4h.8M485.3 468.2h.8M488.4 467.8h.8M488.3 468.5h.8M488.3 473.2h.8M487.9 476.1h.8M485.7 474.9h.8M487.8 473.0h.8M488.0 467.0h.8M487.0 468.5h.8M487.0 470.3h.8" stroke="#b9b93c" stroke-width="0.8" stroke-opacity="0.95" fill="none"/>
<path d="M484.2 472.6h.8M483.8 474.2h.8M484.5 472.0h.8M486.5 469.2h.8M483.8 472.5h.8M484.3 474.3h.8M487.0 471.7h.8M486.3 472.6h.8M484.5 471.4h.8M484.0 470.6h.8M484.5 473.5h.8M484.9 469.7h.8M484.8 470.1h.8M484.2 471.9h.8M486.5 473.8h.8M486.2 473.4h.8M485.1 473.6h.8M482.7 474.1h.8M485.7 468.9h.8M485.0 474.0h.8M487.2 471.5h.8M485.2 472.9h.8M483.7 472.3h.8M482.9 472.1h.8M485.6 469.0h.8M485.8 474.0h.8M482.7 474.1h.8M483.4 471.8h.8M483.8 471.7h.8M483.5 474.3h.8M483.3 470.5h.8M482.8 473.8h.8M484.3 471.1h.8M483.0 472.3h.8M483.8 471.3h.8M486.0 469.1h.8M488.0 470.9h.8M484.6 472.2h.8M484.3 474.3h.8M486.2 474.0h.8M484.8 470.4h.8M485.0 470.0h.8M485.4 469.0h.8M483.5 474.2h.8M487.0 471.6h.8M486.9 471.4h.8M487.8 471.8h.8M486.1 468.6h.8M483.7 473.3h.8M487.0 470.8h.8M486.0 468.7h.8M483.7 472.6h.8M484.1 472.2h.8M485.5 473.9h.8M484.9 470.4h.8M484.4 470.9h.8M486.5 474.0h.8M486.2 469.0h.8M485.3 473.1h.8M482.8 471.2h.8M483.9 472.0h.8M486.3 468.7h.8M485.4 469.0h.8M487.3 472.2h.8M486.0 468.8h.8M486.3 474.0h.8M484.1 474.0h.8M483.6 471.3h.8M486.2 472.7h.8M484.2 473.6h.8M483.9 471.3h.8M487.7 472.3h.8M483.9 471.5h.8M484.2 472.5h.8M482.9 470.7h.8M483.4 471.5h.8M484.8 470.3h.8M484.2 472.6h.8M488.3 472.3h.8M487.3 470.5h.8M483.9 471.6h.8M488.5 472.0h.8M483.1 472.5h.8M483.0 472.0h.8M484.5 471.5h.8M484.4 472.2h.8M485.0 469.1h.8" stroke="#e0952c" stroke-width="0.8" stroke-opacity="1" fill="none"/>
<path d="M485.9 471.7h.8M485.4 470.9h.8M486.4 471.4h.8M485.3 472.3h.8M486.5 472.3h.8M486.0 471.3h.8M485.7 472.3h.8M485.1 471.6h.8M484.8 470.8h.8M484.8 470.6h.8M485.4 470.8h.8M484.9 471.4h.8M485.7 470.6h.8M486.2 472.2h.8M486.2 472.1h.8M485.8 471.9h.8M484.9 471.2h.8M485.6 471.1h.8M485.1 470.6h.8M485.3 471.5h.8" stroke="#e0652a" stroke-width="0.8" stroke-opacity="1" fill="none"/>
<rect x="465.2" y="410.2" width="77.8" height="77.8" fill="none" stroke="#6a6a6a" stroke-width="0.8"/>
<line x1="496.3" y1="410.2" x2="496.3" y2="488.0" stroke="#4a4a4a" stroke-width="0.95"/>
<line x1="465.2" y1="459.1" x2="543.0" y2="459.1" stroke="#4a4a4a" stroke-width="0.95"/>
<text x="467.2" y="418.8" font-size="5.7" fill="#231f20" stroke="#231f20" stroke-width="0.18">1.62</text>
<text x="536.0" y="418.8" font-size="5.7" text-anchor="end" fill="#231f20" stroke="#231f20" stroke-width="0.18">20.6</text>
<text x="467.2" y="482.4" font-size="5.7" fill="#231f20" stroke="#231f20" stroke-width="0.18">68.0</text>
<text x="536.5" y="482.4" font-size="5.7" text-anchor="end" fill="#231f20" stroke="#231f20" stroke-width="0.18">9.82</text>
<text x="461.59999999999997" y="419.3" font-size="5.4" text-anchor="end" fill="#231f20" stroke="#231f20" stroke-width="0.18">10<tspan font-size="4.6" dy="-3.3">4</tspan></text>
<line x1="463.6" y1="411.6" x2="465.2" y2="411.6" stroke="#555" stroke-width="0.7"/>
<line x1="543.0" y1="411.6" x2="544.6" y2="411.6" stroke="#555" stroke-width="0.7"/>
<text x="461.59999999999997" y="433.4" font-size="5.4" text-anchor="end" fill="#231f20" stroke="#231f20" stroke-width="0.18">10<tspan font-size="4.6" dy="-3.3">3</tspan></text>
<line x1="463.6" y1="428.1" x2="465.2" y2="428.1" stroke="#555" stroke-width="0.7"/>
<line x1="543.0" y1="428.1" x2="544.6" y2="428.1" stroke="#555" stroke-width="0.7"/>
<text x="461.59999999999997" y="451.9" font-size="5.4" text-anchor="end" fill="#231f20" stroke="#231f20" stroke-width="0.18">10<tspan font-size="4.6" dy="-3.3">2</tspan></text>
<line x1="463.6" y1="446.6" x2="465.2" y2="446.6" stroke="#555" stroke-width="0.7"/>
<line x1="543.0" y1="446.6" x2="544.6" y2="446.6" stroke="#555" stroke-width="0.7"/>
<text x="461.59999999999997" y="472.6" font-size="5.4" text-anchor="end" fill="#231f20" stroke="#231f20" stroke-width="0.18">10<tspan font-size="4.6" dy="-3.3">1</tspan></text>
<line x1="463.6" y1="466.1" x2="465.2" y2="466.1" stroke="#555" stroke-width="0.7"/>
<line x1="543.0" y1="466.1" x2="544.6" y2="466.1" stroke="#555" stroke-width="0.7"/>
<text x="461.59999999999997" y="486.6" font-size="5.4" text-anchor="end" fill="#231f20" stroke="#231f20" stroke-width="0.18">10<tspan font-size="4.6" dy="-3.3">0</tspan></text>
<line x1="463.6" y1="487.6" x2="465.2" y2="487.6" stroke="#555" stroke-width="0.7"/>
<line x1="543.0" y1="487.6" x2="544.6" y2="487.6" stroke="#555" stroke-width="0.7"/>
<text x="471.4" y="498.4" font-size="5.4" text-anchor="middle" fill="#231f20" stroke="#231f20" stroke-width="0.18">10<tspan font-size="4.6" dy="-3.5">0</tspan></text>
<text x="488.6" y="498.4" font-size="5.4" text-anchor="middle" fill="#231f20" stroke="#231f20" stroke-width="0.18">10<tspan font-size="4.6" dy="-3.5">1</tspan></text>
<text x="507.4" y="498.4" font-size="5.4" text-anchor="middle" fill="#231f20" stroke="#231f20" stroke-width="0.18">10<tspan font-size="4.6" dy="-3.5">2</tspan></text>
<text x="526.2" y="498.4" font-size="5.4" text-anchor="middle" fill="#231f20" stroke="#231f20" stroke-width="0.18">10<tspan font-size="4.6" dy="-3.5">3</tspan></text>
<text x="538.8" y="498.4" font-size="5.4" text-anchor="middle" fill="#231f20" stroke="#231f20" stroke-width="0.18">10<tspan font-size="4.6" dy="-3.5">4</tspan></text>
<line x1="465.8" y1="488.0" x2="465.8" y2="489.6" stroke="#555" stroke-width="0.7"/>
<line x1="475.2" y1="488.0" x2="475.2" y2="489.6" stroke="#555" stroke-width="0.7"/>
<line x1="485.5" y1="488.0" x2="485.5" y2="489.6" stroke="#555" stroke-width="0.7"/>
<line x1="495.3" y1="488.0" x2="495.3" y2="489.6" stroke="#555" stroke-width="0.7"/>
<line x1="513.3" y1="488.0" x2="513.3" y2="489.6" stroke="#555" stroke-width="0.7"/>
<line x1="524.8" y1="488.0" x2="524.8" y2="489.6" stroke="#555" stroke-width="0.7"/>
<line x1="532.9" y1="488.0" x2="532.9" y2="489.6" stroke="#555" stroke-width="0.7"/>
<line x1="542.8" y1="488.0" x2="542.8" y2="489.6" stroke="#555" stroke-width="0.7"/>
<text transform="translate(354.4,244.3) rotate(-90)" font-size="10.4" fill="#231f20" textLength="15" lengthAdjust="spacingAndGlyphs" stroke="#231f20" stroke-width="0.18">Fas</text>
<text transform="translate(354.3,369.7) rotate(-90)" font-size="10.4" fill="#231f20" textLength="15" lengthAdjust="spacingAndGlyphs" stroke="#231f20" stroke-width="0.18">Fas</text>
<text transform="translate(354,461.8) rotate(-90)" font-size="10.4" fill="#231f20" textLength="15" lengthAdjust="spacingAndGlyphs" stroke="#231f20" stroke-width="0.18">Fas</text>
<text x="410.1" y="293.8" font-size="9.4" text-anchor="middle" fill="#231f20" stroke="#231f20" stroke-width="0.18">PI</text>
<text x="408.6" y="508.2" font-size="9.4" text-anchor="middle" fill="#231f20" stroke="#231f20" stroke-width="0.18">PI</text>
<text x="507.8" y="293.6" font-size="9.4" text-anchor="middle" fill="#231f20" stroke="#231f20" stroke-width="0.18">PI</text>
<text x="506.5" y="508.2" font-size="9.4" text-anchor="middle" fill="#231f20" stroke="#231f20" stroke-width="0.18">PI</text>
<text x="11.1" y="396.2" font-size="13.8" font-weight="bold" fill="#111" stroke="#111" stroke-width="0.18">D</text>
<rect x="28.2" y="375" width="5.6" height="5.6" fill="#231f20"/>
<rect x="28.2" y="384.2" width="5.6" height="5.6" fill="#a7a9ac"/>
<text x="37.1" y="381.0" font-size="8.4" fill="#231f20" stroke="#231f20" stroke-width="0.18">Control</text>
<text x="37.1" y="390.2" font-size="8.4" fill="#231f20" stroke="#231f20" stroke-width="0.18">+FasL</text>
<line x1="33.8" y1="490.7" x2="33.8" y2="397.7" stroke="#8a8a8a" stroke-width="1.1"/>
<line x1="32.8" y1="490.7" x2="113.5" y2="490.7" stroke="#8a8a8a" stroke-width="1.1"/>
<line x1="31.6" y1="490.7" x2="33.8" y2="490.7" stroke="#8a8a8a" stroke-width="1"/>
<text x="32.2" y="494.1" font-size="9.8" text-anchor="end" fill="#231f20" stroke="#231f20" stroke-width="0.18">0</text>
<line x1="31.6" y1="472.1" x2="33.8" y2="472.1" stroke="#8a8a8a" stroke-width="1"/>
<text x="32.2" y="475.5" font-size="9.8" text-anchor="end" fill="#231f20" stroke="#231f20" stroke-width="0.18">10</text>
<line x1="31.6" y1="453.5" x2="33.8" y2="453.5" stroke="#8a8a8a" stroke-width="1"/>
<text x="32.2" y="456.9" font-size="9.8" text-anchor="end" fill="#231f20" stroke="#231f20" stroke-width="0.18">20</text>
<line x1="31.6" y1="434.9" x2="33.8" y2="434.9" stroke="#8a8a8a" stroke-width="1"/>
<text x="32.2" y="438.3" font-size="9.8" text-anchor="end" fill="#231f20" stroke="#231f20" stroke-width="0.18">30</text>
<line x1="31.6" y1="416.3" x2="33.8" y2="416.3" stroke="#8a8a8a" stroke-width="1"/>
<text x="32.2" y="419.7" font-size="9.8" text-anchor="end" fill="#231f20" stroke="#231f20" stroke-width="0.18">40</text>
<line x1="31.6" y1="397.7" x2="33.8" y2="397.7" stroke="#8a8a8a" stroke-width="1"/>
<text x="32.2" y="401.1" font-size="9.8" text-anchor="end" fill="#231f20" stroke="#231f20" stroke-width="0.18">50</text>
<rect x="40" y="475.8" width="5.9" height="14.9" fill="#231f20" stroke="#231f20" stroke-width="0.6"/>
<line x1="43.0" y1="475.8" x2="43.0" y2="473.2" stroke="#231f20" stroke-width="0.9"/>
<line x1="41.4" y1="473.2" x2="44.6" y2="473.2" stroke="#333" stroke-width="0.9"/>
<rect x="46.2" y="475.4" width="6.6" height="15.3" fill="#a7a9ac" stroke="#231f20" stroke-width="0.6"/>
<line x1="49.5" y1="475.4" x2="49.5" y2="472.7" stroke="#555" stroke-width="0.9"/>
<line x1="47.9" y1="472.7" x2="51.1" y2="472.7" stroke="#333" stroke-width="0.9"/>
<rect x="72.7" y="421.9" width="6.9" height="68.8" fill="#231f20" stroke="#231f20" stroke-width="0.6"/>
<line x1="76.2" y1="421.9" x2="76.2" y2="419.5" stroke="#231f20" stroke-width="0.9"/>
<line x1="74.6" y1="419.5" x2="77.8" y2="419.5" stroke="#333" stroke-width="0.9"/>
<rect x="79.6" y="454.1" width="7" height="36.6" fill="#a7a9ac" stroke="#231f20" stroke-width="0.6"/>
<line x1="83.1" y1="454.1" x2="83.1" y2="449.8" stroke="#555" stroke-width="0.9"/>
<line x1="81.5" y1="449.8" x2="84.7" y2="449.8" stroke="#333" stroke-width="0.9"/>
<rect x="95" y="421.9" width="6.9" height="68.8" fill="#231f20" stroke="#231f20" stroke-width="0.6"/>
<line x1="98.5" y1="421.9" x2="98.5" y2="419.5" stroke="#231f20" stroke-width="0.9"/>
<line x1="96.9" y1="419.5" x2="100.0" y2="419.5" stroke="#333" stroke-width="0.9"/>
<rect x="101.9" y="447.9" width="6.8" height="42.8" fill="#a7a9ac" stroke="#231f20" stroke-width="0.6"/>
<line x1="105.3" y1="447.9" x2="105.3" y2="436.4" stroke="#555" stroke-width="0.9"/>
<line x1="103.7" y1="436.4" x2="106.9" y2="436.4" stroke="#333" stroke-width="0.9"/>
<text x="45.8" y="500.5" font-size="9.2" text-anchor="middle" fill="#231f20" stroke="#231f20" stroke-width="0.18">Control</text>
<line x1="140.3" y1="490.5" x2="140.3" y2="397.5" stroke="#8a8a8a" stroke-width="1.1"/>
<line x1="139.3" y1="490.5" x2="218.0" y2="490.5" stroke="#8a8a8a" stroke-width="1.1"/>
<line x1="138.1" y1="490.5" x2="140.3" y2="490.5" stroke="#8a8a8a" stroke-width="1"/>
<text x="138.7" y="493.9" font-size="9.8" text-anchor="end" fill="#231f20" stroke="#231f20" stroke-width="0.18">0</text>
<line x1="138.1" y1="471.9" x2="140.3" y2="471.9" stroke="#8a8a8a" stroke-width="1"/>
<text x="138.7" y="475.3" font-size="9.8" text-anchor="end" fill="#231f20" stroke="#231f20" stroke-width="0.18">10</text>
<line x1="138.1" y1="453.3" x2="140.3" y2="453.3" stroke="#8a8a8a" stroke-width="1"/>
<text x="138.7" y="456.7" font-size="9.8" text-anchor="end" fill="#231f20" stroke="#231f20" stroke-width="0.18">20</text>
<line x1="138.1" y1="434.7" x2="140.3" y2="434.7" stroke="#8a8a8a" stroke-width="1"/>
<text x="138.7" y="438.1" font-size="9.8" text-anchor="end" fill="#231f20" stroke="#231f20" stroke-width="0.18">30</text>
<line x1="138.1" y1="416.1" x2="140.3" y2="416.1" stroke="#8a8a8a" stroke-width="1"/>
<text x="138.7" y="419.5" font-size="9.8" text-anchor="end" fill="#231f20" stroke="#231f20" stroke-width="0.18">40</text>
<line x1="138.1" y1="397.5" x2="140.3" y2="397.5" stroke="#8a8a8a" stroke-width="1"/>
<text x="138.7" y="400.9" font-size="9.8" text-anchor="end" fill="#231f20" stroke="#231f20" stroke-width="0.18">50</text>
<rect x="144.5" y="468.2" width="6.2" height="22.3" fill="#231f20" stroke="#231f20" stroke-width="0.6"/>
<line x1="147.6" y1="468.2" x2="147.6" y2="459.8" stroke="#231f20" stroke-width="0.9"/>
<line x1="146.0" y1="459.8" x2="149.2" y2="459.8" stroke="#333" stroke-width="0.9"/>
<rect x="150.9" y="473.8" width="6.5" height="16.7" fill="#a7a9ac" stroke="#231f20" stroke-width="0.6"/>
<line x1="154.2" y1="473.8" x2="154.2" y2="469.1" stroke="#555" stroke-width="0.9"/>
<line x1="152.6" y1="469.1" x2="155.8" y2="469.1" stroke="#333" stroke-width="0.9"/>
<rect x="177.3" y="462.6" width="6.9" height="27.9" fill="#231f20" stroke="#231f20" stroke-width="0.6"/>
<line x1="180.8" y1="462.6" x2="180.8" y2="457.0" stroke="#231f20" stroke-width="0.9"/>
<line x1="179.2" y1="457.0" x2="182.3" y2="457.0" stroke="#333" stroke-width="0.9"/>
<rect x="184.2" y="439.4" width="6.8" height="51.2" fill="#a7a9ac" stroke="#231f20" stroke-width="0.6"/>
<line x1="187.6" y1="439.4" x2="187.6" y2="430.8" stroke="#555" stroke-width="0.9"/>
<line x1="186.0" y1="430.8" x2="189.2" y2="430.8" stroke="#333" stroke-width="0.9"/>
<rect x="200" y="459.8" width="6.6" height="30.7" fill="#231f20" stroke="#231f20" stroke-width="0.6"/>
<line x1="203.3" y1="459.8" x2="203.3" y2="455.2" stroke="#231f20" stroke-width="0.9"/>
<line x1="201.7" y1="455.2" x2="204.9" y2="455.2" stroke="#333" stroke-width="0.9"/>
<rect x="206.8" y="429.1" width="7.3" height="61.4" fill="#a7a9ac" stroke="#231f20" stroke-width="0.6"/>
<line x1="210.5" y1="429.1" x2="210.5" y2="416.1" stroke="#555" stroke-width="0.9"/>
<line x1="208.9" y1="416.1" x2="212.1" y2="416.1" stroke="#333" stroke-width="0.9"/>
<text x="152.6" y="500.5" font-size="9.2" text-anchor="middle" fill="#231f20" stroke="#231f20" stroke-width="0.18">Control</text>
<line x1="246.3" y1="490.4" x2="246.3" y2="399.2" stroke="#8a8a8a" stroke-width="1.1"/>
<line x1="245.3" y1="490.4" x2="322.2" y2="490.4" stroke="#8a8a8a" stroke-width="1.1"/>
<line x1="244.1" y1="490.4" x2="246.3" y2="490.4" stroke="#8a8a8a" stroke-width="1"/>
<text x="244.7" y="493.8" font-size="9.8" text-anchor="end" fill="#231f20" stroke="#231f20" stroke-width="0.18">0</text>
<line x1="244.1" y1="460.0" x2="246.3" y2="460.0" stroke="#8a8a8a" stroke-width="1"/>
<text x="244.7" y="463.4" font-size="9.8" text-anchor="end" fill="#231f20" stroke="#231f20" stroke-width="0.18">10</text>
<line x1="244.1" y1="429.6" x2="246.3" y2="429.6" stroke="#8a8a8a" stroke-width="1"/>
<text x="244.7" y="433.0" font-size="9.8" text-anchor="end" fill="#231f20" stroke="#231f20" stroke-width="0.18">20</text>
<line x1="244.1" y1="399.2" x2="246.3" y2="399.2" stroke="#8a8a8a" stroke-width="1"/>
<text x="244.7" y="402.6" font-size="9.8" text-anchor="end" fill="#231f20" stroke="#231f20" stroke-width="0.18">30</text>
<rect x="249.6" y="481.3" width="7" height="9.1" fill="#231f20" stroke="#231f20" stroke-width="0.6"/>
<line x1="253.1" y1="481.3" x2="253.1" y2="479.5" stroke="#231f20" stroke-width="0.9"/>
<line x1="251.5" y1="479.5" x2="254.7" y2="479.5" stroke="#333" stroke-width="0.9"/>
<rect x="256.6" y="479.2" width="7.3" height="11.2" fill="#a7a9ac" stroke="#231f20" stroke-width="0.6"/>
<line x1="260.2" y1="479.2" x2="260.2" y2="476.4" stroke="#555" stroke-width="0.9"/>
<line x1="258.6" y1="476.4" x2="261.9" y2="476.4" stroke="#333" stroke-width="0.9"/>
<rect x="285.9" y="413.8" width="7" height="76.6" fill="#231f20" stroke="#231f20" stroke-width="0.6"/>
<line x1="289.4" y1="413.8" x2="289.4" y2="412.0" stroke="#231f20" stroke-width="0.9"/>
<line x1="287.8" y1="412.0" x2="291.0" y2="412.0" stroke="#333" stroke-width="0.9"/>
<rect x="292.9" y="485.5" width="7.3" height="4.9" fill="#a7a9ac" stroke="#231f20" stroke-width="0.6"/>
<line x1="296.5" y1="485.5" x2="296.5" y2="483.7" stroke="#555" stroke-width="0.9"/>
<line x1="294.9" y1="483.7" x2="298.1" y2="483.7" stroke="#333" stroke-width="0.9"/>
<rect x="309.2" y="415.0" width="7" height="75.4" fill="#231f20" stroke="#231f20" stroke-width="0.6"/>
<line x1="312.7" y1="415.0" x2="312.7" y2="413.8" stroke="#231f20" stroke-width="0.9"/>
<line x1="311.1" y1="413.8" x2="314.3" y2="413.8" stroke="#333" stroke-width="0.9"/>
<rect x="316.2" y="485.5" width="6.8" height="4.9" fill="#a7a9ac" stroke="#231f20" stroke-width="0.6"/>
<line x1="319.6" y1="485.5" x2="319.6" y2="483.7" stroke="#555" stroke-width="0.9"/>
<line x1="318.0" y1="483.7" x2="321.2" y2="483.7" stroke="#333" stroke-width="0.9"/>
<text x="257.4" y="500.5" font-size="9.2" text-anchor="middle" fill="#231f20" stroke="#231f20" stroke-width="0.18">Control</text>
<line x1="72.0" y1="499.2" x2="109.0" y2="499.2" stroke="#231f20" stroke-width="0.8"/>
<text x="91.0" y="507.3" font-size="9.3" text-anchor="middle" fill="#231f20" stroke="#231f20" stroke-width="0.18">Transfection</text>
<text x="79.6" y="498.2" font-size="9" text-anchor="middle" fill="#231f20" stroke="#231f20" stroke-width="0.18">1</text>
<text x="102.0" y="498.2" font-size="9" text-anchor="middle" fill="#231f20" stroke="#231f20" stroke-width="0.18">2</text>
<text x="46.2" y="464.5" font-size="8.6" text-anchor="middle" fill="#231f20" stroke="#231f20" stroke-width="0.18">ns</text>
<line x1="40.4" y1="466.9" x2="51.7" y2="466.9" stroke="#c8c8c8" stroke-width="0.7"/>
<line x1="173.7" y1="499.2" x2="214.0" y2="499.2" stroke="#231f20" stroke-width="0.8"/>
<text x="196.0" y="507.3" font-size="9.3" text-anchor="middle" fill="#231f20" stroke="#231f20" stroke-width="0.18">Transfection</text>
<text x="185.4" y="498.2" font-size="9" text-anchor="middle" fill="#231f20" stroke="#231f20" stroke-width="0.18">1</text>
<text x="207.0" y="498.2" font-size="9" text-anchor="middle" fill="#231f20" stroke="#231f20" stroke-width="0.18">2</text>
<text x="150.8" y="452.3" font-size="8.6" text-anchor="middle" fill="#231f20" stroke="#231f20" stroke-width="0.18">ns</text>
<line x1="146.0" y1="455.0" x2="155.5" y2="455.0" stroke="#c8c8c8" stroke-width="0.7"/>
<line x1="279.4" y1="499.2" x2="322.2" y2="499.2" stroke="#231f20" stroke-width="0.8"/>
<text x="302.8" y="507.3" font-size="9.3" text-anchor="middle" fill="#231f20" stroke="#231f20" stroke-width="0.18">Transfection</text>
<text x="291.8" y="498.2" font-size="9" text-anchor="middle" fill="#231f20" stroke="#231f20" stroke-width="0.18">1</text>
<text x="315.4" y="498.2" font-size="9" text-anchor="middle" fill="#231f20" stroke="#231f20" stroke-width="0.18">2</text>
<text x="256.8" y="469.2" font-size="8.6" text-anchor="middle" fill="#231f20" stroke="#231f20" stroke-width="0.18">ns</text>
<line x1="252.0" y1="471.2" x2="261.5" y2="471.2" stroke="#c8c8c8" stroke-width="0.7"/>
<text transform="translate(80.6,411.7) rotate(-90)" font-size="9.6" fill="#231f20" stroke="#231f20" stroke-width="0.18"><tspan font-style="italic">p</tspan>&lt;0.0001</text>
<text transform="translate(103.5,411.7) rotate(-90)" font-size="9.6" fill="#231f20" stroke="#231f20" stroke-width="0.18"><tspan font-style="italic">p</tspan>&lt;0.0001</text>
<text transform="translate(185.9,425.8) rotate(-90)" font-size="9.6" fill="#231f20" stroke="#231f20" stroke-width="0.18"><tspan font-style="italic">p</tspan>=0.0058</text>
<text transform="translate(210.4,412.1) rotate(-90)" font-size="9.6" fill="#231f20" stroke="#231f20" stroke-width="0.18"><tspan font-style="italic">p</tspan>=0.0003</text>
<text transform="translate(295.2,408.5) rotate(-90)" font-size="9.6" fill="#231f20" stroke="#231f20" stroke-width="0.18"><tspan font-style="italic">p</tspan>&lt;0.0001</text>
<text transform="translate(318.7,407.3) rotate(-90)" font-size="9.6" fill="#231f20" stroke="#231f20" stroke-width="0.18"><tspan font-style="italic">p</tspan>&lt;0.0001</text>
<line x1="73.0" y1="413.5" x2="86.5" y2="413.5" stroke="#d0d0d0" stroke-width="0.7"/>
<line x1="95.5" y1="413.5" x2="108.5" y2="413.5" stroke="#d0d0d0" stroke-width="0.7"/>
<line x1="178.5" y1="427.5" x2="191.0" y2="427.5" stroke="#d0d0d0" stroke-width="0.7"/>
<line x1="201.0" y1="414.0" x2="214.0" y2="414.0" stroke="#d0d0d0" stroke-width="0.7"/>
<line x1="286.0" y1="410.5" x2="300.0" y2="410.5" stroke="#d0d0d0" stroke-width="0.7"/>
<line x1="309.5" y1="409.5" x2="323.0" y2="409.5" stroke="#d0d0d0" stroke-width="0.7"/>
<text transform="translate(21.2,467.2) rotate(-90)" font-size="9.2" fill="#231f20" stroke="#231f20" stroke-width="0.18">% Fas<tspan font-size="6" dy="-3.5">+</tspan><tspan dy="3.5"> cells</tspan></text>
<text transform="translate(125.3,473.4) rotate(-90)" font-size="9.2" fill="#231f20" stroke="#231f20" stroke-width="0.18">% cell death</text>
<text transform="translate(231.3,481) rotate(-90)" font-size="9.2" fill="#231f20" stroke="#231f20" stroke-width="0.18">% Fas<tspan font-size="6" dy="-3.5">+</tspan><tspan dy="3.5"> PI</tspan><tspan font-size="6" dy="-3.5">-</tspan><tspan dy="3.5"> cells</tspan></text>
</svg></body></html>
